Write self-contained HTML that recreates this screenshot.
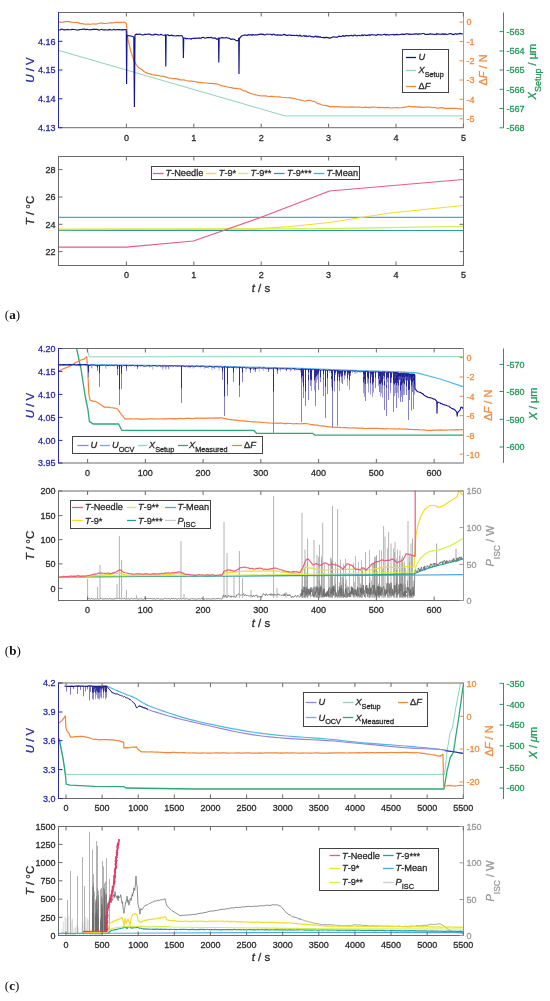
<!DOCTYPE html>
<html><head><meta charset="utf-8"><title>Figure</title>
<style>
html,body{margin:0;padding:0;background:#fff;}
svg{display:block;}
text{font-family:"Liberation Sans",Arial,sans-serif;}
</style></head>
<body>
<svg width="550" height="1001" viewBox="0 0 550 1001">
<rect width="550" height="1001" fill="#fff"/>
<polyline points="59,50.5 285,115.9 463,115.9" fill="none" stroke="#8fd4b8" stroke-width="1" stroke-linejoin="round"/>
<polyline points="59,21.94 61,22.32 63,22.14 65,21.67 67,21.72 69,21.56 71.25,22.06 73.5,22.5 75.75,22.37 78,22.67 80.25,23.59 82.5,23.65 84.75,24.23 87,24.05 89,24.21 91,24.26 93,23.76 95,24.11 97.25,23.96 99.5,23.22 101.75,23.09 104,23.33 106.2,23.51 108.4,23.02 110.6,22.8 112.8,22.85 115,22.47 117.15,22.46 119.3,22.46 121.45,22.35 123.6,22.01 125.6,22.81 126.4,23.8 128,39.97 131,51.85 134,60.67 136,64.24 138,67.04 140,68.6 142,69.78 144,71.54 146,72.65 148,73.33 150,73.88 152,74.56 154,74.85 156,75.31 158,75.25 160,75.83 162,76.2 164,76.42 166,77.1 168,77.79 170,78.24 172,78.32 174,78.7 176,78.63 178,79.1 180,79.81 182,79.82 184,79.93 186,80.47 188,80.86 190,81.12 192,81.19 194,81.52 196,81.85 198,82.31 200,82.41 202,82.63 204,82.99 206,82.97 208,83.28 210,83.44 212,83.34 214,83.57 216,83.93 218,84.27 220,85 222,85.84 224,86.19 226,86.53 228,87.25 230,87.31 232,87.81 234,88.42 236,88.45 238,88.67 240,88.84 242,89.83 244,90.92 246,91.05 248,92.4 250,93.22 252.5,93.97 255,94.57 257.5,95.22 260,95.61 262,95.8 264,95.87 266,95.77 268,96.5 270,96.45 272,96.31 274,96.64 276,96.75 278,96.78 280,96.89 282,97.23 284,97.49 286,97.68 288,97.77 290,97.67 292,98.13 294,98.41 296,99.02 298,99.53 300,99.81 302.5,100.51 305,101.22 307.5,100.33 310,100.24 312.5,101.12 315,101.71 318,103.66 320.33,104.19 322.67,105.25 325,105.42 327.5,105.93 330,106.89 332,106.72 334,106.57 336,106.66 338,106.95 340,106.73 342,106.84 344,107.18 346,107.03 348,106.98 350,107.11 352,106.83 354,107.12 356,107.18 358,107.05 360,107.03 362,107.6 364,107.36 366,107.17 368,107.47 370,107.65 372,107.11 374,107.14 376,107.25 378,107.68 380,107.31 382,107.72 384,107.72 386,107.66 388,107.45 390,108.01 392,107.91 394,107.74 396,107.56 398,107.88 400,107.73 402,107.59 404,107.15 406,107.11 408,106.45 410,106.36 412,106.91 414,106.94 416,106.62 418,107.1 420,106.8 422,107.33 424,107.28 426,107.13 428,107.11 430,107.02 432,107.72 434,107.22 436,107.85 438,108.04 440,107.85 442.09,107.68 444.18,108.28 446.27,108.46 448.36,108.38 450.45,108.35 452.55,108.37 454.64,108.46 456.73,108.47 458.82,108.9 460.91,108.84 463,109" fill="none" stroke="#f4843a" stroke-width="1.2" stroke-linejoin="round"/>
<polyline points="59,30.01 60.21,30 61.43,29.2 62.64,29.23 63.86,29.9 65.07,29.81 66.29,29.75 67.5,29.43 68.72,29.7 69.93,29.7 71.15,29.67 72.36,29.29 73.57,29.54 74.79,29.5 76,29.8 77.22,30.05 78.43,30 79.65,29.64 80.86,29.55 82.08,29.39 83.29,29.18 84.51,29.17 85.72,29.57 86.93,29.44 88.15,29.49 89.36,29.95 90.58,29.62 91.79,29.65 93.01,29.36 94.22,29.17 95.44,29.44 96.65,29.27 97.87,29.61 99.08,30.05 100.29,29.76 101.51,29.31 102.72,29.95 103.94,29.87 105.15,29.81 106.37,29.97 107.58,29.84 108.8,29.86 110.01,29.47 111.23,30.03 112.44,30.02 113.65,29.3 114.87,29.83 116.08,29.79 117.3,29.57 118.51,29.63 119.73,29.59 120.94,29.98 122.16,29.6 123.37,29.9 124.59,29.47 125.8,29.6 126.3,29.8 126.6,84 127,35.6 127.5,35.42 128.75,35.78 130,35.81 131.25,36.12 132.5,36.29 133.8,37 134.4,107 135,35 136,34.31 137,34.15 138,34.46 139,34.18 140,34.07 141,34.42 142,34.97 143,34.83 144,34.78 145,34.17 146,34.5 147,34.2 148,34.07 149,33.98 150,34.09 151,34.89 152,34.8 153,34.8 154,34.81 155,34.16 156,34.31 157,34.68 158,34.82 159,34.97 160,35.02 161.04,34.29 162.08,35 163.12,35.21 164.16,35.17 165.2,34.95 165.5,34.97 165.8,66.4 166.15,34.97 167,34.97 168,34.61 169,35.61 170,35.6 171,35.32 172,35.11 173,35.85 174,35.55 175,35.95 176,35.98 177,35.68 178,35.64 179,35.91 180,35.79 181,35.56 182,35.79 183,37.59 183.1,38 183.4,58 183.75,38 184,38 185,38.05 186,38.74 187,38.41 188,38.74 189,38.72 190,38.63 191,39.27 192,38.31 193,38.46 194,38.15 195,38.55 196,38.07 197,38.08 198,38.43 199,37.88 200,38.06 201,38.42 202,37.51 203,37.44 204,37.6 205,38.16 206,37.97 207,37.52 208,37.6 209,37.41 210,37.69 211,37.2 212,37.9 213,38.09 214,38.13 215,37.86 216.4,39.06 217.8,38.97 218.5,38.32 218.8,62.4 219.15,38.32 218.9,38.32 220,38.11 221,37.9 222,37.5 223,38.09 224,37.73 225,37.95 226,37.61 227,37.74 228,38.26 229,38.16 230,38.67 231,39.55 232,39.09 233,38.98 234,39.26 235,39.64 236.17,40.65 237.33,40.52 238.5,40.77 238.7,38.06 239,74 239.35,38.06 239.75,38.06 241,36.53 242,35.81 243,35.46 244,35.18 245,35.07 246,35.08 247,35.53 248,34.84 249,34.61 250,34.99 251,34.67 252,35.45 253,34.43 254,34.83 255,35.05 256,34.6 257,35.19 258,34.58 259,34.27 260,34.4 261,33.94 262,34.31 263,34.14 264,34.87 265,34.83 266,34.48 267,33.99 268,34.26 269,34.27 270,34.25 271,34.3 272,35.02 273,34.24 274,34.16 275,35.15 276,34.77 277,35.26 278,34.64 279,35.21 280,34.96 281,35.13 282,35.1 283,34.84 284,34.42 285,34.57 286,35.33 287,35.38 288,35.42 289,34.8 290,35.17 291,35.38 292,35.26 293,35.5 294,35.23 295,35.42 296,35.5 297,35.1 298,35.87 299,35.95 300,35.03 301,36.11 302,36.19 303,35.96 304,35.36 305,36.39 306,35.63 307,36.65 308,36.4 309,35.83 310,36.03 311,36.61 312,36.6 313,36.85 314,37.11 315,36.39 316,36.21 317,37.28 318,36.34 319,37.35 320,36.58 321,37.42 322,37.47 323,37.66 324,37.38 325,37.82 326,37.15 327,37.75 328,37.45 329,38.15 330,38.1 331,37.64 332,37.56 333,36.88 334,36.75 335,37.24 336,36.99 337,37.27 338,36.85 339,36.2 340,36.32 341,36.63 342,36.23 343,35.53 344,36.3 345,36.16 346,35.32 347,35.79 348,35.58 349,36 350,35.45 351,35.34 352,35.59 353,36.08 354,35.1 355,35.09 356,35.62 357,35.88 358,35.44 359,35.33 360,35.77 361,35.65 362,34.84 363,35.71 364,34.92 365,35.01 366,35.57 367,35.09 368,35.47 369,34.75 370,35.5 371,34.7 372,34.64 373,34.99 374,34.79 375,34.99 376,35.36 377,35.12 378,34.31 379,34.62 380,34.85 381,34.77 382,35 383,34.72 384,34.25 385,34.42 386,35.06 387,34.5 388,34.93 389,35.15 390,34.74 391,34.77 392,34.68 393,34.33 394,34.97 395,34.46 396,34.93 397,34.25 398,34.84 399,34.74 400,34.52 401,34.32 402,33.96 403,34.64 404,34.17 405,34.48 406,33.88 407,33.8 408,33.85 409,34.56 410,33.85 411,34.62 412,34.02 413,34.22 414,33.96 415,34.23 416,33.63 417,33.95 418,34.52 419,33.67 420,34.17 421,33.81 422,33.78 423,33.48 424,33.47 425,34.49 426,34.36 427,34.33 428,34.34 429,34.5 430,33.62 431,34.09 432,33.99 433,34.08 434,34.48 435,34.29 436,34.52 437,33.58 438,34.17 439,34.19 440,34.27 441,34.13 442,34.36 443,33.78 444,34.47 445,33.9 446,34.11 447,34.44 448,34.22 449,33.79 450,33.7 451,33.81 452,34.14 453,34.55 454,34.44 455,33.89 456,33.89 457,34.35 458,33.76 459,33.9 460,33.46 461,33.65 462,34.04 463,34" fill="none" stroke="#14148c" stroke-width="1.15" stroke-linejoin="miter"/>
<line x1="58.5" y1="12.5" x2="463.5" y2="12.5" stroke="#6a6a6a" stroke-width="1"/>
<line x1="58.5" y1="127.7" x2="463.5" y2="127.7" stroke="#6a6a6a" stroke-width="1"/>
<line x1="58.5" y1="12" x2="58.5" y2="128.2" stroke="#2b2ba0" stroke-width="1"/>
<line x1="463.5" y1="12" x2="463.5" y2="128.2" stroke="#f08a3c" stroke-width="1"/>
<line x1="126.4" y1="127.7" x2="126.4" y2="123.7" stroke="#6a6a6a" stroke-width="1"/>
<line x1="126.4" y1="12.5" x2="126.4" y2="16.5" stroke="#6a6a6a" stroke-width="1"/>
<text x="126.4" y="140.6" font-size="9" fill="#2b2b2b" stroke="#2b2b2b" stroke-width="0.3" text-anchor="middle">0</text>
<line x1="193.8" y1="127.7" x2="193.8" y2="123.7" stroke="#6a6a6a" stroke-width="1"/>
<line x1="193.8" y1="12.5" x2="193.8" y2="16.5" stroke="#6a6a6a" stroke-width="1"/>
<text x="193.8" y="140.6" font-size="9" fill="#2b2b2b" stroke="#2b2b2b" stroke-width="0.3" text-anchor="middle">1</text>
<line x1="261.2" y1="127.7" x2="261.2" y2="123.7" stroke="#6a6a6a" stroke-width="1"/>
<line x1="261.2" y1="12.5" x2="261.2" y2="16.5" stroke="#6a6a6a" stroke-width="1"/>
<text x="261.2" y="140.6" font-size="9" fill="#2b2b2b" stroke="#2b2b2b" stroke-width="0.3" text-anchor="middle">2</text>
<line x1="328.6" y1="127.7" x2="328.6" y2="123.7" stroke="#6a6a6a" stroke-width="1"/>
<line x1="328.6" y1="12.5" x2="328.6" y2="16.5" stroke="#6a6a6a" stroke-width="1"/>
<text x="328.6" y="140.6" font-size="9" fill="#2b2b2b" stroke="#2b2b2b" stroke-width="0.3" text-anchor="middle">3</text>
<line x1="396" y1="127.7" x2="396" y2="123.7" stroke="#6a6a6a" stroke-width="1"/>
<line x1="396" y1="12.5" x2="396" y2="16.5" stroke="#6a6a6a" stroke-width="1"/>
<text x="396" y="140.6" font-size="9" fill="#2b2b2b" stroke="#2b2b2b" stroke-width="0.3" text-anchor="middle">4</text>
<line x1="463.4" y1="127.7" x2="463.4" y2="123.7" stroke="#6a6a6a" stroke-width="1"/>
<line x1="463.4" y1="12.5" x2="463.4" y2="16.5" stroke="#6a6a6a" stroke-width="1"/>
<text x="463.4" y="140.6" font-size="9" fill="#2b2b2b" stroke="#2b2b2b" stroke-width="0.3" text-anchor="middle">5</text>
<line x1="58.5" y1="127.7" x2="62.5" y2="127.7" stroke="#2b2ba0" stroke-width="1"/>
<text x="55.5" y="131" font-size="9" fill="#2b2ba0" stroke="#2b2ba0" stroke-width="0.3" text-anchor="end">4.13</text>
<line x1="58.5" y1="98.8" x2="62.5" y2="98.8" stroke="#2b2ba0" stroke-width="1"/>
<text x="55.5" y="102.1" font-size="9" fill="#2b2ba0" stroke="#2b2ba0" stroke-width="0.3" text-anchor="end">4.14</text>
<line x1="58.5" y1="70" x2="62.5" y2="70" stroke="#2b2ba0" stroke-width="1"/>
<text x="55.5" y="73.3" font-size="9" fill="#2b2ba0" stroke="#2b2ba0" stroke-width="0.3" text-anchor="end">4.15</text>
<line x1="58.5" y1="41.3" x2="62.5" y2="41.3" stroke="#2b2ba0" stroke-width="1"/>
<text x="55.5" y="44.6" font-size="9" fill="#2b2ba0" stroke="#2b2ba0" stroke-width="0.3" text-anchor="end">4.16</text>
<line x1="459.5" y1="22.1" x2="463.5" y2="22.1" stroke="#f08a3c" stroke-width="1"/>
<text x="466.5" y="25.4" font-size="9" fill="#f08a3c" stroke="#f08a3c" stroke-width="0.3" text-anchor="start">0</text>
<line x1="459.5" y1="41.5" x2="463.5" y2="41.5" stroke="#f08a3c" stroke-width="1"/>
<text x="466.5" y="44.8" font-size="9" fill="#f08a3c" stroke="#f08a3c" stroke-width="0.3" text-anchor="start">-1</text>
<line x1="459.5" y1="60.8" x2="463.5" y2="60.8" stroke="#f08a3c" stroke-width="1"/>
<text x="466.5" y="64.1" font-size="9" fill="#f08a3c" stroke="#f08a3c" stroke-width="0.3" text-anchor="start">-2</text>
<line x1="459.5" y1="80" x2="463.5" y2="80" stroke="#f08a3c" stroke-width="1"/>
<text x="466.5" y="83.3" font-size="9" fill="#f08a3c" stroke="#f08a3c" stroke-width="0.3" text-anchor="start">-3</text>
<line x1="459.5" y1="99.3" x2="463.5" y2="99.3" stroke="#f08a3c" stroke-width="1"/>
<text x="466.5" y="102.6" font-size="9" fill="#f08a3c" stroke="#f08a3c" stroke-width="0.3" text-anchor="start">-4</text>
<line x1="459.5" y1="118.8" x2="463.5" y2="118.8" stroke="#f08a3c" stroke-width="1"/>
<text x="466.5" y="122.1" font-size="9" fill="#f08a3c" stroke="#f08a3c" stroke-width="0.3" text-anchor="start">-5</text>
<line x1="503.5" y1="12.5" x2="503.5" y2="127.8" stroke="#23995a" stroke-width="1"/>
<line x1="499.5" y1="31.6" x2="503.5" y2="31.6" stroke="#23995a" stroke-width="1"/>
<text x="506.5" y="34.9" font-size="9" fill="#23995a" stroke="#23995a" stroke-width="0.3" text-anchor="start">-563</text>
<line x1="499.5" y1="51" x2="503.5" y2="51" stroke="#23995a" stroke-width="1"/>
<text x="506.5" y="54.3" font-size="9" fill="#23995a" stroke="#23995a" stroke-width="0.3" text-anchor="start">-564</text>
<line x1="499.5" y1="70" x2="503.5" y2="70" stroke="#23995a" stroke-width="1"/>
<text x="506.5" y="73.3" font-size="9" fill="#23995a" stroke="#23995a" stroke-width="0.3" text-anchor="start">-565</text>
<line x1="499.5" y1="89.3" x2="503.5" y2="89.3" stroke="#23995a" stroke-width="1"/>
<text x="506.5" y="92.6" font-size="9" fill="#23995a" stroke="#23995a" stroke-width="0.3" text-anchor="start">-566</text>
<line x1="499.5" y1="108.5" x2="503.5" y2="108.5" stroke="#23995a" stroke-width="1"/>
<text x="506.5" y="111.8" font-size="9" fill="#23995a" stroke="#23995a" stroke-width="0.3" text-anchor="start">-567</text>
<line x1="499.5" y1="127.8" x2="503.5" y2="127.8" stroke="#23995a" stroke-width="1"/>
<text x="506.5" y="131.1" font-size="9" fill="#23995a" stroke="#23995a" stroke-width="0.3" text-anchor="start">-568</text>
<text x="33.5" y="70" font-size="11.5" fill="#2b2ba0" stroke="#2b2ba0" stroke-width="0.3" text-anchor="middle" transform="rotate(-90 33.5 70)"><tspan font-style="italic">U</tspan> / V</text>
<text x="487" y="70" font-size="11" fill="#f08a3c" stroke="#f08a3c" stroke-width="0.3" text-anchor="middle" transform="rotate(-90 487 70)">Δ<tspan font-style="italic">F</tspan> / N</text>
<text x="536" y="71.6" font-size="11" fill="#23995a" stroke="#23995a" stroke-width="0.3" text-anchor="middle" transform="rotate(-90 536 71.6)"><tspan font-style="italic">X</tspan><tspan font-size="9" dy="5.5">Setup</tspan><tspan dy="-5.5"> / μm</tspan></text>
<rect x="402.5" y="49.5" width="46" height="43" fill="#fff" stroke="#444" stroke-width="1"/>
<line x1="406" y1="57.5" x2="416" y2="57.5" stroke="#14148c" stroke-width="1.3"/>
<line x1="406" y1="70.5" x2="416" y2="70.5" stroke="#8fd4b8" stroke-width="1.3"/>
<line x1="406" y1="86.5" x2="416" y2="86.5" stroke="#f4843a" stroke-width="1.3"/>
<text x="418.5" y="60.3" font-size="9.2" fill="#2b2b2b" stroke="#2b2b2b" stroke-width="0.3" text-anchor="start"><tspan font-style="italic">U</tspan></text>
<text x="418.5" y="73.3" font-size="9.2" fill="#2b2b2b" stroke="#2b2b2b" stroke-width="0.3" text-anchor="start"><tspan font-style="italic">X</tspan><tspan font-size="7.3" dy="3.5">Setup</tspan></text>
<text x="418.5" y="89.3" font-size="9.2" fill="#2b2b2b" stroke="#2b2b2b" stroke-width="0.3" text-anchor="start">Δ<tspan font-style="italic">F</tspan></text>
<polyline points="59,217.4 463,217.4" fill="none" stroke="#4fa6dc" stroke-width="1.2" stroke-linejoin="round"/>
<polyline points="59,230.5 463,230.5" fill="none" stroke="#2a9c9e" stroke-width="1.2" stroke-linejoin="round"/>
<polyline points="59,229.6 330,228.6 463,226.3" fill="none" stroke="#d6ef45" stroke-width="1.2" stroke-linejoin="round"/>
<polyline points="59,229.2 255,229.2 290,226.5 329.5,222.5 390,213 463,205.5" fill="none" stroke="#f3dc2a" stroke-width="1.2" stroke-linejoin="round"/>
<polyline points="59,247.2 126.4,247.2 193.4,241 260.5,217.5 329.5,191 463,179.5" fill="none" stroke="#ea5a84" stroke-width="1.2" stroke-linejoin="round"/>
<line x1="58.5" y1="156.5" x2="463.5" y2="156.5" stroke="#6a6a6a" stroke-width="1"/>
<line x1="58.5" y1="265.5" x2="463.5" y2="265.5" stroke="#6a6a6a" stroke-width="1"/>
<line x1="58.5" y1="156" x2="58.5" y2="266" stroke="#6a6a6a" stroke-width="1"/>
<line x1="463.5" y1="156" x2="463.5" y2="266" stroke="#6a6a6a" stroke-width="1"/>
<line x1="126.4" y1="265.5" x2="126.4" y2="261.5" stroke="#6a6a6a" stroke-width="1"/>
<line x1="126.4" y1="156.5" x2="126.4" y2="160.5" stroke="#6a6a6a" stroke-width="1"/>
<text x="126.4" y="277.6" font-size="9" fill="#2b2b2b" stroke="#2b2b2b" stroke-width="0.3" text-anchor="middle">0</text>
<line x1="193.8" y1="265.5" x2="193.8" y2="261.5" stroke="#6a6a6a" stroke-width="1"/>
<line x1="193.8" y1="156.5" x2="193.8" y2="160.5" stroke="#6a6a6a" stroke-width="1"/>
<text x="193.8" y="277.6" font-size="9" fill="#2b2b2b" stroke="#2b2b2b" stroke-width="0.3" text-anchor="middle">1</text>
<line x1="261.2" y1="265.5" x2="261.2" y2="261.5" stroke="#6a6a6a" stroke-width="1"/>
<line x1="261.2" y1="156.5" x2="261.2" y2="160.5" stroke="#6a6a6a" stroke-width="1"/>
<text x="261.2" y="277.6" font-size="9" fill="#2b2b2b" stroke="#2b2b2b" stroke-width="0.3" text-anchor="middle">2</text>
<line x1="328.6" y1="265.5" x2="328.6" y2="261.5" stroke="#6a6a6a" stroke-width="1"/>
<line x1="328.6" y1="156.5" x2="328.6" y2="160.5" stroke="#6a6a6a" stroke-width="1"/>
<text x="328.6" y="277.6" font-size="9" fill="#2b2b2b" stroke="#2b2b2b" stroke-width="0.3" text-anchor="middle">3</text>
<line x1="396" y1="265.5" x2="396" y2="261.5" stroke="#6a6a6a" stroke-width="1"/>
<line x1="396" y1="156.5" x2="396" y2="160.5" stroke="#6a6a6a" stroke-width="1"/>
<text x="396" y="277.6" font-size="9" fill="#2b2b2b" stroke="#2b2b2b" stroke-width="0.3" text-anchor="middle">4</text>
<line x1="463.4" y1="265.5" x2="463.4" y2="261.5" stroke="#6a6a6a" stroke-width="1"/>
<line x1="463.4" y1="156.5" x2="463.4" y2="160.5" stroke="#6a6a6a" stroke-width="1"/>
<text x="463.4" y="277.6" font-size="9" fill="#2b2b2b" stroke="#2b2b2b" stroke-width="0.3" text-anchor="middle">5</text>
<line x1="58.5" y1="251.6" x2="62.5" y2="251.6" stroke="#6a6a6a" stroke-width="1"/>
<text x="55.5" y="254.9" font-size="9" fill="#2b2b2b" stroke="#2b2b2b" stroke-width="0.3" text-anchor="end">22</text>
<line x1="58.5" y1="224.3" x2="62.5" y2="224.3" stroke="#6a6a6a" stroke-width="1"/>
<text x="55.5" y="227.6" font-size="9" fill="#2b2b2b" stroke="#2b2b2b" stroke-width="0.3" text-anchor="end">24</text>
<line x1="58.5" y1="197" x2="62.5" y2="197" stroke="#6a6a6a" stroke-width="1"/>
<text x="55.5" y="200.3" font-size="9" fill="#2b2b2b" stroke="#2b2b2b" stroke-width="0.3" text-anchor="end">26</text>
<line x1="58.5" y1="169.6" x2="62.5" y2="169.6" stroke="#6a6a6a" stroke-width="1"/>
<text x="55.5" y="172.9" font-size="9" fill="#2b2b2b" stroke="#2b2b2b" stroke-width="0.3" text-anchor="end">28</text>
<line x1="459.5" y1="251.6" x2="463.5" y2="251.6" stroke="#6a6a6a" stroke-width="1"/>
<line x1="459.5" y1="224.3" x2="463.5" y2="224.3" stroke="#6a6a6a" stroke-width="1"/>
<line x1="459.5" y1="197" x2="463.5" y2="197" stroke="#6a6a6a" stroke-width="1"/>
<line x1="459.5" y1="169.6" x2="463.5" y2="169.6" stroke="#6a6a6a" stroke-width="1"/>
<text x="34" y="210.5" font-size="11.5" fill="#2b2b2b" stroke="#2b2b2b" stroke-width="0.3" text-anchor="middle" transform="rotate(-90 34 210.5)"><tspan font-style="italic">T</tspan> / °C</text>
<text x="261" y="291.8" font-size="11.5" fill="#2b2b2b" stroke="#2b2b2b" stroke-width="0.3" text-anchor="middle"><tspan font-style="italic">t</tspan> / s</text>
<rect x="151.5" y="166.5" width="208" height="13" fill="#fff" stroke="#444" stroke-width="1"/>
<line x1="153" y1="173.5" x2="163.5" y2="173.5" stroke="#ea5a84" stroke-width="1.3"/>
<text x="165.5" y="176" font-size="9.2" fill="#2b2b2b" stroke="#2b2b2b" stroke-width="0.3" text-anchor="start"><tspan font-style="italic">T</tspan>-Needle</text>
<line x1="206" y1="173.5" x2="216.4" y2="173.5" stroke="#f3dc2a" stroke-width="1.3"/>
<text x="218.8" y="176" font-size="9.2" fill="#2b2b2b" stroke="#2b2b2b" stroke-width="0.3" text-anchor="start"><tspan font-style="italic">T</tspan>-9*</text>
<line x1="238" y1="173.5" x2="248" y2="173.5" stroke="#d6ef45" stroke-width="1.3"/>
<text x="250.5" y="176" font-size="9.2" fill="#2b2b2b" stroke="#2b2b2b" stroke-width="0.3" text-anchor="start"><tspan font-style="italic">T</tspan>-9**</text>
<line x1="274" y1="173.5" x2="284.5" y2="173.5" stroke="#2a9c9e" stroke-width="1.3"/>
<text x="287" y="176" font-size="9.2" fill="#2b2b2b" stroke="#2b2b2b" stroke-width="0.3" text-anchor="start"><tspan font-style="italic">T</tspan>-9***</text>
<line x1="313.8" y1="173.5" x2="324.3" y2="173.5" stroke="#4fa6dc" stroke-width="1.3"/>
<text x="326.4" y="176" font-size="9.2" fill="#2b2b2b" stroke="#2b2b2b" stroke-width="0.3" text-anchor="start"><tspan font-style="italic">T</tspan>-Mean</text>
<text x="4.8" y="319" font-size="13" fill="#111" stroke="#111" stroke-width="0.3" text-anchor="start" style="font-family:'Liberation Serif',serif;font-weight:bold;stroke-width:0"><tspan style="font-weight:normal">(</tspan>a<tspan style="font-weight:normal">)</tspan></text>
<polyline points="86.6,348.5 88.2,353 89.2,356.8 463,356.6" fill="none" stroke="#8fd4b8" stroke-width="1" stroke-linejoin="round"/>
<polyline points="76.6,348.5 81,369 85,395 88,410 89.4,421.4 93,424 118.6,424 121.7,430.3 253.6,430.3 256.5,433.3 312.6,433.3 315,435.2 463,435.2" fill="none" stroke="#2ea777" stroke-width="1.3" stroke-linejoin="round"/>
<polyline points="59,370.98 62,369.52 65,368.17 68,366.99 71,365.5 73,364.28 75,362.87 78,361.5 81,360.05 84,359.12 86.8,356.84 87.8,371.92 88.8,393.84 90,400.12 93,401.08 95,401.32 97,402.19 100,404.19 102,405.56 104,407.05 106,407.06 108,407.21 110,407.61 112.33,407.76 114.67,408.14 117,408.5 119,411.11 121,413.99 123,416.43 125,419.04 127.08,418.92 129.17,418.97 131.25,418.92 133.33,419 135.42,418.92 137.5,418.86 139.58,419.16 141.67,419.16 143.75,419.11 145.83,419.07 147.92,418.92 150,418.89 152,418.89 154,418.77 156,419.02 158,418.84 160,418.99 162,418.77 164,418.97 166,418.9 168,418.53 170,418.58 172,418.83 174,418.63 176,418.8 178,418.54 180,418.38 182,418.57 184,418.6 186,418.37 188,418.26 190,418.33 192,418.56 194,418.45 196,418.17 198,418.2 200,418.12 202,418.07 204,418.34 206,418.07 208,418.2 210,418.13 212,418 214,418.19 216,417.93 218,418.11 220,417.87 222,417.97 224,418.29 226,418.71 228,419.39 230,419.72 232,419.72 234,420.15 236,420.08 238,420.36 240,420.74 242,420.86 244,420.84 246,421.4 248,421.29 250,421.5 252,421.85 254,421.81 256,421.94 258,421.99 260,422.14 262,422.47 264,422.48 266,422.76 268,422.81 270,422.98 272,423.24 274,423.11 276,423.21 278,423.39 280,423.17 282,423.22 284,423.58 286,423.61 288,423.44 290,423.48 292.14,423.7 294.29,423.78 296.43,423.48 298.57,423.78 300.71,423.75 302.86,423.64 305,423.57 307,423.72 309,423.98 311,424.63 313,424.62 315,425.08 317.14,425.19 319.29,425.7 321.43,425.9 323.57,426.06 325.71,426.3 327.86,426.8 330,426.83 332,426.99 334,427.22 336,427.44 338,427.45 340,427.41 342,427.77 344,427.58 346,427.61 348,427.81 350,427.98 352.04,427.86 354.07,427.94 356.11,428.06 358.15,428.18 360.19,428.04 362.22,428.17 364.26,428.42 366.3,428.49 368.33,428.4 370.37,428.45 372.41,428.44 374.44,428.3 376.48,428.3 378.52,428.33 380.56,428.72 382.59,428.67 384.63,428.81 386.67,428.48 388.7,428.76 390.74,428.73 392.78,428.87 394.81,428.74 396.85,429.05 398.89,428.72 400.93,428.94 402.96,429.06 405,429.16 407.08,429.2 409.17,429.3 411.25,429.44 413.33,429.6 415.42,429.48 417.5,429.72 419.58,429.92 421.67,430.02 423.75,429.94 425.83,430.2 427.92,430.34 430,430.33 432.06,430.31 434.12,430.17 436.19,430.2 438.25,430.17 440.31,429.91 442.38,430.09 444.44,430.19 446.5,430.1 448.56,430 450.62,429.82 452.69,429.91 454.75,429.81 456.81,429.71 458.88,429.82 460.94,429.48 463,429.6" fill="none" stroke="#f4843a" stroke-width="1.2" stroke-linejoin="round"/>
<polyline points="59,364.6 87.6,364.6 190,365.8 222,366.4 300,368.4 360,370.6 395,371.6 415,372.6 420,373.6 440,379 463,386.6" fill="none" stroke="#5ab4e4" stroke-width="1.2" stroke-linejoin="round"/>
<polyline points="59,364.83 60.51,364.77 62.01,364.83 63.52,364.68 65.02,364.93 66.53,364.93 68.03,364.86 69.54,364.66 71.04,364.81 72.55,364.73 74.05,364.7 75.56,364.98 77.06,365 78.57,364.62 80.07,364.94 81.58,364.84 83.08,364.75 84.59,364.71 86.09,364.87 87.6,364.8" fill="none" stroke="#14148c" stroke-width="1.2" stroke-linejoin="round"/>
<line x1="88.5" y1="365.3" x2="88.5" y2="377" stroke="#8580d0" stroke-width="1"/>
<line x1="88.5" y1="365.3" x2="88.5" y2="372.32" stroke="#2a2aa0" stroke-width="1"/>
<line x1="97.5" y1="365.4" x2="97.5" y2="371" stroke="#8580d0" stroke-width="1"/>
<line x1="97.5" y1="365.4" x2="97.5" y2="367.36" stroke="#2a2aa0" stroke-width="1"/>
<line x1="99.5" y1="365.42" x2="99.5" y2="387" stroke="#8580d0" stroke-width="1"/>
<line x1="99.5" y1="365.42" x2="99.5" y2="372.97" stroke="#2a2aa0" stroke-width="1"/>
<line x1="117.5" y1="365.59" x2="117.5" y2="375" stroke="#8580d0" stroke-width="1"/>
<line x1="117.5" y1="365.59" x2="117.5" y2="368.88" stroke="#2a2aa0" stroke-width="1"/>
<line x1="119.5" y1="365.61" x2="119.5" y2="405" stroke="#8580d0" stroke-width="1"/>
<line x1="119.5" y1="365.61" x2="119.5" y2="389.24" stroke="#2a2aa0" stroke-width="1"/>
<line x1="121.5" y1="365.63" x2="121.5" y2="389" stroke="#8580d0" stroke-width="1"/>
<line x1="121.5" y1="365.63" x2="121.5" y2="373.81" stroke="#2a2aa0" stroke-width="1"/>
<line x1="126.5" y1="365.68" x2="126.5" y2="371" stroke="#8580d0" stroke-width="1"/>
<line x1="126.5" y1="365.68" x2="126.5" y2="367.54" stroke="#2a2aa0" stroke-width="1"/>
<line x1="137.5" y1="365.78" x2="137.5" y2="369" stroke="#8580d0" stroke-width="1"/>
<line x1="137.5" y1="365.78" x2="137.5" y2="366.91" stroke="#2a2aa0" stroke-width="1"/>
<line x1="181.5" y1="366.21" x2="181.5" y2="403" stroke="#8580d0" stroke-width="1"/>
<line x1="181.5" y1="366.21" x2="181.5" y2="388.28" stroke="#2a2aa0" stroke-width="1"/>
<line x1="222.5" y1="367" x2="222.5" y2="380" stroke="#8580d0" stroke-width="1"/>
<line x1="222.5" y1="367" x2="222.5" y2="371.55" stroke="#2a2aa0" stroke-width="1"/>
<line x1="224.5" y1="367.06" x2="224.5" y2="416" stroke="#8580d0" stroke-width="1"/>
<line x1="224.5" y1="367.06" x2="224.5" y2="396.42" stroke="#2a2aa0" stroke-width="1"/>
<line x1="227.5" y1="367.14" x2="227.5" y2="396" stroke="#8580d0" stroke-width="1"/>
<line x1="227.5" y1="367.14" x2="227.5" y2="384.46" stroke="#2a2aa0" stroke-width="1"/>
<line x1="233.5" y1="367.33" x2="233.5" y2="382" stroke="#8580d0" stroke-width="1"/>
<line x1="233.5" y1="367.33" x2="233.5" y2="372.46" stroke="#2a2aa0" stroke-width="1"/>
<line x1="239.5" y1="367.5" x2="239.5" y2="397" stroke="#8580d0" stroke-width="1"/>
<line x1="239.5" y1="367.5" x2="239.5" y2="385.2" stroke="#2a2aa0" stroke-width="1"/>
<line x1="242.5" y1="367.58" x2="242.5" y2="382" stroke="#8580d0" stroke-width="1"/>
<line x1="242.5" y1="367.58" x2="242.5" y2="372.62" stroke="#2a2aa0" stroke-width="1"/>
<line x1="250.5" y1="367.79" x2="250.5" y2="373" stroke="#8580d0" stroke-width="1"/>
<line x1="250.5" y1="367.79" x2="250.5" y2="369.61" stroke="#2a2aa0" stroke-width="1"/>
<line x1="255.5" y1="367.93" x2="255.5" y2="372" stroke="#8580d0" stroke-width="1"/>
<line x1="255.5" y1="367.93" x2="255.5" y2="369.36" stroke="#2a2aa0" stroke-width="1"/>
<line x1="268.5" y1="368.3" x2="268.5" y2="372" stroke="#8580d0" stroke-width="1"/>
<line x1="268.5" y1="368.3" x2="268.5" y2="369.59" stroke="#2a2aa0" stroke-width="1"/>
<line x1="273.5" y1="368.44" x2="273.5" y2="434" stroke="#8580d0" stroke-width="1"/>
<line x1="273.5" y1="368.44" x2="273.5" y2="391.38" stroke="#2a2aa0" stroke-width="1"/>
<line x1="277.5" y1="368.55" x2="277.5" y2="374" stroke="#8580d0" stroke-width="1"/>
<line x1="277.5" y1="368.55" x2="277.5" y2="370.46" stroke="#2a2aa0" stroke-width="1"/>
<line x1="286.5" y1="368.81" x2="286.5" y2="371" stroke="#8580d0" stroke-width="1"/>
<line x1="286.5" y1="368.81" x2="286.5" y2="369.57" stroke="#2a2aa0" stroke-width="1"/>
<line x1="294.5" y1="369.03" x2="294.5" y2="370" stroke="#8580d0" stroke-width="1"/>
<line x1="294.5" y1="369.03" x2="294.5" y2="369.37" stroke="#2a2aa0" stroke-width="1"/>
<line x1="301.5" y1="369.24" x2="301.5" y2="422" stroke="#8580d0" stroke-width="1"/>
<line x1="301.5" y1="369.24" x2="301.5" y2="387.7" stroke="#2a2aa0" stroke-width="1"/>
<line x1="303.5" y1="369.31" x2="303.5" y2="398" stroke="#8580d0" stroke-width="1"/>
<line x1="303.5" y1="369.31" x2="303.5" y2="386.53" stroke="#2a2aa0" stroke-width="1"/>
<line x1="305.5" y1="369.39" x2="305.5" y2="406" stroke="#8580d0" stroke-width="1"/>
<line x1="305.5" y1="369.39" x2="305.5" y2="391.36" stroke="#2a2aa0" stroke-width="1"/>
<line x1="308.5" y1="369.51" x2="308.5" y2="400" stroke="#8580d0" stroke-width="1"/>
<line x1="308.5" y1="369.51" x2="308.5" y2="380.18" stroke="#2a2aa0" stroke-width="1"/>
<line x1="310.5" y1="369.58" x2="310.5" y2="386" stroke="#8580d0" stroke-width="1"/>
<line x1="310.5" y1="369.58" x2="310.5" y2="379.43" stroke="#2a2aa0" stroke-width="1"/>
<line x1="315.5" y1="369.77" x2="315.5" y2="406" stroke="#8580d0" stroke-width="1"/>
<line x1="315.5" y1="369.77" x2="315.5" y2="391.51" stroke="#2a2aa0" stroke-width="1"/>
<line x1="318.5" y1="369.89" x2="318.5" y2="390" stroke="#8580d0" stroke-width="1"/>
<line x1="318.5" y1="369.89" x2="318.5" y2="376.93" stroke="#2a2aa0" stroke-width="1"/>
<line x1="320.5" y1="369.97" x2="320.5" y2="382" stroke="#8580d0" stroke-width="1"/>
<line x1="320.5" y1="369.97" x2="320.5" y2="377.19" stroke="#2a2aa0" stroke-width="1"/>
<line x1="323.5" y1="370.08" x2="323.5" y2="396" stroke="#8580d0" stroke-width="1"/>
<line x1="323.5" y1="370.08" x2="323.5" y2="379.15" stroke="#2a2aa0" stroke-width="1"/>
<line x1="325.5" y1="370.16" x2="325.5" y2="418" stroke="#8580d0" stroke-width="1"/>
<line x1="325.5" y1="370.16" x2="325.5" y2="386.9" stroke="#2a2aa0" stroke-width="1"/>
<line x1="327.5" y1="370.24" x2="327.5" y2="394" stroke="#8580d0" stroke-width="1"/>
<line x1="327.5" y1="370.24" x2="327.5" y2="384.49" stroke="#2a2aa0" stroke-width="1"/>
<line x1="332.5" y1="370.45" x2="332.5" y2="428" stroke="#8580d0" stroke-width="1"/>
<line x1="332.5" y1="370.45" x2="332.5" y2="390.59" stroke="#2a2aa0" stroke-width="1"/>
<line x1="334.5" y1="370.5" x2="334.5" y2="382" stroke="#8580d0" stroke-width="1"/>
<line x1="334.5" y1="370.5" x2="334.5" y2="377.4" stroke="#2a2aa0" stroke-width="1"/>
<line x1="337.5" y1="370.64" x2="337.5" y2="426" stroke="#8580d0" stroke-width="1"/>
<line x1="337.5" y1="370.64" x2="337.5" y2="390.01" stroke="#2a2aa0" stroke-width="1"/>
<line x1="342.5" y1="370.81" x2="342.5" y2="384" stroke="#8580d0" stroke-width="1"/>
<line x1="342.5" y1="370.81" x2="342.5" y2="375.43" stroke="#2a2aa0" stroke-width="1"/>
<line x1="347.5" y1="371" x2="347.5" y2="378" stroke="#8580d0" stroke-width="1"/>
<line x1="347.5" y1="371" x2="347.5" y2="373.45" stroke="#2a2aa0" stroke-width="1"/>
<line x1="350.5" y1="371.12" x2="350.5" y2="376" stroke="#8580d0" stroke-width="1"/>
<line x1="350.5" y1="371.12" x2="350.5" y2="372.83" stroke="#2a2aa0" stroke-width="1"/>
<line x1="365.5" y1="371.66" x2="365.5" y2="401" stroke="#8580d0" stroke-width="1"/>
<line x1="365.5" y1="371.66" x2="365.5" y2="381.93" stroke="#2a2aa0" stroke-width="1"/>
<line x1="368.5" y1="371.75" x2="368.5" y2="384" stroke="#8580d0" stroke-width="1"/>
<line x1="368.5" y1="371.75" x2="368.5" y2="379.1" stroke="#2a2aa0" stroke-width="1"/>
<line x1="372.5" y1="371.88" x2="372.5" y2="382" stroke="#8580d0" stroke-width="1"/>
<line x1="372.5" y1="371.88" x2="372.5" y2="377.95" stroke="#2a2aa0" stroke-width="1"/>
<line x1="375.5" y1="371.97" x2="375.5" y2="388" stroke="#8580d0" stroke-width="1"/>
<line x1="375.5" y1="371.97" x2="375.5" y2="377.58" stroke="#2a2aa0" stroke-width="1"/>
<line x1="379.5" y1="372.1" x2="379.5" y2="392" stroke="#8580d0" stroke-width="1"/>
<line x1="379.5" y1="372.1" x2="379.5" y2="384.04" stroke="#2a2aa0" stroke-width="1"/>
<line x1="382.5" y1="372.19" x2="382.5" y2="382" stroke="#8580d0" stroke-width="1"/>
<line x1="382.5" y1="372.19" x2="382.5" y2="378.08" stroke="#2a2aa0" stroke-width="1"/>
<line x1="384.5" y1="372.25" x2="384.5" y2="410" stroke="#8580d0" stroke-width="1"/>
<line x1="384.5" y1="372.25" x2="384.5" y2="385.47" stroke="#2a2aa0" stroke-width="1"/>
<line x1="386.5" y1="372.32" x2="386.5" y2="416" stroke="#8580d0" stroke-width="1"/>
<line x1="386.5" y1="372.32" x2="386.5" y2="387.61" stroke="#2a2aa0" stroke-width="1"/>
<line x1="388.5" y1="372.38" x2="388.5" y2="400" stroke="#8580d0" stroke-width="1"/>
<line x1="388.5" y1="372.38" x2="388.5" y2="388.95" stroke="#2a2aa0" stroke-width="1"/>
<line x1="390.5" y1="372.44" x2="390.5" y2="390" stroke="#8580d0" stroke-width="1"/>
<line x1="390.5" y1="372.44" x2="390.5" y2="382.98" stroke="#2a2aa0" stroke-width="1"/>
<line x1="393.5" y1="372.54" x2="393.5" y2="412" stroke="#8580d0" stroke-width="1"/>
<line x1="393.5" y1="372.54" x2="393.5" y2="386.35" stroke="#2a2aa0" stroke-width="1"/>
<line x1="396.5" y1="372.7" x2="396.5" y2="407" stroke="#8580d0" stroke-width="1"/>
<line x1="396.5" y1="372.7" x2="396.5" y2="384.7" stroke="#2a2aa0" stroke-width="1"/>
<line x1="398.5" y1="372.88" x2="398.5" y2="386" stroke="#8580d0" stroke-width="1"/>
<line x1="398.5" y1="372.88" x2="398.5" y2="380.75" stroke="#2a2aa0" stroke-width="1"/>
<line x1="400.5" y1="373.08" x2="400.5" y2="402" stroke="#8580d0" stroke-width="1"/>
<line x1="400.5" y1="373.08" x2="400.5" y2="390.43" stroke="#2a2aa0" stroke-width="1"/>
<line x1="402.5" y1="373.26" x2="402.5" y2="402" stroke="#8580d0" stroke-width="1"/>
<line x1="402.5" y1="373.26" x2="402.5" y2="383.32" stroke="#2a2aa0" stroke-width="1"/>
<line x1="404.5" y1="373.46" x2="404.5" y2="382" stroke="#8580d0" stroke-width="1"/>
<line x1="404.5" y1="373.46" x2="404.5" y2="378.58" stroke="#2a2aa0" stroke-width="1"/>
<line x1="396.5" y1="372.7" x2="396.5" y2="408" stroke="#8580d0" stroke-width="1"/>
<line x1="396.5" y1="372.7" x2="396.5" y2="385.05" stroke="#2a2aa0" stroke-width="1"/>
<line x1="408.5" y1="373.84" x2="408.5" y2="420" stroke="#8580d0" stroke-width="1"/>
<line x1="408.5" y1="373.84" x2="408.5" y2="389.99" stroke="#2a2aa0" stroke-width="1"/>
<line x1="411.5" y1="374.12" x2="411.5" y2="410.5" stroke="#8580d0" stroke-width="1"/>
<line x1="411.5" y1="374.12" x2="411.5" y2="386.85" stroke="#2a2aa0" stroke-width="1"/>
<line x1="413.5" y1="374.31" x2="413.5" y2="409" stroke="#8580d0" stroke-width="1"/>
<line x1="413.5" y1="374.31" x2="413.5" y2="386.45" stroke="#2a2aa0" stroke-width="1"/>
<line x1="406.5" y1="373.64" x2="406.5" y2="395" stroke="#8580d0" stroke-width="1"/>
<line x1="406.5" y1="373.64" x2="406.5" y2="386.46" stroke="#2a2aa0" stroke-width="1"/>
<line x1="409.5" y1="373.93" x2="409.5" y2="400" stroke="#8580d0" stroke-width="1"/>
<line x1="409.5" y1="373.93" x2="409.5" y2="389.57" stroke="#2a2aa0" stroke-width="1"/>
<line x1="412.5" y1="374.22" x2="412.5" y2="392" stroke="#8580d0" stroke-width="1"/>
<line x1="412.5" y1="374.22" x2="412.5" y2="384.89" stroke="#2a2aa0" stroke-width="1"/>
<line x1="331.5" y1="370.41" x2="331.5" y2="387.35" stroke="#8a85d2" stroke-width="1" stroke-opacity="0.8"/>
<line x1="331.5" y1="370.41" x2="331.5" y2="378.88" stroke="#14148c" stroke-width="1" stroke-opacity="0.8"/>
<line x1="339.5" y1="370.73" x2="339.5" y2="390.96" stroke="#8a85d2" stroke-width="1" stroke-opacity="0.8"/>
<line x1="339.5" y1="370.73" x2="339.5" y2="380.85" stroke="#14148c" stroke-width="1" stroke-opacity="0.8"/>
<line x1="337.5" y1="370.63" x2="337.5" y2="390.6" stroke="#8a85d2" stroke-width="1" stroke-opacity="0.8"/>
<line x1="337.5" y1="370.63" x2="337.5" y2="380.61" stroke="#14148c" stroke-width="1" stroke-opacity="0.8"/>
<line x1="302.5" y1="369.29" x2="302.5" y2="382.38" stroke="#8a85d2" stroke-width="1" stroke-opacity="0.8"/>
<line x1="302.5" y1="369.29" x2="302.5" y2="375.84" stroke="#14148c" stroke-width="1" stroke-opacity="0.8"/>
<line x1="347.5" y1="371.01" x2="347.5" y2="385.68" stroke="#8a85d2" stroke-width="1" stroke-opacity="0.8"/>
<line x1="347.5" y1="371.01" x2="347.5" y2="378.35" stroke="#14148c" stroke-width="1" stroke-opacity="0.8"/>
<line x1="345.5" y1="370.93" x2="345.5" y2="376.04" stroke="#8a85d2" stroke-width="1" stroke-opacity="0.8"/>
<line x1="345.5" y1="370.93" x2="345.5" y2="373.48" stroke="#14148c" stroke-width="1" stroke-opacity="0.8"/>
<line x1="323.5" y1="370.12" x2="323.5" y2="378.44" stroke="#8a85d2" stroke-width="1" stroke-opacity="0.8"/>
<line x1="323.5" y1="370.12" x2="323.5" y2="374.28" stroke="#14148c" stroke-width="1" stroke-opacity="0.8"/>
<line x1="327.5" y1="370.26" x2="327.5" y2="384.33" stroke="#8a85d2" stroke-width="1" stroke-opacity="0.8"/>
<line x1="327.5" y1="370.26" x2="327.5" y2="377.3" stroke="#14148c" stroke-width="1" stroke-opacity="0.8"/>
<line x1="301.5" y1="369.26" x2="301.5" y2="377.9" stroke="#8a85d2" stroke-width="1" stroke-opacity="0.8"/>
<line x1="301.5" y1="369.26" x2="301.5" y2="373.58" stroke="#14148c" stroke-width="1" stroke-opacity="0.8"/>
<line x1="314.5" y1="369.76" x2="314.5" y2="390.49" stroke="#8a85d2" stroke-width="1" stroke-opacity="0.8"/>
<line x1="314.5" y1="369.76" x2="314.5" y2="380.13" stroke="#14148c" stroke-width="1" stroke-opacity="0.8"/>
<line x1="338.5" y1="370.68" x2="338.5" y2="376.87" stroke="#8a85d2" stroke-width="1" stroke-opacity="0.8"/>
<line x1="338.5" y1="370.68" x2="338.5" y2="373.77" stroke="#14148c" stroke-width="1" stroke-opacity="0.8"/>
<line x1="340.5" y1="370.74" x2="340.5" y2="376.5" stroke="#8a85d2" stroke-width="1" stroke-opacity="0.8"/>
<line x1="340.5" y1="370.74" x2="340.5" y2="373.62" stroke="#14148c" stroke-width="1" stroke-opacity="0.8"/>
<line x1="331.5" y1="370.4" x2="331.5" y2="376.28" stroke="#8a85d2" stroke-width="1" stroke-opacity="0.8"/>
<line x1="331.5" y1="370.4" x2="331.5" y2="373.34" stroke="#14148c" stroke-width="1" stroke-opacity="0.8"/>
<line x1="301.5" y1="369.24" x2="301.5" y2="389.69" stroke="#8a85d2" stroke-width="1" stroke-opacity="0.8"/>
<line x1="301.5" y1="369.24" x2="301.5" y2="379.46" stroke="#14148c" stroke-width="1" stroke-opacity="0.8"/>
<line x1="311.5" y1="369.63" x2="311.5" y2="377.88" stroke="#8a85d2" stroke-width="1" stroke-opacity="0.8"/>
<line x1="311.5" y1="369.63" x2="311.5" y2="373.76" stroke="#14148c" stroke-width="1" stroke-opacity="0.8"/>
<line x1="349.5" y1="371.08" x2="349.5" y2="389.7" stroke="#8a85d2" stroke-width="1" stroke-opacity="0.8"/>
<line x1="349.5" y1="371.08" x2="349.5" y2="380.39" stroke="#14148c" stroke-width="1" stroke-opacity="0.8"/>
<line x1="315.5" y1="369.78" x2="315.5" y2="391.31" stroke="#8a85d2" stroke-width="1" stroke-opacity="0.8"/>
<line x1="315.5" y1="369.78" x2="315.5" y2="380.54" stroke="#14148c" stroke-width="1" stroke-opacity="0.8"/>
<line x1="327.5" y1="370.25" x2="327.5" y2="386.2" stroke="#8a85d2" stroke-width="1" stroke-opacity="0.8"/>
<line x1="327.5" y1="370.25" x2="327.5" y2="378.23" stroke="#14148c" stroke-width="1" stroke-opacity="0.8"/>
<line x1="311.5" y1="369.62" x2="311.5" y2="390.94" stroke="#8a85d2" stroke-width="1" stroke-opacity="0.8"/>
<line x1="311.5" y1="369.62" x2="311.5" y2="380.28" stroke="#14148c" stroke-width="1" stroke-opacity="0.8"/>
<line x1="334.5" y1="370.54" x2="334.5" y2="391.4" stroke="#8a85d2" stroke-width="1" stroke-opacity="0.8"/>
<line x1="334.5" y1="370.54" x2="334.5" y2="380.97" stroke="#14148c" stroke-width="1" stroke-opacity="0.8"/>
<line x1="344.5" y1="370.92" x2="344.5" y2="379.38" stroke="#8a85d2" stroke-width="1" stroke-opacity="0.8"/>
<line x1="344.5" y1="370.92" x2="344.5" y2="375.15" stroke="#14148c" stroke-width="1" stroke-opacity="0.8"/>
<line x1="318.5" y1="369.92" x2="318.5" y2="376.99" stroke="#8a85d2" stroke-width="1" stroke-opacity="0.8"/>
<line x1="318.5" y1="369.92" x2="318.5" y2="373.45" stroke="#14148c" stroke-width="1" stroke-opacity="0.8"/>
<line x1="308.5" y1="369.51" x2="308.5" y2="375.17" stroke="#8a85d2" stroke-width="1" stroke-opacity="0.8"/>
<line x1="308.5" y1="369.51" x2="308.5" y2="372.34" stroke="#14148c" stroke-width="1" stroke-opacity="0.8"/>
<line x1="315.5" y1="369.8" x2="315.5" y2="384.86" stroke="#8a85d2" stroke-width="1" stroke-opacity="0.8"/>
<line x1="315.5" y1="369.8" x2="315.5" y2="377.33" stroke="#14148c" stroke-width="1" stroke-opacity="0.8"/>
<line x1="301.5" y1="369.24" x2="301.5" y2="386.2" stroke="#8a85d2" stroke-width="1" stroke-opacity="0.8"/>
<line x1="301.5" y1="369.24" x2="301.5" y2="377.72" stroke="#14148c" stroke-width="1" stroke-opacity="0.8"/>
<line x1="317.5" y1="369.87" x2="317.5" y2="379.58" stroke="#8a85d2" stroke-width="1" stroke-opacity="0.8"/>
<line x1="317.5" y1="369.87" x2="317.5" y2="374.73" stroke="#14148c" stroke-width="1" stroke-opacity="0.8"/>
<line x1="341.5" y1="370.78" x2="341.5" y2="382.65" stroke="#8a85d2" stroke-width="1" stroke-opacity="0.8"/>
<line x1="341.5" y1="370.78" x2="341.5" y2="376.71" stroke="#14148c" stroke-width="1" stroke-opacity="0.8"/>
<line x1="316.5" y1="369.83" x2="316.5" y2="382.66" stroke="#8a85d2" stroke-width="1" stroke-opacity="0.8"/>
<line x1="316.5" y1="369.83" x2="316.5" y2="376.25" stroke="#14148c" stroke-width="1" stroke-opacity="0.8"/>
<line x1="335.5" y1="370.56" x2="335.5" y2="375.03" stroke="#8a85d2" stroke-width="1" stroke-opacity="0.8"/>
<line x1="335.5" y1="370.56" x2="335.5" y2="372.79" stroke="#14148c" stroke-width="1" stroke-opacity="0.8"/>
<line x1="348.5" y1="371.07" x2="348.5" y2="374.41" stroke="#8a85d2" stroke-width="1" stroke-opacity="0.8"/>
<line x1="348.5" y1="371.07" x2="348.5" y2="372.74" stroke="#14148c" stroke-width="1" stroke-opacity="0.8"/>
<line x1="401.5" y1="373.26" x2="401.5" y2="394.59" stroke="#8a85d2" stroke-width="1" stroke-opacity="0.8"/>
<line x1="401.5" y1="373.26" x2="401.5" y2="383.93" stroke="#14148c" stroke-width="1" stroke-opacity="0.8"/>
<line x1="363.5" y1="371.62" x2="363.5" y2="393.33" stroke="#8a85d2" stroke-width="1" stroke-opacity="0.8"/>
<line x1="363.5" y1="371.62" x2="363.5" y2="382.48" stroke="#14148c" stroke-width="1" stroke-opacity="0.8"/>
<line x1="382.5" y1="372.19" x2="382.5" y2="388.73" stroke="#8a85d2" stroke-width="1" stroke-opacity="0.8"/>
<line x1="382.5" y1="372.19" x2="382.5" y2="380.46" stroke="#14148c" stroke-width="1" stroke-opacity="0.8"/>
<line x1="363.5" y1="371.61" x2="363.5" y2="377.03" stroke="#8a85d2" stroke-width="1" stroke-opacity="0.8"/>
<line x1="363.5" y1="371.61" x2="363.5" y2="374.32" stroke="#14148c" stroke-width="1" stroke-opacity="0.8"/>
<line x1="372.5" y1="371.89" x2="372.5" y2="397.01" stroke="#8a85d2" stroke-width="1" stroke-opacity="0.8"/>
<line x1="372.5" y1="371.89" x2="372.5" y2="384.45" stroke="#14148c" stroke-width="1" stroke-opacity="0.8"/>
<line x1="373.5" y1="371.92" x2="373.5" y2="392.63" stroke="#8a85d2" stroke-width="1" stroke-opacity="0.8"/>
<line x1="373.5" y1="371.92" x2="373.5" y2="382.27" stroke="#14148c" stroke-width="1" stroke-opacity="0.8"/>
<line x1="411.5" y1="374.15" x2="411.5" y2="396.72" stroke="#8a85d2" stroke-width="1" stroke-opacity="0.8"/>
<line x1="411.5" y1="374.15" x2="411.5" y2="385.44" stroke="#14148c" stroke-width="1" stroke-opacity="0.8"/>
<line x1="380.5" y1="372.16" x2="380.5" y2="383.81" stroke="#8a85d2" stroke-width="1" stroke-opacity="0.8"/>
<line x1="380.5" y1="372.16" x2="380.5" y2="377.98" stroke="#14148c" stroke-width="1" stroke-opacity="0.8"/>
<line x1="390.5" y1="372.45" x2="390.5" y2="393.06" stroke="#8a85d2" stroke-width="1" stroke-opacity="0.8"/>
<line x1="390.5" y1="372.45" x2="390.5" y2="382.76" stroke="#14148c" stroke-width="1" stroke-opacity="0.8"/>
<line x1="368.5" y1="371.77" x2="368.5" y2="392.46" stroke="#8a85d2" stroke-width="1" stroke-opacity="0.8"/>
<line x1="368.5" y1="371.77" x2="368.5" y2="382.12" stroke="#14148c" stroke-width="1" stroke-opacity="0.8"/>
<line x1="404.5" y1="373.5" x2="404.5" y2="394.91" stroke="#8a85d2" stroke-width="1" stroke-opacity="0.8"/>
<line x1="404.5" y1="373.5" x2="404.5" y2="384.21" stroke="#14148c" stroke-width="1" stroke-opacity="0.8"/>
<line x1="364.5" y1="371.65" x2="364.5" y2="396.81" stroke="#8a85d2" stroke-width="1" stroke-opacity="0.8"/>
<line x1="364.5" y1="371.65" x2="364.5" y2="384.23" stroke="#14148c" stroke-width="1" stroke-opacity="0.8"/>
<line x1="367.5" y1="371.74" x2="367.5" y2="383.5" stroke="#8a85d2" stroke-width="1" stroke-opacity="0.8"/>
<line x1="367.5" y1="371.74" x2="367.5" y2="377.62" stroke="#14148c" stroke-width="1" stroke-opacity="0.8"/>
<line x1="394.5" y1="372.59" x2="394.5" y2="396.2" stroke="#8a85d2" stroke-width="1" stroke-opacity="0.8"/>
<line x1="394.5" y1="372.59" x2="394.5" y2="384.4" stroke="#14148c" stroke-width="1" stroke-opacity="0.8"/>
<line x1="380.5" y1="372.15" x2="380.5" y2="396.33" stroke="#8a85d2" stroke-width="1" stroke-opacity="0.8"/>
<line x1="380.5" y1="372.15" x2="380.5" y2="384.24" stroke="#14148c" stroke-width="1" stroke-opacity="0.8"/>
<line x1="391.5" y1="372.49" x2="391.5" y2="382.87" stroke="#8a85d2" stroke-width="1" stroke-opacity="0.8"/>
<line x1="391.5" y1="372.49" x2="391.5" y2="377.68" stroke="#14148c" stroke-width="1" stroke-opacity="0.8"/>
<line x1="379.5" y1="372.11" x2="379.5" y2="379.9" stroke="#8a85d2" stroke-width="1" stroke-opacity="0.8"/>
<line x1="379.5" y1="372.11" x2="379.5" y2="376.01" stroke="#14148c" stroke-width="1" stroke-opacity="0.8"/>
<line x1="367.5" y1="371.72" x2="367.5" y2="379.28" stroke="#8a85d2" stroke-width="1" stroke-opacity="0.8"/>
<line x1="367.5" y1="371.72" x2="367.5" y2="375.5" stroke="#14148c" stroke-width="1" stroke-opacity="0.8"/>
<line x1="398.5" y1="372.96" x2="398.5" y2="397.93" stroke="#8a85d2" stroke-width="1" stroke-opacity="0.8"/>
<line x1="398.5" y1="372.96" x2="398.5" y2="385.45" stroke="#14148c" stroke-width="1" stroke-opacity="0.8"/>
<line x1="371.5" y1="371.86" x2="371.5" y2="377.07" stroke="#8a85d2" stroke-width="1" stroke-opacity="0.8"/>
<line x1="371.5" y1="371.86" x2="371.5" y2="374.46" stroke="#14148c" stroke-width="1" stroke-opacity="0.8"/>
<line x1="414.5" y1="374.43" x2="414.5" y2="387.74" stroke="#8a85d2" stroke-width="1" stroke-opacity="0.8"/>
<line x1="414.5" y1="374.43" x2="414.5" y2="381.09" stroke="#14148c" stroke-width="1" stroke-opacity="0.8"/>
<line x1="384.5" y1="372.26" x2="384.5" y2="381.22" stroke="#8a85d2" stroke-width="1" stroke-opacity="0.8"/>
<line x1="384.5" y1="372.26" x2="384.5" y2="376.74" stroke="#14148c" stroke-width="1" stroke-opacity="0.8"/>
<line x1="393.5" y1="372.56" x2="393.5" y2="394.18" stroke="#8a85d2" stroke-width="1" stroke-opacity="0.8"/>
<line x1="393.5" y1="372.56" x2="393.5" y2="383.37" stroke="#14148c" stroke-width="1" stroke-opacity="0.8"/>
<line x1="386.5" y1="372.34" x2="386.5" y2="385.28" stroke="#8a85d2" stroke-width="1" stroke-opacity="0.8"/>
<line x1="386.5" y1="372.34" x2="386.5" y2="378.81" stroke="#14148c" stroke-width="1" stroke-opacity="0.8"/>
<line x1="365.5" y1="371.69" x2="365.5" y2="396.15" stroke="#8a85d2" stroke-width="1" stroke-opacity="0.8"/>
<line x1="365.5" y1="371.69" x2="365.5" y2="383.92" stroke="#14148c" stroke-width="1" stroke-opacity="0.8"/>
<line x1="364.5" y1="371.65" x2="364.5" y2="386.86" stroke="#8a85d2" stroke-width="1" stroke-opacity="0.8"/>
<line x1="364.5" y1="371.65" x2="364.5" y2="379.25" stroke="#14148c" stroke-width="1" stroke-opacity="0.8"/>
<line x1="406.5" y1="373.7" x2="406.5" y2="378.87" stroke="#8a85d2" stroke-width="1" stroke-opacity="0.8"/>
<line x1="406.5" y1="373.7" x2="406.5" y2="376.29" stroke="#14148c" stroke-width="1" stroke-opacity="0.8"/>
<line x1="401.5" y1="373.17" x2="401.5" y2="396.9" stroke="#8a85d2" stroke-width="1" stroke-opacity="0.8"/>
<line x1="401.5" y1="373.17" x2="401.5" y2="385.03" stroke="#14148c" stroke-width="1" stroke-opacity="0.8"/>
<line x1="395.5" y1="372.67" x2="395.5" y2="393.34" stroke="#8a85d2" stroke-width="1" stroke-opacity="0.8"/>
<line x1="395.5" y1="372.67" x2="395.5" y2="383.01" stroke="#14148c" stroke-width="1" stroke-opacity="0.8"/>
<line x1="368.5" y1="371.77" x2="368.5" y2="385.56" stroke="#8a85d2" stroke-width="1" stroke-opacity="0.8"/>
<line x1="368.5" y1="371.77" x2="368.5" y2="378.66" stroke="#14148c" stroke-width="1" stroke-opacity="0.8"/>
<line x1="370.5" y1="371.84" x2="370.5" y2="394.58" stroke="#8a85d2" stroke-width="1" stroke-opacity="0.8"/>
<line x1="370.5" y1="371.84" x2="370.5" y2="383.21" stroke="#14148c" stroke-width="1" stroke-opacity="0.8"/>
<line x1="378.5" y1="372.08" x2="378.5" y2="385.97" stroke="#8a85d2" stroke-width="1" stroke-opacity="0.8"/>
<line x1="378.5" y1="372.08" x2="378.5" y2="379.02" stroke="#14148c" stroke-width="1" stroke-opacity="0.8"/>
<line x1="414.5" y1="374.5" x2="414.5" y2="394.75" stroke="#8a85d2" stroke-width="1" stroke-opacity="0.8"/>
<line x1="414.5" y1="374.5" x2="414.5" y2="384.62" stroke="#14148c" stroke-width="1" stroke-opacity="0.8"/>
<line x1="413.5" y1="374.38" x2="413.5" y2="385.98" stroke="#8a85d2" stroke-width="1" stroke-opacity="0.8"/>
<line x1="413.5" y1="374.38" x2="413.5" y2="380.18" stroke="#14148c" stroke-width="1" stroke-opacity="0.8"/>
<line x1="388.5" y1="372.39" x2="388.5" y2="392.05" stroke="#8a85d2" stroke-width="1" stroke-opacity="0.8"/>
<line x1="388.5" y1="372.39" x2="388.5" y2="382.22" stroke="#14148c" stroke-width="1" stroke-opacity="0.8"/>
<line x1="387.5" y1="372.38" x2="387.5" y2="382.4" stroke="#8a85d2" stroke-width="1" stroke-opacity="0.8"/>
<line x1="387.5" y1="372.38" x2="387.5" y2="377.39" stroke="#14148c" stroke-width="1" stroke-opacity="0.8"/>
<line x1="383.5" y1="372.25" x2="383.5" y2="379.22" stroke="#8a85d2" stroke-width="1" stroke-opacity="0.8"/>
<line x1="383.5" y1="372.25" x2="383.5" y2="375.74" stroke="#14148c" stroke-width="1" stroke-opacity="0.8"/>
<line x1="382.5" y1="372.21" x2="382.5" y2="397.74" stroke="#8a85d2" stroke-width="1" stroke-opacity="0.8"/>
<line x1="382.5" y1="372.21" x2="382.5" y2="384.98" stroke="#14148c" stroke-width="1" stroke-opacity="0.8"/>
<line x1="412.5" y1="374.3" x2="412.5" y2="389.79" stroke="#8a85d2" stroke-width="1" stroke-opacity="0.8"/>
<line x1="412.5" y1="374.3" x2="412.5" y2="382.05" stroke="#14148c" stroke-width="1" stroke-opacity="0.8"/>
<line x1="388.5" y1="372.41" x2="388.5" y2="383.45" stroke="#8a85d2" stroke-width="1" stroke-opacity="0.8"/>
<line x1="388.5" y1="372.41" x2="388.5" y2="377.93" stroke="#14148c" stroke-width="1" stroke-opacity="0.8"/>
<line x1="367.5" y1="371.74" x2="367.5" y2="381.99" stroke="#8a85d2" stroke-width="1" stroke-opacity="0.8"/>
<line x1="367.5" y1="371.74" x2="367.5" y2="376.87" stroke="#14148c" stroke-width="1" stroke-opacity="0.8"/>
<line x1="403.5" y1="373.42" x2="403.5" y2="395.08" stroke="#8a85d2" stroke-width="1" stroke-opacity="0.8"/>
<line x1="403.5" y1="373.42" x2="403.5" y2="384.25" stroke="#14148c" stroke-width="1" stroke-opacity="0.8"/>
<line x1="381.5" y1="372.18" x2="381.5" y2="393.29" stroke="#8a85d2" stroke-width="1" stroke-opacity="0.8"/>
<line x1="381.5" y1="372.18" x2="381.5" y2="382.74" stroke="#14148c" stroke-width="1" stroke-opacity="0.8"/>
<line x1="403.5" y1="373.39" x2="403.5" y2="391.28" stroke="#8a85d2" stroke-width="1" stroke-opacity="0.8"/>
<line x1="403.5" y1="373.39" x2="403.5" y2="382.33" stroke="#14148c" stroke-width="1" stroke-opacity="0.8"/>
<line x1="397.5" y1="372.84" x2="397.5" y2="392.71" stroke="#8a85d2" stroke-width="1" stroke-opacity="0.8"/>
<line x1="397.5" y1="372.84" x2="397.5" y2="382.78" stroke="#14148c" stroke-width="1" stroke-opacity="0.8"/>
<line x1="402.5" y1="373.29" x2="402.5" y2="379.64" stroke="#8a85d2" stroke-width="1" stroke-opacity="0.8"/>
<line x1="402.5" y1="373.29" x2="402.5" y2="376.46" stroke="#14148c" stroke-width="1" stroke-opacity="0.8"/>
<line x1="400.5" y1="373.13" x2="400.5" y2="377.89" stroke="#8a85d2" stroke-width="1" stroke-opacity="0.8"/>
<line x1="400.5" y1="373.13" x2="400.5" y2="375.51" stroke="#14148c" stroke-width="1" stroke-opacity="0.8"/>
<line x1="410.5" y1="374.06" x2="410.5" y2="379.53" stroke="#8a85d2" stroke-width="1" stroke-opacity="0.8"/>
<line x1="410.5" y1="374.06" x2="410.5" y2="376.79" stroke="#14148c" stroke-width="1" stroke-opacity="0.8"/>
<line x1="400.5" y1="373.16" x2="400.5" y2="381.56" stroke="#8a85d2" stroke-width="1" stroke-opacity="0.8"/>
<line x1="400.5" y1="373.16" x2="400.5" y2="377.36" stroke="#14148c" stroke-width="1" stroke-opacity="0.8"/>
<line x1="407.5" y1="373.83" x2="407.5" y2="378.65" stroke="#8a85d2" stroke-width="1" stroke-opacity="0.8"/>
<line x1="407.5" y1="373.83" x2="407.5" y2="376.24" stroke="#14148c" stroke-width="1" stroke-opacity="0.8"/>
<line x1="395.5" y1="372.62" x2="395.5" y2="378.38" stroke="#8a85d2" stroke-width="1" stroke-opacity="0.8"/>
<line x1="395.5" y1="372.62" x2="395.5" y2="375.5" stroke="#14148c" stroke-width="1" stroke-opacity="0.8"/>
<line x1="400.5" y1="373.08" x2="400.5" y2="379.37" stroke="#8a85d2" stroke-width="1" stroke-opacity="0.8"/>
<line x1="400.5" y1="373.08" x2="400.5" y2="376.22" stroke="#14148c" stroke-width="1" stroke-opacity="0.8"/>
<line x1="404.5" y1="373.48" x2="404.5" y2="380.53" stroke="#8a85d2" stroke-width="1" stroke-opacity="0.8"/>
<line x1="404.5" y1="373.48" x2="404.5" y2="377.01" stroke="#14148c" stroke-width="1" stroke-opacity="0.8"/>
<line x1="407.5" y1="373.83" x2="407.5" y2="380.38" stroke="#8a85d2" stroke-width="1" stroke-opacity="0.8"/>
<line x1="407.5" y1="373.83" x2="407.5" y2="377.11" stroke="#14148c" stroke-width="1" stroke-opacity="0.8"/>
<line x1="401.5" y1="373.26" x2="401.5" y2="379.15" stroke="#8a85d2" stroke-width="1" stroke-opacity="0.8"/>
<line x1="401.5" y1="373.26" x2="401.5" y2="376.21" stroke="#14148c" stroke-width="1" stroke-opacity="0.8"/>
<line x1="409.5" y1="374" x2="409.5" y2="380.63" stroke="#8a85d2" stroke-width="1" stroke-opacity="0.8"/>
<line x1="409.5" y1="374" x2="409.5" y2="377.31" stroke="#14148c" stroke-width="1" stroke-opacity="0.8"/>
<line x1="402.5" y1="373.27" x2="402.5" y2="380.74" stroke="#8a85d2" stroke-width="1" stroke-opacity="0.8"/>
<line x1="402.5" y1="373.27" x2="402.5" y2="377" stroke="#14148c" stroke-width="1" stroke-opacity="0.8"/>
<line x1="412.5" y1="374.25" x2="412.5" y2="379.51" stroke="#8a85d2" stroke-width="1" stroke-opacity="0.8"/>
<line x1="412.5" y1="374.25" x2="412.5" y2="376.88" stroke="#14148c" stroke-width="1" stroke-opacity="0.8"/>
<line x1="414.5" y1="374.45" x2="414.5" y2="381.65" stroke="#8a85d2" stroke-width="1" stroke-opacity="0.8"/>
<line x1="414.5" y1="374.45" x2="414.5" y2="378.05" stroke="#14148c" stroke-width="1" stroke-opacity="0.8"/>
<line x1="405.5" y1="373.58" x2="405.5" y2="378.23" stroke="#8a85d2" stroke-width="1" stroke-opacity="0.8"/>
<line x1="405.5" y1="373.58" x2="405.5" y2="375.91" stroke="#14148c" stroke-width="1" stroke-opacity="0.8"/>
<line x1="398.5" y1="372.92" x2="398.5" y2="380.69" stroke="#8a85d2" stroke-width="1" stroke-opacity="0.8"/>
<line x1="398.5" y1="372.92" x2="398.5" y2="376.8" stroke="#14148c" stroke-width="1" stroke-opacity="0.8"/>
<line x1="413.5" y1="374.38" x2="413.5" y2="377.82" stroke="#8a85d2" stroke-width="1" stroke-opacity="0.8"/>
<line x1="413.5" y1="374.38" x2="413.5" y2="376.1" stroke="#14148c" stroke-width="1" stroke-opacity="0.8"/>
<line x1="408.5" y1="373.91" x2="408.5" y2="379.76" stroke="#8a85d2" stroke-width="1" stroke-opacity="0.8"/>
<line x1="408.5" y1="373.91" x2="408.5" y2="376.84" stroke="#14148c" stroke-width="1" stroke-opacity="0.8"/>
<line x1="409.5" y1="373.99" x2="409.5" y2="375.37" stroke="#8a85d2" stroke-width="1" stroke-opacity="0.8"/>
<line x1="409.5" y1="373.99" x2="409.5" y2="374.68" stroke="#14148c" stroke-width="1" stroke-opacity="0.8"/>
<line x1="410.5" y1="374.08" x2="410.5" y2="378.65" stroke="#8a85d2" stroke-width="1" stroke-opacity="0.8"/>
<line x1="410.5" y1="374.08" x2="410.5" y2="376.36" stroke="#14148c" stroke-width="1" stroke-opacity="0.8"/>
<line x1="408.5" y1="373.86" x2="408.5" y2="377.37" stroke="#8a85d2" stroke-width="1" stroke-opacity="0.8"/>
<line x1="408.5" y1="373.86" x2="408.5" y2="375.62" stroke="#14148c" stroke-width="1" stroke-opacity="0.8"/>
<line x1="407.5" y1="373.79" x2="407.5" y2="380.2" stroke="#8a85d2" stroke-width="1" stroke-opacity="0.8"/>
<line x1="407.5" y1="373.79" x2="407.5" y2="376.99" stroke="#14148c" stroke-width="1" stroke-opacity="0.8"/>
<line x1="407.5" y1="373.81" x2="407.5" y2="379.76" stroke="#8a85d2" stroke-width="1" stroke-opacity="0.8"/>
<line x1="407.5" y1="373.81" x2="407.5" y2="376.79" stroke="#14148c" stroke-width="1" stroke-opacity="0.8"/>
<line x1="395.5" y1="372.65" x2="395.5" y2="375.28" stroke="#8a85d2" stroke-width="1" stroke-opacity="0.8"/>
<line x1="395.5" y1="372.65" x2="395.5" y2="373.97" stroke="#14148c" stroke-width="1" stroke-opacity="0.8"/>
<line x1="403.5" y1="373.44" x2="403.5" y2="379.2" stroke="#8a85d2" stroke-width="1" stroke-opacity="0.8"/>
<line x1="403.5" y1="373.44" x2="403.5" y2="376.32" stroke="#14148c" stroke-width="1" stroke-opacity="0.8"/>
<line x1="399.5" y1="373.02" x2="399.5" y2="379.49" stroke="#8a85d2" stroke-width="1" stroke-opacity="0.8"/>
<line x1="399.5" y1="373.02" x2="399.5" y2="376.25" stroke="#14148c" stroke-width="1" stroke-opacity="0.8"/>
<line x1="407.5" y1="373.8" x2="407.5" y2="374.33" stroke="#8a85d2" stroke-width="1" stroke-opacity="0.8"/>
<line x1="407.5" y1="373.8" x2="407.5" y2="374.07" stroke="#14148c" stroke-width="1" stroke-opacity="0.8"/>
<line x1="404.5" y1="373.5" x2="404.5" y2="375.81" stroke="#8a85d2" stroke-width="1" stroke-opacity="0.8"/>
<line x1="404.5" y1="373.5" x2="404.5" y2="374.65" stroke="#14148c" stroke-width="1" stroke-opacity="0.8"/>
<line x1="396.5" y1="372.7" x2="396.5" y2="375.07" stroke="#8a85d2" stroke-width="1" stroke-opacity="0.8"/>
<line x1="396.5" y1="372.7" x2="396.5" y2="373.89" stroke="#14148c" stroke-width="1" stroke-opacity="0.8"/>
<line x1="401.5" y1="373.2" x2="401.5" y2="375.45" stroke="#8a85d2" stroke-width="1" stroke-opacity="0.8"/>
<line x1="401.5" y1="373.2" x2="401.5" y2="374.33" stroke="#14148c" stroke-width="1" stroke-opacity="0.8"/>
<line x1="140.59" y1="365.82" x2="140.59" y2="366.92" stroke="#14148c" stroke-width="0.6" stroke-opacity="0.5"/>
<line x1="214.57" y1="366.84" x2="214.57" y2="368.98" stroke="#14148c" stroke-width="0.6" stroke-opacity="0.5"/>
<line x1="254.41" y1="367.91" x2="254.41" y2="370.68" stroke="#14148c" stroke-width="0.6" stroke-opacity="0.5"/>
<line x1="152.69" y1="365.94" x2="152.69" y2="369.65" stroke="#14148c" stroke-width="0.6" stroke-opacity="0.5"/>
<line x1="88.18" y1="365.31" x2="88.18" y2="367.52" stroke="#14148c" stroke-width="0.6" stroke-opacity="0.5"/>
<line x1="163.76" y1="366.04" x2="163.76" y2="368.27" stroke="#14148c" stroke-width="0.6" stroke-opacity="0.5"/>
<line x1="119.3" y1="365.61" x2="119.3" y2="369.1" stroke="#14148c" stroke-width="0.6" stroke-opacity="0.5"/>
<line x1="189.7" y1="366.3" x2="189.7" y2="367.41" stroke="#14148c" stroke-width="0.6" stroke-opacity="0.5"/>
<line x1="254.89" y1="367.93" x2="254.89" y2="369.21" stroke="#14148c" stroke-width="0.6" stroke-opacity="0.5"/>
<line x1="236.3" y1="367.4" x2="236.3" y2="369.42" stroke="#14148c" stroke-width="0.6" stroke-opacity="0.5"/>
<line x1="246" y1="367.68" x2="246" y2="371.55" stroke="#14148c" stroke-width="0.6" stroke-opacity="0.5"/>
<line x1="310.64" y1="369.61" x2="310.64" y2="371.87" stroke="#14148c" stroke-width="0.6" stroke-opacity="0.5"/>
<line x1="309.13" y1="369.55" x2="309.13" y2="372.48" stroke="#14148c" stroke-width="0.6" stroke-opacity="0.5"/>
<line x1="188.49" y1="366.29" x2="188.49" y2="367.71" stroke="#14148c" stroke-width="0.6" stroke-opacity="0.5"/>
<line x1="250.1" y1="367.79" x2="250.1" y2="370.48" stroke="#14148c" stroke-width="0.6" stroke-opacity="0.5"/>
<line x1="348.36" y1="371.05" x2="348.36" y2="374.96" stroke="#14148c" stroke-width="0.6" stroke-opacity="0.5"/>
<line x1="253.54" y1="367.89" x2="253.54" y2="369.94" stroke="#14148c" stroke-width="0.6" stroke-opacity="0.5"/>
<line x1="331.02" y1="370.39" x2="331.02" y2="371.39" stroke="#14148c" stroke-width="0.6" stroke-opacity="0.5"/>
<line x1="117.35" y1="365.59" x2="117.35" y2="368.29" stroke="#14148c" stroke-width="0.6" stroke-opacity="0.5"/>
<line x1="255.33" y1="367.94" x2="255.33" y2="369.36" stroke="#14148c" stroke-width="0.6" stroke-opacity="0.5"/>
<line x1="259.21" y1="368.05" x2="259.21" y2="371.72" stroke="#14148c" stroke-width="0.6" stroke-opacity="0.5"/>
<line x1="190.23" y1="366.31" x2="190.23" y2="368.6" stroke="#14148c" stroke-width="0.6" stroke-opacity="0.5"/>
<line x1="149.56" y1="365.91" x2="149.56" y2="367.78" stroke="#14148c" stroke-width="0.6" stroke-opacity="0.5"/>
<line x1="352.51" y1="371.21" x2="352.51" y2="373.35" stroke="#14148c" stroke-width="0.6" stroke-opacity="0.5"/>
<line x1="349.43" y1="371.09" x2="349.43" y2="374.84" stroke="#14148c" stroke-width="0.6" stroke-opacity="0.5"/>
<line x1="250.06" y1="367.79" x2="250.06" y2="369.57" stroke="#14148c" stroke-width="0.6" stroke-opacity="0.5"/>
<line x1="354.83" y1="371.3" x2="354.83" y2="373.79" stroke="#14148c" stroke-width="0.6" stroke-opacity="0.5"/>
<line x1="201.01" y1="366.54" x2="201.01" y2="368.5" stroke="#14148c" stroke-width="0.6" stroke-opacity="0.5"/>
<line x1="355.72" y1="371.34" x2="355.72" y2="373.81" stroke="#14148c" stroke-width="0.6" stroke-opacity="0.5"/>
<line x1="165.9" y1="366.06" x2="165.9" y2="368.5" stroke="#14148c" stroke-width="0.6" stroke-opacity="0.5"/>
<line x1="121.15" y1="365.63" x2="121.15" y2="368.49" stroke="#14148c" stroke-width="0.6" stroke-opacity="0.5"/>
<line x1="208.62" y1="366.71" x2="208.62" y2="368.59" stroke="#14148c" stroke-width="0.6" stroke-opacity="0.5"/>
<line x1="300.62" y1="369.22" x2="300.62" y2="372.7" stroke="#14148c" stroke-width="0.6" stroke-opacity="0.5"/>
<line x1="91.59" y1="365.34" x2="91.59" y2="367.94" stroke="#14148c" stroke-width="0.6" stroke-opacity="0.5"/>
<line x1="162.47" y1="366.03" x2="162.47" y2="369.84" stroke="#14148c" stroke-width="0.6" stroke-opacity="0.5"/>
<line x1="300.68" y1="369.23" x2="300.68" y2="370.96" stroke="#14148c" stroke-width="0.6" stroke-opacity="0.5"/>
<line x1="160.81" y1="366.01" x2="160.81" y2="367.48" stroke="#14148c" stroke-width="0.6" stroke-opacity="0.5"/>
<line x1="356.96" y1="371.38" x2="356.96" y2="373.26" stroke="#14148c" stroke-width="0.6" stroke-opacity="0.5"/>
<line x1="253.39" y1="367.89" x2="253.39" y2="370.31" stroke="#14148c" stroke-width="0.6" stroke-opacity="0.5"/>
<line x1="263.41" y1="368.17" x2="263.41" y2="370.98" stroke="#14148c" stroke-width="0.6" stroke-opacity="0.5"/>
<line x1="290.22" y1="368.92" x2="290.22" y2="370.28" stroke="#14148c" stroke-width="0.6" stroke-opacity="0.5"/>
<line x1="294.83" y1="369.05" x2="294.83" y2="370.96" stroke="#14148c" stroke-width="0.6" stroke-opacity="0.5"/>
<line x1="233.11" y1="367.31" x2="233.11" y2="369.32" stroke="#14148c" stroke-width="0.6" stroke-opacity="0.5"/>
<line x1="168.74" y1="366.09" x2="168.74" y2="368.68" stroke="#14148c" stroke-width="0.6" stroke-opacity="0.5"/>
<line x1="214.3" y1="366.83" x2="214.3" y2="368.91" stroke="#14148c" stroke-width="0.6" stroke-opacity="0.5"/>
<line x1="290.64" y1="368.94" x2="290.64" y2="371.71" stroke="#14148c" stroke-width="0.6" stroke-opacity="0.5"/>
<line x1="97.91" y1="365.4" x2="97.91" y2="367.16" stroke="#14148c" stroke-width="0.6" stroke-opacity="0.5"/>
<line x1="211.93" y1="366.78" x2="211.93" y2="370.53" stroke="#14148c" stroke-width="0.6" stroke-opacity="0.5"/>
<line x1="329.52" y1="370.33" x2="329.52" y2="372.97" stroke="#14148c" stroke-width="0.6" stroke-opacity="0.5"/>
<line x1="91.96" y1="365.34" x2="91.96" y2="368.68" stroke="#14148c" stroke-width="0.6" stroke-opacity="0.5"/>
<line x1="204.34" y1="366.61" x2="204.34" y2="369.34" stroke="#14148c" stroke-width="0.6" stroke-opacity="0.5"/>
<line x1="280.63" y1="368.65" x2="280.63" y2="371.55" stroke="#14148c" stroke-width="0.6" stroke-opacity="0.5"/>
<line x1="219.07" y1="366.94" x2="219.07" y2="370.67" stroke="#14148c" stroke-width="0.6" stroke-opacity="0.5"/>
<line x1="192.85" y1="366.36" x2="192.85" y2="368.54" stroke="#14148c" stroke-width="0.6" stroke-opacity="0.5"/>
<line x1="319.72" y1="369.96" x2="319.72" y2="371.55" stroke="#14148c" stroke-width="0.6" stroke-opacity="0.5"/>
<line x1="168.63" y1="366.09" x2="168.63" y2="369.58" stroke="#14148c" stroke-width="0.6" stroke-opacity="0.5"/>
<line x1="105.97" y1="365.48" x2="105.97" y2="368.99" stroke="#14148c" stroke-width="0.6" stroke-opacity="0.5"/>
<line x1="276.94" y1="368.55" x2="276.94" y2="370.85" stroke="#14148c" stroke-width="0.6" stroke-opacity="0.5"/>
<line x1="165.89" y1="366.06" x2="165.89" y2="369.41" stroke="#14148c" stroke-width="0.6" stroke-opacity="0.5"/>
<line x1="335.7" y1="370.57" x2="335.7" y2="372" stroke="#14148c" stroke-width="0.6" stroke-opacity="0.5"/>
<polyline points="87.6,365.27 88.8,365.47 90.01,365.49 91.21,364.98 92.42,364.86 93.62,365.23 94.83,365.14 96.03,365.69 97.24,365.58 98.44,365.51 99.65,365.48 100.85,365.59 102.06,365.09 103.26,365.39 104.47,365.13 105.67,365.88 106.88,365.05 108.08,365.82 109.28,365.09 110.49,365.71 111.69,365.37 112.9,365.45 114.1,365.9 115.31,365.09 116.51,365.14 117.72,366.01 118.92,365.61 120.13,365.21 121.33,366.12 122.54,366.09 123.74,365.27 124.95,365.59 126.15,365.31 127.36,365.5 128.56,365.82 129.76,365.38 130.97,365.92 132.17,365.29 133.38,365.42 134.58,366.07 135.79,365.67 136.99,365.7 138.2,365.89 139.4,365.78 140.61,365.7 141.81,365.36 143.02,366.07 144.22,366.32 145.43,366.34 146.63,366.04 147.84,365.74 149.04,365.76 150.24,366.1 151.45,366.1 152.65,365.55 153.86,365.68 155.06,365.82 156.27,365.98 157.47,366.29 158.68,365.99 159.88,365.53 161.09,366.34 162.29,365.96 163.5,366.06 164.7,365.78 165.91,365.99 167.11,365.96 168.32,366.36 169.52,365.7 170.72,366.16 171.93,365.8 173.13,366.33 174.34,365.68 175.54,365.94 176.75,366.01 177.95,366.32 179.16,365.75 180.36,366.17 181.57,365.93 182.77,366.01 183.98,366.22 185.18,366.71 186.39,366.25 187.59,366.73 188.8,365.96 190,366.72 191.23,366.19 192.46,366.04 193.69,366.63 194.92,366.82 196.15,365.94 197.38,366.23 198.62,366.76 199.85,366.36 201.08,366.28 202.31,366.08 203.54,366.14 204.77,366.74 206,367.13 207.23,367.18 208.46,366.71 209.69,366.25 210.92,366.58 212.15,367.07 213.38,367.14 214.62,366.98 215.85,366.59 217.08,366.92 218.31,366.9 219.54,367.07 220.77,366.74 222,367.45 223.2,367.43 224.4,366.73 225.6,366.89 226.8,367.51 228,366.95 229.2,367.65 230.4,367.25 231.6,367.47 232.8,367.51 234,367.05 235.2,367.16 236.4,367.16 237.6,367.62 238.8,367.67 240,367.14 241.2,367.93 242.4,367.5 243.6,367.35 244.8,367.58 246,368.16 247.2,367.77 248.4,367.87 249.6,368.2 250.8,368.27 252,368.11 253.2,367.8 254.4,368 255.6,368.35 256.8,368.27 258,368.1 259.2,367.9 260.4,367.95 261.6,368.35 262.8,368.21 264,367.7 265.2,368.43 266.4,368.66 267.6,368.58 268.8,368.72 270,368.76 271.2,368.42 272.4,368.71 273.6,368.33 274.8,368.09 276,368.38 277.2,368.37 278.4,369.02 279.6,368.81 280.8,368.7 282,368.81 283.2,368.35 284.4,368.79 285.6,368.99 286.8,368.72 288,368.61 289.2,368.8 290.4,368.75 291.6,369.15 292.8,368.64 294,368.62 295.2,368.88 296.4,369.29 297.6,369.39 298.8,369.33 300,369.63 301.2,369.11 302.4,368.82 303.6,369.33 304.8,369.33 306,369.11 307.2,369.64 308.4,369.36 309.6,369.31 310.8,369.44 312,370.1 313.2,369.21 314.4,369.61 315.6,369.58 316.8,369.55 318,369.82 319.2,369.66 320.4,370.4 321.6,370.03 322.8,370.27 324,369.78 325.2,370.13 326.4,370.32 327.6,370.6 328.8,370.05 330,370.31 331.2,370.75 332.4,370.77 333.6,370.22 334.8,370.57 336,370.84 337.2,370.52 338.4,370.85 339.6,370.88 340.8,371.24 342,370.86 343.2,371.04 344.4,370.75 345.6,371.18 346.8,370.82 348,371.04 349.2,370.95 350.4,370.94 351.6,370.81 352.8,370.95 354,371.31 355.2,371.07 356.4,370.91 357.6,371.71 358.8,371.24 360,371.94 361.21,371.64 362.41,371.46 363.62,371.99 364.83,372.05 366.03,371.51 367.24,371.35 368.45,371.91 369.66,372.15 370.86,371.95 372.07,372.16 373.28,371.83 374.48,372.07 375.69,371.76 376.9,371.94 378.1,371.95 379.31,371.99 380.52,372.04 381.72,372.49 382.93,371.89 384.14,371.96 385.34,372.05 386.55,372.81 387.76,372.4 388.97,371.96 390.17,372.78 391.38,372.86 392.59,372.85 393.79,372.42 395,372.83 396.25,372.52 397.5,372.47 398.75,373.32 400,373.41 401.25,372.9 402.5,373.69 403.75,372.96 405,373.36 406.25,373.18 407.5,373.46 408.75,373.57 410,374.24 411.25,373.94 412.5,373.95 413.75,374.07 415,374.5" fill="none" stroke="#14148c" stroke-width="1" stroke-linejoin="round" stroke-opacity="0.85"/>
<line x1="395" y1="374" x2="414.8" y2="374.5" stroke="#14148c" stroke-width="0.6" stroke-opacity="0.5"/>
<line x1="395" y1="374.45" x2="414.8" y2="374.95" stroke="#14148c" stroke-width="0.6" stroke-opacity="0.5"/>
<line x1="395" y1="374.9" x2="414.8" y2="375.4" stroke="#14148c" stroke-width="0.6" stroke-opacity="0.5"/>
<line x1="395" y1="375.35" x2="414.8" y2="375.85" stroke="#14148c" stroke-width="0.6" stroke-opacity="0.5"/>
<line x1="395" y1="375.8" x2="414.8" y2="376.3" stroke="#14148c" stroke-width="0.6" stroke-opacity="0.5"/>
<line x1="395" y1="376.25" x2="414.8" y2="376.75" stroke="#14148c" stroke-width="0.6" stroke-opacity="0.5"/>
<line x1="395" y1="376.7" x2="414.8" y2="377.2" stroke="#14148c" stroke-width="0.6" stroke-opacity="0.5"/>
<line x1="395" y1="377.15" x2="414.8" y2="377.65" stroke="#14148c" stroke-width="0.6" stroke-opacity="0.5"/>
<line x1="395" y1="377.6" x2="414.8" y2="378.1" stroke="#14148c" stroke-width="0.6" stroke-opacity="0.5"/>
<line x1="395" y1="378.05" x2="414.8" y2="378.55" stroke="#14148c" stroke-width="0.6" stroke-opacity="0.5"/>
<line x1="395" y1="378.5" x2="414.8" y2="379" stroke="#14148c" stroke-width="0.6" stroke-opacity="0.5"/>
<line x1="395" y1="378.95" x2="414.8" y2="379.45" stroke="#14148c" stroke-width="0.6" stroke-opacity="0.5"/>
<line x1="395" y1="379.4" x2="414.8" y2="379.9" stroke="#14148c" stroke-width="0.6" stroke-opacity="0.5"/>
<line x1="395" y1="379.85" x2="414.8" y2="380.35" stroke="#14148c" stroke-width="0.6" stroke-opacity="0.5"/>
<polyline points="414.8,374.76 415,388.79 416,389.92 417,391.22 418,391.69 419,392.08 420,392.35 421,392.78 422,393.63 423,393.9 424,395.16 425,395.71 426,396.19 427,396.73 428,397.54 429,397.71 430,397.51 431,397.98 432,398.05 433,398.97 434,399.11 435,399.31 436.8,401.33 437,413.24 437.3,401.95 438.65,402.54 440,402.76 441,403.75 442,403.79 443,404.46 444,404.66 445,404.93 446,405.26 447,405.73 448,406.01 449,406.22 450,407.32 451,407.86 452,408.61 453,408.87 454,409.29 455,410.05 456.8,412.13 457.2,416.18 457.6,412.74 458.8,411.33 460,410.2 461,407.02 462.5,407.45 463,409" fill="none" stroke="#14148c" stroke-width="1.1" stroke-linejoin="round"/>
<line x1="58.5" y1="348.5" x2="463.5" y2="348.5" stroke="#6a6a6a" stroke-width="1"/>
<line x1="58.5" y1="463" x2="463.5" y2="463" stroke="#6a6a6a" stroke-width="1"/>
<line x1="58.5" y1="348" x2="58.5" y2="463.5" stroke="#2b2ba0" stroke-width="1"/>
<line x1="463.5" y1="348" x2="463.5" y2="463.5" stroke="#f08a3c" stroke-width="1"/>
<line x1="87.6" y1="463" x2="87.6" y2="459" stroke="#6a6a6a" stroke-width="1"/>
<line x1="87.6" y1="348.5" x2="87.6" y2="352.5" stroke="#6a6a6a" stroke-width="1"/>
<text x="87.6" y="475.6" font-size="9" fill="#2b2b2b" stroke="#2b2b2b" stroke-width="0.3" text-anchor="middle">0</text>
<line x1="145.35" y1="463" x2="145.35" y2="459" stroke="#6a6a6a" stroke-width="1"/>
<line x1="145.35" y1="348.5" x2="145.35" y2="352.5" stroke="#6a6a6a" stroke-width="1"/>
<text x="145.35" y="475.6" font-size="9" fill="#2b2b2b" stroke="#2b2b2b" stroke-width="0.3" text-anchor="middle">100</text>
<line x1="203.1" y1="463" x2="203.1" y2="459" stroke="#6a6a6a" stroke-width="1"/>
<line x1="203.1" y1="348.5" x2="203.1" y2="352.5" stroke="#6a6a6a" stroke-width="1"/>
<text x="203.1" y="475.6" font-size="9" fill="#2b2b2b" stroke="#2b2b2b" stroke-width="0.3" text-anchor="middle">200</text>
<line x1="260.85" y1="463" x2="260.85" y2="459" stroke="#6a6a6a" stroke-width="1"/>
<line x1="260.85" y1="348.5" x2="260.85" y2="352.5" stroke="#6a6a6a" stroke-width="1"/>
<text x="260.85" y="475.6" font-size="9" fill="#2b2b2b" stroke="#2b2b2b" stroke-width="0.3" text-anchor="middle">300</text>
<line x1="318.6" y1="463" x2="318.6" y2="459" stroke="#6a6a6a" stroke-width="1"/>
<line x1="318.6" y1="348.5" x2="318.6" y2="352.5" stroke="#6a6a6a" stroke-width="1"/>
<text x="318.6" y="475.6" font-size="9" fill="#2b2b2b" stroke="#2b2b2b" stroke-width="0.3" text-anchor="middle">400</text>
<line x1="376.35" y1="463" x2="376.35" y2="459" stroke="#6a6a6a" stroke-width="1"/>
<line x1="376.35" y1="348.5" x2="376.35" y2="352.5" stroke="#6a6a6a" stroke-width="1"/>
<text x="376.35" y="475.6" font-size="9" fill="#2b2b2b" stroke="#2b2b2b" stroke-width="0.3" text-anchor="middle">500</text>
<line x1="434.1" y1="463" x2="434.1" y2="459" stroke="#6a6a6a" stroke-width="1"/>
<line x1="434.1" y1="348.5" x2="434.1" y2="352.5" stroke="#6a6a6a" stroke-width="1"/>
<text x="434.1" y="475.6" font-size="9" fill="#2b2b2b" stroke="#2b2b2b" stroke-width="0.3" text-anchor="middle">600</text>
<line x1="58.5" y1="348.5" x2="62.5" y2="348.5" stroke="#2b2ba0" stroke-width="1"/>
<text x="55.5" y="351.8" font-size="9" fill="#2b2ba0" stroke="#2b2ba0" stroke-width="0.3" text-anchor="end">4.20</text>
<line x1="58.5" y1="371.4" x2="62.5" y2="371.4" stroke="#2b2ba0" stroke-width="1"/>
<text x="55.5" y="374.7" font-size="9" fill="#2b2ba0" stroke="#2b2ba0" stroke-width="0.3" text-anchor="end">4.15</text>
<line x1="58.5" y1="394.4" x2="62.5" y2="394.4" stroke="#2b2ba0" stroke-width="1"/>
<text x="55.5" y="397.7" font-size="9" fill="#2b2ba0" stroke="#2b2ba0" stroke-width="0.3" text-anchor="end">4.10</text>
<line x1="58.5" y1="417.4" x2="62.5" y2="417.4" stroke="#2b2ba0" stroke-width="1"/>
<text x="55.5" y="420.7" font-size="9" fill="#2b2ba0" stroke="#2b2ba0" stroke-width="0.3" text-anchor="end">4.05</text>
<line x1="58.5" y1="440.4" x2="62.5" y2="440.4" stroke="#2b2ba0" stroke-width="1"/>
<text x="55.5" y="443.7" font-size="9" fill="#2b2ba0" stroke="#2b2ba0" stroke-width="0.3" text-anchor="end">4.00</text>
<line x1="58.5" y1="463" x2="62.5" y2="463" stroke="#2b2ba0" stroke-width="1"/>
<text x="55.5" y="466.3" font-size="9" fill="#2b2ba0" stroke="#2b2ba0" stroke-width="0.3" text-anchor="end">3.95</text>
<line x1="459.5" y1="357.6" x2="463.5" y2="357.6" stroke="#f08a3c" stroke-width="1"/>
<text x="466.5" y="360.9" font-size="9" fill="#f08a3c" stroke="#f08a3c" stroke-width="0.3" text-anchor="start">0</text>
<line x1="459.5" y1="377" x2="463.5" y2="377" stroke="#f08a3c" stroke-width="1"/>
<text x="466.5" y="380.3" font-size="9" fill="#f08a3c" stroke="#f08a3c" stroke-width="0.3" text-anchor="start">-2</text>
<line x1="459.5" y1="396.3" x2="463.5" y2="396.3" stroke="#f08a3c" stroke-width="1"/>
<text x="466.5" y="399.6" font-size="9" fill="#f08a3c" stroke="#f08a3c" stroke-width="0.3" text-anchor="start">-4</text>
<line x1="459.5" y1="415.7" x2="463.5" y2="415.7" stroke="#f08a3c" stroke-width="1"/>
<text x="466.5" y="419" font-size="9" fill="#f08a3c" stroke="#f08a3c" stroke-width="0.3" text-anchor="start">-6</text>
<line x1="459.5" y1="435.2" x2="463.5" y2="435.2" stroke="#f08a3c" stroke-width="1"/>
<text x="466.5" y="438.5" font-size="9" fill="#f08a3c" stroke="#f08a3c" stroke-width="0.3" text-anchor="start">-8</text>
<line x1="459.5" y1="454.2" x2="463.5" y2="454.2" stroke="#f08a3c" stroke-width="1"/>
<text x="466.5" y="457.5" font-size="9" fill="#f08a3c" stroke="#f08a3c" stroke-width="0.3" text-anchor="start">-10</text>
<line x1="503.5" y1="348.5" x2="503.5" y2="462.8" stroke="#23995a" stroke-width="1"/>
<line x1="499.5" y1="364.4" x2="503.5" y2="364.4" stroke="#23995a" stroke-width="1"/>
<text x="506.5" y="367.7" font-size="9" fill="#23995a" stroke="#23995a" stroke-width="0.3" text-anchor="start">-570</text>
<line x1="499.5" y1="391.5" x2="503.5" y2="391.5" stroke="#23995a" stroke-width="1"/>
<text x="506.5" y="394.8" font-size="9" fill="#23995a" stroke="#23995a" stroke-width="0.3" text-anchor="start">-580</text>
<line x1="499.5" y1="419.3" x2="503.5" y2="419.3" stroke="#23995a" stroke-width="1"/>
<text x="506.5" y="422.6" font-size="9" fill="#23995a" stroke="#23995a" stroke-width="0.3" text-anchor="start">-590</text>
<line x1="499.5" y1="447" x2="503.5" y2="447" stroke="#23995a" stroke-width="1"/>
<text x="506.5" y="450.3" font-size="9" fill="#23995a" stroke="#23995a" stroke-width="0.3" text-anchor="start">-600</text>
<text x="33.5" y="405.5" font-size="11.5" fill="#2b2ba0" stroke="#2b2ba0" stroke-width="0.3" text-anchor="middle" transform="rotate(-90 33.5 405.5)"><tspan font-style="italic">U</tspan> / V</text>
<text x="492" y="405.2" font-size="11" fill="#f08a3c" stroke="#f08a3c" stroke-width="0.3" text-anchor="middle" transform="rotate(-90 492 405.2)">Δ<tspan font-style="italic">F</tspan> / N</text>
<text x="537.3" y="403.5" font-size="11" fill="#23995a" stroke="#23995a" stroke-width="0.3" text-anchor="middle" transform="rotate(-90 537.3 403.5)"><tspan font-style="italic">X</tspan> / μm</text>
<rect x="72.5" y="436.5" width="190" height="17" fill="#fff" stroke="#444" stroke-width="1"/>
<line x1="77.4" y1="445.5" x2="88.6" y2="445.5" stroke="#8f86d6" stroke-width="1.3"/>
<text x="90.6" y="448.3" font-size="9.2" fill="#2b2b2b" stroke="#2b2b2b" stroke-width="0.3" text-anchor="start"><tspan font-style="italic">U</tspan></text>
<line x1="100" y1="445.5" x2="110" y2="445.5" stroke="#5ab4e4" stroke-width="1.3"/>
<text x="112" y="448.3" font-size="9.2" fill="#2b2b2b" stroke="#2b2b2b" stroke-width="0.3" text-anchor="start"><tspan font-style="italic">U</tspan><tspan font-size="7.3" dy="3.5">OCV</tspan></text>
<line x1="138" y1="445.5" x2="147" y2="445.5" stroke="#8fd4b8" stroke-width="1.3"/>
<text x="149" y="448.3" font-size="9.2" fill="#2b2b2b" stroke="#2b2b2b" stroke-width="0.3" text-anchor="start"><tspan font-style="italic">X</tspan><tspan font-size="7.3" dy="3.5">Setup</tspan></text>
<line x1="178" y1="445.5" x2="188" y2="445.5" stroke="#2ea777" stroke-width="1.3"/>
<text x="189" y="448.3" font-size="9.2" fill="#2b2b2b" stroke="#2b2b2b" stroke-width="0.3" text-anchor="start"><tspan font-style="italic">X</tspan><tspan font-size="7.3" dy="3.5">Measured</tspan></text>
<line x1="232" y1="445.5" x2="242" y2="445.5" stroke="#f4843a" stroke-width="1.3"/>
<text x="244" y="448.3" font-size="9.2" fill="#2b2b2b" stroke="#2b2b2b" stroke-width="0.3" text-anchor="start">Δ<tspan font-style="italic">F</tspan></text>
<polyline points="87.5,599.14 88.2,598.61 88.9,598.67 89.6,598.82 90.3,599.08 91,598.51 91.7,598.49 92.4,598.79 93.1,598.79 93.8,599.06 94.5,599.3 95.2,598.93 95.9,598.71 96.6,599.23 97.3,598.51 98,599.07 98.7,599.07 99.4,599.26 100.1,598.3 100.8,598.56 101.5,598.42 102.2,598.68 102.9,599.27 103.6,598.97 104.3,598.8 105,599.18 105.7,598.35 106.4,598.93 107.1,599.15 107.8,598.48 108.5,599.18 109.2,598.37 109.9,598.85 110.6,598.75 111.3,598.96 112,598.82 112.7,599.11 113.4,599.26 114.1,598.43 114.8,599.07 115.5,598.52 116.2,599.09 116.9,598.33 117.6,598.41 118.3,598.55 119,598.54 119.7,598.72 120.4,598.57 121.1,599.18 121.8,598.82 122.5,598.47 123.2,599.1 123.9,598.38 124.6,598.41 125.3,598.89 126,598.93 126.7,598.85 127.4,598.91 128.1,598.31 128.8,598.91 129.5,599.27 130.2,599.21 130.9,598.58 131.6,598.31 132.3,598.8 133,598.81 133.7,598.75 134.4,598.55 135.1,599.08 135.8,598.69 136.5,598.74 137.2,598.68 137.9,599.12 138.6,599.13 139.3,598.95 140,598.37 140.7,598.95 141.4,598.7 142.1,598.99 142.8,599.2 143.5,599.23 144.2,598.49 144.9,598.52 145.6,598.93 146.3,598.62 147,598.62 147.7,598.4 148.4,598.34 149.1,598.89 149.8,598.31 150.5,598.34 151.2,598.71 151.9,598.42 152.6,598.81 153.3,598.92 154,599.05 154.7,598.42 155.4,599.14 156.1,599.23 156.8,598.49 157.5,598.53 158.2,598.82 158.9,598.46 159.6,599.25 160.3,599.04 161,599.01 161.7,598.88 162.4,599.13 163.1,599.23 163.8,598.96 164.5,598.4 165.2,598.32 165.9,598.55 166.6,598.82 167.3,599.05 168,598.34 168.7,598.77 169.4,598.57 170.1,599.27 170.8,599.09 171.5,598.46 172.2,598.5 172.9,598.42 173.6,598.7 174.3,598.87 175,598.72 175.7,598.45 176.4,598.99 177.1,598.77 177.8,599.02 178.5,598.53 179.2,599.29 179.9,598.61 180.6,598.35 181.3,599.28 182,598.71 182.7,598.66 183.4,598.45 184.1,598.72 184.8,599.04 185.5,598.89 186.2,598.34 186.9,598.39 187.6,599.17 188.3,599.21 189,599.21 189.7,599.27 190.4,598.85 191.1,599.16 191.8,598.43 192.5,598.64 193.2,599.17 193.9,598.76 194.6,598.98 195.3,598.81 196,599.08 196.7,599.13 197.4,599.12 198.1,598.92 198.8,598.59 199.5,598.75 200.2,599.25 200.9,598.59 201.6,598.43 202.3,598.53 203,598.51 203.7,599.29 204.4,598.84 205.1,599.24 205.8,598.54 206.5,599.12 207.2,598.59 207.9,599.05 208.6,598.6 209.3,598.99 210,599.26 210.7,598.91 211.4,598.99 212.1,598.4 212.8,599 213.5,598.8 214.2,598.75 214.9,598.35 215.6,599.2 216.3,598.7 217,598.79 217.7,598.57 218.4,598.33 219.1,598.99 219.8,598.6 220.5,598.77 221.2,598.74 221.9,599.24 222.6,598.49 223.3,595.06 224,596.61 224.7,596.7 225.4,595.02 226.1,597.23 226.8,597.31 227.5,597.32 228.2,595.46 228.9,595.6 229.6,596.38 230.3,595.95 231,597.45 231.7,595.89 232.4,596.39 233.1,596.21 233.8,596.53 234.5,596.5 235.2,596.94 235.9,597.38 236.6,594.92 237.3,595.38 238,594.24 238.7,593.96 239.4,594.19 240.1,594.86 240.8,595.41 241.5,595.04 242.2,594.78 242.9,594.42 243.6,593.59 244.3,595.79 245,594.8 245.7,594.77 246.4,595.71 247.1,595.27 247.8,595.55 248.5,595.93 249.2,595.6 249.9,595.83 250.6,595.35 251.3,595.75 252,595.79 252.7,596.89 253.4,595.21 254.1,596.54 254.8,595.96 255.5,595.44 256.2,595.09 256.9,595.03 257.6,597.48 258.3,596.72 259,596.72 259.7,596.52 260.4,597.14 261.1,596.12 261.8,597.3 262.5,595.24 263.2,593.64 263.9,594.14 264.6,594.84 265.3,595.73 266,593.61 266.7,594.24 267.4,595.49 268.1,595.16 268.8,594.4 269.5,594.3 270.2,595.35 270.9,593.62 271.6,595.19 272.3,595.36 273,593.89 273.7,595.62 274.4,594.3 275.1,595.5 275.8,594.51 276.5,595.31 277.2,595.05 277.9,593.65 278.6,594.83 279.3,594.91 280,594.46 280.7,595.3 281.4,595.56 282.1,595.04 282.8,595.32 283.5,595.53 284.2,593.6 284.9,595.91 285.6,593.97 286.3,593.66 287,594.24 287.7,595.95 288.4,594.75 289.1,595.9 289.8,594.48 290.5,595.75 291.2,596.9 291.9,597.48 292.6,596.14 293.3,597.26 294,596.73 294.7,596.36 295.4,595.26 296.1,596.57 296.8,597.16 297.5,595.52 298.2,595.44 298.9,596.18 299.6,597.38 300.3,596.58 300.8,595.05 301.3,593.34 301.8,596.39 302.3,589.27 302.8,588.46 303.3,586.73 303.8,587.63 304.3,597 304.8,592.93 305.3,596.92 305.8,587.29 306.3,590.31 306.8,590.08 307.3,596.57 307.8,596.96 308.3,589.03 308.8,592.59 309.3,592.38 309.8,594.34 310.3,589.32 310.8,595.63 311.3,596.13 311.8,595.5 312.3,595.93 312.8,592.28 313.3,587.49 313.8,596.94 314.3,596.95 314.8,593.86 315.3,591.48 315.8,596.57 316.3,596.13 316.8,596.96 317.3,596.98 317.8,594.06 318.3,591.44 318.8,591.88 319.3,596.7 319.8,596.87 320.3,586.6 320.8,593.52 321.3,595 321.8,591.27 322.3,590.64 322.8,593.7 323.3,596.93 323.8,588.79 324.3,596.45 324.8,596.98 325.3,595.51 325.8,593.6 326.3,592.26 326.8,596.64 327.3,590.96 327.8,594.07 328.3,596.69 328.8,588.31 329.3,589.19 329.8,587.14 330.3,591.46 330.8,596.43 331.3,589.74 331.8,587.22 332.3,593.59 332.8,587.1 333.3,585.71 333.8,595.17 334.3,586.36 334.8,586.47 335.3,589.44 335.8,597 336.3,595.51 336.8,592.48 337.3,592.58 337.8,590.15 338.3,591.98 338.8,596.69 339.3,586.6 339.8,593.55 340.3,587.67 340.8,596.49 341.3,585.05 341.8,593.31 342.3,589.78 342.8,590.43 343.3,587.65 343.8,595.42 344.3,596.92 344.8,595.03 345.3,596.62 345.8,593.5 346.3,589.03 346.8,595.43 347.3,596.79 347.8,596.99 348.3,594.85 348.8,592.96 349.3,596.99 349.8,591.69 350.3,596.47 350.8,596.86 351.3,586.67 351.8,593.72 352.3,587.39 352.8,593.83 353.3,596.82 353.8,596.31 354.3,594.84 354.8,592.07 355.3,589.87 355.8,590.23 356.3,591.92 356.8,596.23 357.3,594.78 357.8,595.29 358.3,594.12 358.8,596.15 359.3,593.53 359.8,594.47 360.3,596.98 360.8,588.87 361.3,592.87 361.8,589.27 362.3,590.49 362.8,590.59 363.3,585.16 363.8,595.3 364.3,595.14 364.8,597 365.3,591.7 365.8,592.94 366.3,593.01 366.8,585.06 367.3,596.53 367.8,596.38 368.3,590.53 368.8,589.08 369.3,594.2 369.8,596.96 370.3,593.79 370.8,587.49 371.3,592.26 371.8,592.74 372.3,593.58 372.8,590.52 373.3,590.94 373.8,589.58 374.3,586.84 374.8,588.69 375.3,593.75 375.8,595 376.3,588.2 376.8,588.03 377.3,585.77 377.8,595.44 378.3,587.13 378.8,586.41 379.3,596.24 379.8,594.45 380.3,590.45 380.8,595.83 381.3,587.41 381.8,594.86 382.3,589.74 382.8,594.57 383.3,595.28 383.8,595.37 384.3,592.29 384.8,589.27 385.3,595.28 385.8,589.68 386.3,594.17 386.8,590.22 387.3,593.82 387.8,595.48 388.3,595.86 388.8,596.33 389.3,589.53 389.8,593.31 390.3,595.98 390.8,586.58 391.3,590.14 391.8,596.46 392.3,589.1 392.8,591 393.3,592.95 393.8,592.25 394.3,585.17 394.8,593.76 395.3,590.41 395.8,590.42 396.3,593.85 396.8,594.05 397.3,588.63 397.8,590.42 398.3,592.79 398.8,592.08 399.3,595.23 399.8,588.08 400.3,596.47 400.8,590.31 401.3,592.82 401.8,595.25 402.3,591.11 402.8,591.16 403.3,596.19 403.8,592.38 404.3,595.7 404.8,587.93 405.3,594.26 405.8,594.24 406.3,595.3 406.8,596.37 407.3,595.53 407.8,595.79 408.3,590.58 408.8,587.14 409.3,595.25 409.8,596.05 410.3,591.81 410.8,596.03 411.3,593.4 411.8,588.54 412.3,595.4 412.8,589.48 413.3,591.76 413.8,596.2 414.3,595.07 414.8,572.45 415.3,569.72 415.8,570.04 416.3,571.69 416.8,572.68 417.3,570.97 417.8,571.47 418.3,567.98 418.8,569.23 419.3,569.09 419.8,571.85 420.3,568.88 420.8,570.84 421.3,566.92 421.8,569.06 422.3,570.85 422.8,570.08 423.3,568.94 423.8,566.78 424.3,570.33 424.8,565.92 425.3,570.17 425.8,569.05 426.3,568.59 426.8,567.47 427.3,565.46 427.8,566.17 428.3,567.61 428.8,567.4 429.3,565.89 429.8,567.78 430.3,563.89 430.8,564.92 431.3,563.8 431.8,564.84 432.3,567.04 432.8,566.71 433.3,563.56 433.8,564.22 434.3,563.1 434.8,565.71 435.3,564.48 435.8,563.29 436.3,563.87 436.8,566.19 437.3,563.85 437.8,565.05 438.3,564.6 438.8,563.69 439.3,563.97 439.8,562.87 440.3,561.92 440.8,563.27 441.3,562.2 441.8,562.2 442.3,561.36 442.8,564.87 443.3,562.3 443.8,561.05 444.3,560.08 444.8,560.87 445.3,564.02 445.8,561.23 446.3,562.76 446.8,560.45 447.3,562.43 447.8,561.3 448.3,562.61 448.8,561.44 449.3,560.55 449.8,559.95 450.3,561.39 450.8,562.44 451.3,561.61 451.8,560.42 452.3,559.52 452.8,562.2 453.3,561.84 453.8,558.21 454.3,560.74 454.8,561.07 455.3,560.45 455.8,561.76 456.3,561.2 456.8,557.9 457.3,561.52 457.8,558.04 458.3,558.16 458.8,561.01 459.3,556.83 459.8,557.84 460.3,558.86 460.8,556.96 461.3,556.79 461.8,559.29 462.3,558.25 462.8,558.77" fill="none" stroke="#5e5e5e" stroke-width="0.75" stroke-linejoin="round"/>
<line x1="87.6" y1="598" x2="87.6" y2="579" stroke="#a0a0a0" stroke-width="0.8"/>
<line x1="97.6" y1="598" x2="97.6" y2="587" stroke="#a0a0a0" stroke-width="0.8"/>
<line x1="100" y1="598" x2="100" y2="565" stroke="#a0a0a0" stroke-width="0.8"/>
<line x1="117" y1="598" x2="117" y2="584" stroke="#a0a0a0" stroke-width="0.8"/>
<line x1="119.4" y1="598" x2="119.4" y2="536" stroke="#a0a0a0" stroke-width="0.8"/>
<line x1="121.6" y1="598" x2="121.6" y2="560" stroke="#a0a0a0" stroke-width="0.8"/>
<line x1="126.4" y1="598" x2="126.4" y2="590" stroke="#a0a0a0" stroke-width="0.8"/>
<line x1="136.6" y1="598" x2="136.6" y2="595" stroke="#a0a0a0" stroke-width="0.8"/>
<line x1="145" y1="598" x2="145" y2="596" stroke="#a0a0a0" stroke-width="0.8"/>
<line x1="181" y1="598" x2="181" y2="541" stroke="#a0a0a0" stroke-width="0.8"/>
<line x1="184" y1="598" x2="184" y2="594" stroke="#a0a0a0" stroke-width="0.8"/>
<line x1="224" y1="598" x2="224" y2="522" stroke="#a0a0a0" stroke-width="0.8"/>
<line x1="227" y1="598" x2="227" y2="553" stroke="#a0a0a0" stroke-width="0.8"/>
<line x1="234" y1="598" x2="234" y2="577" stroke="#a0a0a0" stroke-width="0.8"/>
<line x1="239.4" y1="598" x2="239.4" y2="551" stroke="#a0a0a0" stroke-width="0.8"/>
<line x1="242.6" y1="598" x2="242.6" y2="578" stroke="#a0a0a0" stroke-width="0.8"/>
<line x1="251" y1="598" x2="251" y2="590" stroke="#a0a0a0" stroke-width="0.8"/>
<line x1="273.6" y1="598" x2="273.6" y2="496" stroke="#a0a0a0" stroke-width="0.8"/>
<line x1="277" y1="598" x2="277" y2="588" stroke="#a0a0a0" stroke-width="0.8"/>
<line x1="286" y1="598" x2="286" y2="592" stroke="#a0a0a0" stroke-width="0.8"/>
<line x1="302" y1="598" x2="302" y2="513" stroke="#a0a0a0" stroke-width="0.8"/>
<line x1="305" y1="598" x2="305" y2="549.6" stroke="#a0a0a0" stroke-width="0.8"/>
<line x1="307.6" y1="598" x2="307.6" y2="538.7" stroke="#a0a0a0" stroke-width="0.8"/>
<line x1="314" y1="598" x2="314" y2="540" stroke="#a0a0a0" stroke-width="0.8"/>
<line x1="317" y1="598" x2="317" y2="555" stroke="#a0a0a0" stroke-width="0.8"/>
<line x1="319.5" y1="598" x2="319.5" y2="545" stroke="#a0a0a0" stroke-width="0.8"/>
<line x1="322.7" y1="598" x2="322.7" y2="522.7" stroke="#a0a0a0" stroke-width="0.8"/>
<line x1="332.5" y1="598" x2="332.5" y2="506" stroke="#a0a0a0" stroke-width="0.8"/>
<line x1="337.6" y1="598" x2="337.6" y2="509" stroke="#a0a0a0" stroke-width="0.8"/>
<line x1="330" y1="598" x2="330" y2="577" stroke="#a0a0a0" stroke-width="0.8"/>
<line x1="342" y1="598" x2="342" y2="577" stroke="#a0a0a0" stroke-width="0.8"/>
<line x1="345.6" y1="598" x2="345.6" y2="583.8" stroke="#a0a0a0" stroke-width="0.8"/>
<line x1="365.5" y1="598" x2="365.5" y2="551.8" stroke="#a0a0a0" stroke-width="0.8"/>
<line x1="370" y1="598" x2="370" y2="577" stroke="#a0a0a0" stroke-width="0.8"/>
<line x1="383.6" y1="598" x2="383.6" y2="526" stroke="#a0a0a0" stroke-width="0.8"/>
<line x1="385" y1="598" x2="385" y2="536.6" stroke="#a0a0a0" stroke-width="0.8"/>
<line x1="388.6" y1="598" x2="388.6" y2="532" stroke="#a0a0a0" stroke-width="0.8"/>
<line x1="391" y1="598" x2="391" y2="543.5" stroke="#a0a0a0" stroke-width="0.8"/>
<line x1="395" y1="598" x2="395" y2="541.8" stroke="#a0a0a0" stroke-width="0.8"/>
<line x1="400" y1="598" x2="400" y2="550.4" stroke="#a0a0a0" stroke-width="0.8"/>
<line x1="403" y1="598" x2="403" y2="562.5" stroke="#a0a0a0" stroke-width="0.8"/>
<line x1="408" y1="598" x2="408" y2="521" stroke="#a0a0a0" stroke-width="0.8"/>
<line x1="411" y1="598" x2="411" y2="543.5" stroke="#a0a0a0" stroke-width="0.8"/>
<line x1="412.5" y1="598" x2="412.5" y2="538.4" stroke="#a0a0a0" stroke-width="0.8"/>
<line x1="436.6" y1="564.92" x2="436.6" y2="543.5" stroke="#909090" stroke-width="0.8"/>
<line x1="456" y1="559.88" x2="456" y2="548.7" stroke="#909090" stroke-width="0.8"/>
<line x1="409.5" y1="597.5" x2="409.5" y2="554.18" stroke="#8a8a8a" stroke-width="1" stroke-opacity="0.55"/>
<line x1="302.5" y1="597.5" x2="302.5" y2="591.95" stroke="#8a8a8a" stroke-width="1" stroke-opacity="0.55"/>
<line x1="321.5" y1="597.5" x2="321.5" y2="559.46" stroke="#8a8a8a" stroke-width="1" stroke-opacity="0.55"/>
<line x1="374.5" y1="597.5" x2="374.5" y2="563.21" stroke="#8a8a8a" stroke-width="1" stroke-opacity="0.55"/>
<line x1="401.5" y1="597.5" x2="401.5" y2="558.2" stroke="#8a8a8a" stroke-width="1" stroke-opacity="0.55"/>
<line x1="409.5" y1="597.5" x2="409.5" y2="562.06" stroke="#8a8a8a" stroke-width="1" stroke-opacity="0.55"/>
<line x1="368.5" y1="597.5" x2="368.5" y2="589.01" stroke="#8a8a8a" stroke-width="1" stroke-opacity="0.55"/>
<line x1="378.5" y1="597.5" x2="378.5" y2="588.65" stroke="#8a8a8a" stroke-width="1" stroke-opacity="0.55"/>
<line x1="381.5" y1="597.5" x2="381.5" y2="550.13" stroke="#8a8a8a" stroke-width="1" stroke-opacity="0.55"/>
<line x1="400.5" y1="597.5" x2="400.5" y2="573.94" stroke="#8a8a8a" stroke-width="1" stroke-opacity="0.55"/>
<line x1="335.5" y1="597.5" x2="335.5" y2="562.03" stroke="#8a8a8a" stroke-width="1" stroke-opacity="0.55"/>
<line x1="397.5" y1="597.5" x2="397.5" y2="573.64" stroke="#8a8a8a" stroke-width="1" stroke-opacity="0.55"/>
<line x1="407.5" y1="597.5" x2="407.5" y2="582.05" stroke="#8a8a8a" stroke-width="1" stroke-opacity="0.55"/>
<line x1="410.5" y1="597.5" x2="410.5" y2="572.92" stroke="#8a8a8a" stroke-width="1" stroke-opacity="0.55"/>
<line x1="379.5" y1="597.5" x2="379.5" y2="574.94" stroke="#8a8a8a" stroke-width="1" stroke-opacity="0.55"/>
<line x1="329.5" y1="597.5" x2="329.5" y2="590.4" stroke="#8a8a8a" stroke-width="1" stroke-opacity="0.55"/>
<line x1="335.5" y1="597.5" x2="335.5" y2="583.9" stroke="#8a8a8a" stroke-width="1" stroke-opacity="0.55"/>
<line x1="409.5" y1="597.5" x2="409.5" y2="576.64" stroke="#8a8a8a" stroke-width="1" stroke-opacity="0.55"/>
<line x1="316.5" y1="597.5" x2="316.5" y2="585.53" stroke="#8a8a8a" stroke-width="1" stroke-opacity="0.55"/>
<line x1="376.5" y1="597.5" x2="376.5" y2="556.14" stroke="#8a8a8a" stroke-width="1" stroke-opacity="0.55"/>
<line x1="305.5" y1="597.5" x2="305.5" y2="574.68" stroke="#8a8a8a" stroke-width="1" stroke-opacity="0.55"/>
<line x1="303.5" y1="597.5" x2="303.5" y2="589.23" stroke="#8a8a8a" stroke-width="1" stroke-opacity="0.55"/>
<line x1="357.5" y1="597.5" x2="357.5" y2="574.14" stroke="#8a8a8a" stroke-width="1" stroke-opacity="0.55"/>
<line x1="346.5" y1="597.5" x2="346.5" y2="579.46" stroke="#8a8a8a" stroke-width="1" stroke-opacity="0.55"/>
<line x1="404.5" y1="597.5" x2="404.5" y2="561.52" stroke="#8a8a8a" stroke-width="1" stroke-opacity="0.55"/>
<line x1="342.5" y1="597.5" x2="342.5" y2="576.56" stroke="#8a8a8a" stroke-width="1" stroke-opacity="0.55"/>
<line x1="334.5" y1="597.5" x2="334.5" y2="577.04" stroke="#8a8a8a" stroke-width="1" stroke-opacity="0.55"/>
<line x1="362.5" y1="597.5" x2="362.5" y2="571.04" stroke="#8a8a8a" stroke-width="1" stroke-opacity="0.55"/>
<line x1="377.5" y1="597.5" x2="377.5" y2="571.24" stroke="#8a8a8a" stroke-width="1" stroke-opacity="0.55"/>
<line x1="310.5" y1="597.5" x2="310.5" y2="591.87" stroke="#8a8a8a" stroke-width="1" stroke-opacity="0.55"/>
<line x1="340.5" y1="597.5" x2="340.5" y2="570.98" stroke="#8a8a8a" stroke-width="1" stroke-opacity="0.55"/>
<line x1="346.5" y1="597.5" x2="346.5" y2="589.39" stroke="#8a8a8a" stroke-width="1" stroke-opacity="0.55"/>
<line x1="409.5" y1="597.5" x2="409.5" y2="570.53" stroke="#8a8a8a" stroke-width="1" stroke-opacity="0.55"/>
<line x1="345.5" y1="597.5" x2="345.5" y2="558.57" stroke="#8a8a8a" stroke-width="1" stroke-opacity="0.55"/>
<line x1="402.5" y1="597.5" x2="402.5" y2="555.54" stroke="#8a8a8a" stroke-width="1" stroke-opacity="0.55"/>
<line x1="362.5" y1="597.5" x2="362.5" y2="567.92" stroke="#8a8a8a" stroke-width="1" stroke-opacity="0.55"/>
<line x1="337.5" y1="597.5" x2="337.5" y2="568.22" stroke="#8a8a8a" stroke-width="1" stroke-opacity="0.55"/>
<line x1="321.5" y1="597.5" x2="321.5" y2="556.37" stroke="#8a8a8a" stroke-width="1" stroke-opacity="0.55"/>
<line x1="361.5" y1="597.5" x2="361.5" y2="584.45" stroke="#8a8a8a" stroke-width="1" stroke-opacity="0.55"/>
<line x1="374.5" y1="597.5" x2="374.5" y2="556.87" stroke="#8a8a8a" stroke-width="1" stroke-opacity="0.55"/>
<line x1="379.5" y1="597.5" x2="379.5" y2="550.29" stroke="#8a8a8a" stroke-width="1" stroke-opacity="0.55"/>
<line x1="347.5" y1="597.5" x2="347.5" y2="585.64" stroke="#8a8a8a" stroke-width="1" stroke-opacity="0.55"/>
<line x1="405.5" y1="597.5" x2="405.5" y2="568.27" stroke="#8a8a8a" stroke-width="1" stroke-opacity="0.55"/>
<line x1="396.5" y1="597.5" x2="396.5" y2="569.94" stroke="#8a8a8a" stroke-width="1" stroke-opacity="0.55"/>
<line x1="359.5" y1="597.5" x2="359.5" y2="576.63" stroke="#8a8a8a" stroke-width="1" stroke-opacity="0.55"/>
<line x1="413.5" y1="597.5" x2="413.5" y2="580.72" stroke="#8a8a8a" stroke-width="1" stroke-opacity="0.55"/>
<line x1="354.5" y1="597.5" x2="354.5" y2="581.91" stroke="#8a8a8a" stroke-width="1" stroke-opacity="0.55"/>
<line x1="373.5" y1="597.5" x2="373.5" y2="563.57" stroke="#8a8a8a" stroke-width="1" stroke-opacity="0.55"/>
<line x1="389.5" y1="597.5" x2="389.5" y2="584.07" stroke="#8a8a8a" stroke-width="1" stroke-opacity="0.55"/>
<line x1="369.5" y1="597.5" x2="369.5" y2="589.48" stroke="#8a8a8a" stroke-width="1" stroke-opacity="0.55"/>
<line x1="302.5" y1="597.5" x2="302.5" y2="573.5" stroke="#8a8a8a" stroke-width="1" stroke-opacity="0.55"/>
<line x1="372.5" y1="597.5" x2="372.5" y2="562.99" stroke="#8a8a8a" stroke-width="1" stroke-opacity="0.55"/>
<line x1="319.5" y1="597.5" x2="319.5" y2="580.61" stroke="#8a8a8a" stroke-width="1" stroke-opacity="0.55"/>
<line x1="349.5" y1="597.5" x2="349.5" y2="564.95" stroke="#8a8a8a" stroke-width="1" stroke-opacity="0.55"/>
<line x1="304.5" y1="597.5" x2="304.5" y2="590.78" stroke="#8a8a8a" stroke-width="1" stroke-opacity="0.55"/>
<line x1="340.5" y1="597.5" x2="340.5" y2="559.37" stroke="#8a8a8a" stroke-width="1" stroke-opacity="0.55"/>
<line x1="324.5" y1="597.5" x2="324.5" y2="564.43" stroke="#8a8a8a" stroke-width="1" stroke-opacity="0.55"/>
<line x1="399.5" y1="597.5" x2="399.5" y2="555.95" stroke="#8a8a8a" stroke-width="1" stroke-opacity="0.55"/>
<line x1="331.5" y1="597.5" x2="331.5" y2="558.6" stroke="#8a8a8a" stroke-width="1" stroke-opacity="0.55"/>
<line x1="353.5" y1="597.5" x2="353.5" y2="562.69" stroke="#8a8a8a" stroke-width="1" stroke-opacity="0.55"/>
<line x1="339.5" y1="597.5" x2="339.5" y2="582.19" stroke="#8a8a8a" stroke-width="1" stroke-opacity="0.55"/>
<line x1="405.5" y1="597.5" x2="405.5" y2="584.7" stroke="#8a8a8a" stroke-width="1" stroke-opacity="0.55"/>
<line x1="304.5" y1="597.5" x2="304.5" y2="568.98" stroke="#8a8a8a" stroke-width="1" stroke-opacity="0.55"/>
<line x1="397.5" y1="597.5" x2="397.5" y2="549.45" stroke="#8a8a8a" stroke-width="1" stroke-opacity="0.55"/>
<line x1="323.5" y1="597.5" x2="323.5" y2="573.13" stroke="#8a8a8a" stroke-width="1" stroke-opacity="0.55"/>
<line x1="343.5" y1="597.5" x2="343.5" y2="582.76" stroke="#8a8a8a" stroke-width="1" stroke-opacity="0.55"/>
<line x1="382.5" y1="597.5" x2="382.5" y2="568.44" stroke="#8a8a8a" stroke-width="1" stroke-opacity="0.55"/>
<line x1="328.5" y1="597.5" x2="328.5" y2="563.54" stroke="#8a8a8a" stroke-width="1" stroke-opacity="0.55"/>
<line x1="330.5" y1="597.5" x2="330.5" y2="557.41" stroke="#8a8a8a" stroke-width="1" stroke-opacity="0.55"/>
<line x1="376.5" y1="597.5" x2="376.5" y2="554.94" stroke="#8a8a8a" stroke-width="1" stroke-opacity="0.55"/>
<line x1="401.5" y1="597.5" x2="401.5" y2="576.42" stroke="#8a8a8a" stroke-width="1" stroke-opacity="0.55"/>
<line x1="306.5" y1="597.5" x2="306.5" y2="573.45" stroke="#8a8a8a" stroke-width="1" stroke-opacity="0.55"/>
<line x1="369.5" y1="597.5" x2="369.5" y2="549.86" stroke="#8a8a8a" stroke-width="1" stroke-opacity="0.55"/>
<line x1="355.5" y1="597.5" x2="355.5" y2="556.1" stroke="#8a8a8a" stroke-width="1" stroke-opacity="0.55"/>
<line x1="387.5" y1="597.5" x2="387.5" y2="548.18" stroke="#8a8a8a" stroke-width="1" stroke-opacity="0.55"/>
<line x1="372.5" y1="597.5" x2="372.5" y2="591.36" stroke="#8a8a8a" stroke-width="1" stroke-opacity="0.55"/>
<line x1="396.5" y1="597.5" x2="396.5" y2="558.27" stroke="#8a8a8a" stroke-width="1" stroke-opacity="0.55"/>
<line x1="361.5" y1="597.5" x2="361.5" y2="560.17" stroke="#8a8a8a" stroke-width="1" stroke-opacity="0.55"/>
<line x1="339.5" y1="597.5" x2="339.5" y2="586.96" stroke="#8a8a8a" stroke-width="1" stroke-opacity="0.55"/>
<line x1="393.5" y1="597.5" x2="393.5" y2="548.4" stroke="#8a8a8a" stroke-width="1" stroke-opacity="0.55"/>
<line x1="343.5" y1="597.5" x2="343.5" y2="578.69" stroke="#8a8a8a" stroke-width="1" stroke-opacity="0.55"/>
<line x1="320.5" y1="597.5" x2="320.5" y2="584.7" stroke="#8a8a8a" stroke-width="1" stroke-opacity="0.55"/>
<line x1="402.5" y1="597.5" x2="402.5" y2="572.26" stroke="#8a8a8a" stroke-width="1" stroke-opacity="0.55"/>
<line x1="341.5" y1="597.5" x2="341.5" y2="586.39" stroke="#8a8a8a" stroke-width="1" stroke-opacity="0.55"/>
<line x1="358.5" y1="597.5" x2="358.5" y2="561.97" stroke="#8a8a8a" stroke-width="1" stroke-opacity="0.55"/>
<line x1="331.5" y1="597.5" x2="331.5" y2="560.89" stroke="#8a8a8a" stroke-width="1" stroke-opacity="0.55"/>
<line x1="396.5" y1="597.5" x2="396.5" y2="570.43" stroke="#8a8a8a" stroke-width="1" stroke-opacity="0.55"/>
<line x1="379.5" y1="597.5" x2="379.5" y2="583.96" stroke="#8a8a8a" stroke-width="1" stroke-opacity="0.55"/>
<line x1="411.5" y1="597.5" x2="411.5" y2="556.38" stroke="#8a8a8a" stroke-width="1" stroke-opacity="0.55"/>
<line x1="346.5" y1="597.5" x2="346.5" y2="587.35" stroke="#8a8a8a" stroke-width="1" stroke-opacity="0.55"/>
<line x1="387.5" y1="597.5" x2="387.5" y2="565.02" stroke="#8a8a8a" stroke-width="1" stroke-opacity="0.55"/>
<line x1="375.5" y1="597.5" x2="375.5" y2="556.58" stroke="#8a8a8a" stroke-width="1" stroke-opacity="0.55"/>
<line x1="318.5" y1="597.5" x2="318.5" y2="556.87" stroke="#8a8a8a" stroke-width="1" stroke-opacity="0.55"/>
<line x1="343.5" y1="597.5" x2="343.5" y2="563.73" stroke="#8a8a8a" stroke-width="1" stroke-opacity="0.55"/>
<line x1="359.5" y1="597.5" x2="359.5" y2="590.87" stroke="#8a8a8a" stroke-width="1" stroke-opacity="0.55"/>
<line x1="317.5" y1="597.5" x2="317.5" y2="575.63" stroke="#8a8a8a" stroke-width="1" stroke-opacity="0.55"/>
<line x1="399.5" y1="597.5" x2="399.5" y2="574.33" stroke="#8a8a8a" stroke-width="1" stroke-opacity="0.55"/>
<line x1="360.5" y1="597.5" x2="360.5" y2="583.41" stroke="#8a8a8a" stroke-width="1" stroke-opacity="0.55"/>
<line x1="302.5" y1="597.5" x2="302.5" y2="590.1" stroke="#8a8a8a" stroke-width="1" stroke-opacity="0.55"/>
<line x1="378.5" y1="597.5" x2="378.5" y2="583.49" stroke="#8a8a8a" stroke-width="1" stroke-opacity="0.55"/>
<line x1="394.5" y1="597.5" x2="394.5" y2="552.34" stroke="#8a8a8a" stroke-width="1" stroke-opacity="0.55"/>
<line x1="307.5" y1="597.5" x2="307.5" y2="561.6" stroke="#8a8a8a" stroke-width="1" stroke-opacity="0.55"/>
<line x1="357.5" y1="597.5" x2="357.5" y2="589.72" stroke="#8a8a8a" stroke-width="1" stroke-opacity="0.55"/>
<line x1="404.5" y1="597.5" x2="404.5" y2="566.13" stroke="#8a8a8a" stroke-width="1" stroke-opacity="0.55"/>
<line x1="371.5" y1="597.5" x2="371.5" y2="580.55" stroke="#8a8a8a" stroke-width="1" stroke-opacity="0.55"/>
<line x1="338.5" y1="597.5" x2="338.5" y2="590.91" stroke="#8a8a8a" stroke-width="1" stroke-opacity="0.55"/>
<line x1="407.5" y1="597.5" x2="407.5" y2="579.99" stroke="#8a8a8a" stroke-width="1" stroke-opacity="0.55"/>
<line x1="403.5" y1="597.5" x2="403.5" y2="583.24" stroke="#8a8a8a" stroke-width="1" stroke-opacity="0.55"/>
<line x1="374.5" y1="597.5" x2="374.5" y2="562.14" stroke="#8a8a8a" stroke-width="1" stroke-opacity="0.55"/>
<line x1="332.5" y1="597.5" x2="332.5" y2="563.82" stroke="#8a8a8a" stroke-width="1" stroke-opacity="0.55"/>
<polyline points="300,593.42 300.5,595.27 301,595.43 301.5,594.86 302,589.5 302.5,594.84 303,593.63 303.5,590.39 304,592.03 304.5,587.29 305,592.55 305.5,593.25 306,591.2 306.5,595.13 307,587.75 307.5,593.72 308,593.58 308.5,590.42 309,595.63 309.5,590.67 310,588.4 310.5,594.05 311,587.19 311.5,592.13 312,589.33 312.5,592.76 313,593.44 313.5,594.68 314,596.48 314.5,595.24 315,586.64 315.5,592.07 316,592.83 316.5,587.78 317,591.29 317.5,586.8 318,593.87 318.5,595.14 319,587.52 319.5,595.57 320,589.12 320.5,591.4 321,586.72 321.5,587.22 322,590.67 322.5,596.36 323,596.42 323.5,592.71 324,588.78 324.5,596.12 325,593.21 325.5,596.09 326,594.32 326.5,596.49 327,594.14 327.5,592.19 328,595.26 328.5,589.17 329,596.27 329.5,595.17 330,594.79 330.5,593.42 331,589.46 331.5,593.91 332,590.27 332.5,587.5 333,595.79 333.5,588.23 334,591.36 334.5,589.65 335,591.26 335.5,593.38 336,596.02 336.5,595.7 337,595.47 337.5,595.44 338,595.68 338.5,595.2 339,591.78 339.5,589.37 340,589.04 340.5,588.45 341,595.88 341.5,588.75 342,595.38 342.5,596.17 343,594.52 343.5,591.51 344,596.31 344.5,595.13 345,593.47 345.5,588.74 346,593.47 346.5,593.32 347,593.74 347.5,596.05 348,588.04 348.5,587.49 349,589.96 349.5,593.48 350,593.02 350.5,594.31 351,590.74 351.5,590.75 352,594.31 352.5,588.1 353,589.97 353.5,595.11 354,588.91 354.5,590.51 355,594.85 355.5,594.44 356,589.6 356.5,596.12 357,593.08 357.5,586.97 358,594.8 358.5,592.41 359,587.69 359.5,588.1 360,589.16 360.5,592.08 361,587.4 361.5,594.79 362,588.01 362.5,593.37 363,590.69 363.5,591.23 364,594.57 364.5,590.46 365,591.3 365.5,586.66 366,590.6 366.5,593.06 367,593.66 367.5,587.94 368,593.99 368.5,588.23 369,587.79 369.5,583.14 370,594.85 370.5,588.26 371,595.08 371.5,588.66 372,588.39 372.5,586.98 373,584.88 373.5,594.41 374,584.98 374.5,592.98 375,592.25 375.5,595.68 376,590.34 376.5,596.5 377,593.44 377.5,588.14 378,586.91 378.5,595.13 379,586.28 379.5,591.63 380,594.71 380.5,586.89 381,587.05 381.5,591.28 382,590.35 382.5,588.98 383,588.79 383.5,586.62 384,586.55 384.5,594.77 385,596.41 385.5,595.75 386,593.48 386.5,589.6 387,583.2 387.5,592.01 388,592.67 388.5,589.95 389,583.43 389.5,589.48 390,593.63 390.5,586.76 391,582.65 391.5,586.13 392,592.27 392.5,595.08 393,591.39 393.5,595.53 394,595.51 394.5,591.59 395,585.16 395.5,587.66 396,591.99 396.5,583.33 397,595.01 397.5,594.19 398,593.9 398.5,589.72 399,584.47 399.5,592.48 400,585.57 400.5,583.64 401,591.12 401.5,584.42 402,584.48 402.5,591.16 403,595.11 403.5,596.02 404,594.32 404.5,591.4 405,596.44 405.5,593.19 406,590.9 406.5,593.11 407,587.14 407.5,589.76 408,590.32 408.5,588.77 409,589.56 409.5,592.05 410,595.14 410.5,589.48 411,596.23 411.5,596.31 412,593.02 412.5,594.43 413,586.78 413.5,595.22 414,591.7" fill="none" stroke="#666666" stroke-width="0.7" stroke-linejoin="round"/>
<polyline points="59,576.8 370,575.5 463,574.6" fill="none" stroke="#4fa6dc" stroke-width="1.2" stroke-linejoin="round"/>
<polyline points="59,576.8 370,574.8 414,573.8 420,571.2 430,567.7 440,565 450,562.5 463,559" fill="none" stroke="#2a9c9e" stroke-width="1.2" stroke-linejoin="round"/>
<polyline points="59,576.8 88,576 223,575.3 300,574.5 370,573 414,572 416,566 420,559 425,554 430,551.3 440,549.6 450,546 463,538.4" fill="none" stroke="#d6ef45" stroke-width="1.2" stroke-linejoin="round"/>
<polyline points="59,577.07 61.07,576.53 63.14,576.4 65.21,576.93 67.29,576.38 69.36,576.29 71.43,576.55 73.5,576.31 75.57,576.58 77.64,576.12 79.71,576.5 81.79,576.06 83.86,576.17 85.93,576.32 88,576.11 90,576.14 92,575.89 94,575.38 96,575.76 98,575.47 100,575.19 102,574.88 104,575.05 106,574.66 108,574.64 110,574.31 112,574.2 114,573.73 116,573.58 118,573.3 120,572.86 122.5,574.27 125,574.89 127.06,575.17 129.12,575.27 131.18,575.09 133.24,574.79 135.29,575.2 137.35,575.1 139.41,574.81 141.47,574.73 143.53,575.02 145.59,574.72 147.65,575.26 149.71,575 151.76,575.01 153.82,574.95 155.88,575.1 157.94,575.25 160,574.88 162,574.77 164,574.75 166,574.43 168,574.46 170,574.28 172,574.06 174,574.05 176,573.82 178,573.4 180,573.8 182,574.08 184,574.79 186,575.44 188,575.76 190,575.77 192,575.51 194,575.44 196,575.26 198,575.74 200,575.3 202,575.53 204,575.41 206,575.4 208,575.41 210,575.31 212,575.22 214,575.52 216,575.68 218,575.59 220,575.32 222,575.62 224,572.73 226.1,572.75 228.2,572.8 230.3,572.65 232.4,572.18 234.5,572.21 236.6,571.8 238.7,571.61 240.8,571.45 242.9,571.49 245,571.15 247,570.98 249,571.14 251,571.09 253,570.91 255,571.17 257,571.19 259,571.07 261,571.27 263,570.71 265,571 267,571.08 269,570.9 271,570.8 273,571.12 275,570.96 277,571.12 279,571.25 281,572.06 283,571.95 285,572.07 287,572.39 289,572.67 291,573.3 293,573.15 295,573.47 297.5,573.06 300,572.98 302,570.82 304,568.91 306,567.14 308,567.68 310,568.06 312,568.01 314,568.64 316,569.35 318,569.29 320,569.82 322,569.95 324,569.84 326,570.01 328,569.94 330,569.75 332,569.57 334,569.51 336,569.49 338,569.32 340,569.63 342,569.28 344,569.67 346,569.48 348,569.08 350,569.3 352,569.43 354,569.17 356,569.5 358,569.3 360,569.81 362,569.42 364,569.87 366,570.15 368,570.14 370,569.84 372,569.56 374,568.86 376,568.53 378,568.38 380,567.89 382,567.25 384,567.31 386,567.3 388,566.87 390,567.08 392,567.3 394,567.25 396,567.3 398,567.75 400,567.71 402,567.17 404,566.89 406,566.48 408,566.54 410,566.01 412,566.57 414,566.9 415,550.4 416,535 418,524.5 421,516 425,509 430,505.5 435,505.5 438,507.3 442,506.4 450,501.2 457,497 458,493.5 459,490.5" fill="none" stroke="#f3dc2a" stroke-width="1.2" stroke-linejoin="round"/>
<polyline points="460.5,490.5 461,493.5 463,495" fill="none" stroke="#f3dc2a" stroke-width="1.2" stroke-linejoin="round"/>
<polyline points="59,577.14 60.53,577.12 62.05,577.03 63.58,576.34 65.11,576.71 66.63,576.53 68.16,576.57 69.68,576.21 71.21,576.22 72.74,576.38 74.26,576.16 75.79,576.3 77.32,575.91 78.84,575.92 80.37,576.38 81.89,576.11 83.42,576.14 84.95,576.27 86.47,575.93 88,575.65 90,575.23 91.67,574.74 93.33,574.46 95,574.1 96.67,574.04 98.33,573.22 100,573.21 101.67,572.99 103.33,573.26 105,573.43 106.67,573.25 108.33,573.17 110,573.58 111.67,573.37 113.33,572.87 115,572.36 116.67,571.71 118.33,570.55 120,569.74 121.67,570.86 123.33,572.25 125,572.76 126.67,573.02 128.33,573.35 130,573.63 131.54,573.82 133.08,574.06 134.62,574.26 136.15,573.86 137.69,573.9 139.23,573.83 140.77,573.84 142.31,574.22 143.85,574.04 145.38,573.81 146.92,573.69 148.46,574.23 150,574.17 151.67,574.2 153.33,573.66 155,573.84 156.67,574.07 158.33,573.74 160,573.96 161.67,573.23 163.33,573.78 165,572.94 166.67,573.13 168.33,572.72 170,573.25 171.67,572.92 173.33,572.91 175,572.54 176.67,572.43 178.33,571.86 180,571.99 181.67,572.6 183.33,573.08 185,574.38 186.67,574.23 188.33,574.42 190,574.66 191.52,574.97 193.05,574.76 194.57,575.35 196.1,575.36 197.62,574.77 199.14,574.68 200.67,575.02 202.19,574.74 203.71,575.03 205.24,575.25 206.76,574.8 208.29,574.94 209.81,575.32 211.33,574.96 212.86,574.87 214.38,575.31 215.9,575.25 217.43,575.32 218.95,575.15 220.48,574.93 222,575.15 224,571.26 226,570.61 228,569.79 229.75,570.09 231.5,570.43 233.25,570.97 235,571.05 236.67,570.04 238.33,569.26 240,567.69 241.67,567.77 243.33,567.2 245,567.05 246.67,567.73 248.33,567.73 250,568.76 251.67,568.26 253.33,568.85 255,569.03 256.67,568.45 258.33,568.38 260,567.98 261.67,568.49 263.33,569.24 265,569.2 266.67,569.3 268.33,569.43 270,568.71 271.67,568.96 273.33,568.1 275,568.14 276.67,568.27 278.33,569.03 280,569.54 281.67,569.73 283.33,570.69 285,570.98 286.67,571.48 288.33,571.7 290,572.04 291.67,571.89 293.33,571.57 295,571.92 296.67,571.47 298.33,572.3 300,572.49 301.5,569.6 303,567.22 304.5,563.54 306,559.88 308,558.83 310,561.16 311.5,563.03 313,564.84 314.5,564.62 316,563.37 318,564.46 320,565.54 321.67,564.89 323.33,563.65 325,562.74 326.67,563.47 328.33,564.46 330,565.27 331,563.77 332.67,564.14 334.33,564.95 336,565 338,565.69 340,566.97 341.5,567.85 343,569.35 345,566.35 347,563.79 348.67,564.01 350.33,565.18 352,565.4 354,567.84 356,569.41 358,569.13 360,569.95 361.5,568.57 363,567.69 364.5,568.62 366,570.27 368,568.17 370,566.44 372,563.92 373.5,563.39 375,562.33 376.75,561.54 378.5,561.58 380.25,560.75 382,559.74 383.5,560.58 385,560.73 386.5,560.35 388,560.42 389.67,560.29 391.33,559.31 393,559.19 395,560.73 397,562.67 398.5,561.93 400,561.47 401.5,560.88 403,560.08 404.5,557.07 406,553.86 408,554.11 410,554.47 411.5,555.49 413,555.36 414.5,556.5 415.2,556 415.2,490.5" fill="none" stroke="#ea5a84" stroke-width="1.2" stroke-linejoin="round"/>
<line x1="58.5" y1="491" x2="463.5" y2="491" stroke="#6a6a6a" stroke-width="1"/>
<line x1="58.5" y1="600.5" x2="463.5" y2="600.5" stroke="#6a6a6a" stroke-width="1"/>
<line x1="58.5" y1="490.5" x2="58.5" y2="601" stroke="#6a6a6a" stroke-width="1"/>
<line x1="463.5" y1="490.5" x2="463.5" y2="601" stroke="#999999" stroke-width="1"/>
<line x1="87.6" y1="600.5" x2="87.6" y2="596.5" stroke="#6a6a6a" stroke-width="1"/>
<line x1="87.6" y1="491" x2="87.6" y2="495" stroke="#6a6a6a" stroke-width="1"/>
<text x="87.6" y="613.2" font-size="9" fill="#2b2b2b" stroke="#2b2b2b" stroke-width="0.3" text-anchor="middle">0</text>
<line x1="145.35" y1="600.5" x2="145.35" y2="596.5" stroke="#6a6a6a" stroke-width="1"/>
<line x1="145.35" y1="491" x2="145.35" y2="495" stroke="#6a6a6a" stroke-width="1"/>
<text x="145.35" y="613.2" font-size="9" fill="#2b2b2b" stroke="#2b2b2b" stroke-width="0.3" text-anchor="middle">100</text>
<line x1="203.1" y1="600.5" x2="203.1" y2="596.5" stroke="#6a6a6a" stroke-width="1"/>
<line x1="203.1" y1="491" x2="203.1" y2="495" stroke="#6a6a6a" stroke-width="1"/>
<text x="203.1" y="613.2" font-size="9" fill="#2b2b2b" stroke="#2b2b2b" stroke-width="0.3" text-anchor="middle">200</text>
<line x1="260.85" y1="600.5" x2="260.85" y2="596.5" stroke="#6a6a6a" stroke-width="1"/>
<line x1="260.85" y1="491" x2="260.85" y2="495" stroke="#6a6a6a" stroke-width="1"/>
<text x="260.85" y="613.2" font-size="9" fill="#2b2b2b" stroke="#2b2b2b" stroke-width="0.3" text-anchor="middle">300</text>
<line x1="318.6" y1="600.5" x2="318.6" y2="596.5" stroke="#6a6a6a" stroke-width="1"/>
<line x1="318.6" y1="491" x2="318.6" y2="495" stroke="#6a6a6a" stroke-width="1"/>
<text x="318.6" y="613.2" font-size="9" fill="#2b2b2b" stroke="#2b2b2b" stroke-width="0.3" text-anchor="middle">400</text>
<line x1="376.35" y1="600.5" x2="376.35" y2="596.5" stroke="#6a6a6a" stroke-width="1"/>
<line x1="376.35" y1="491" x2="376.35" y2="495" stroke="#6a6a6a" stroke-width="1"/>
<text x="376.35" y="613.2" font-size="9" fill="#2b2b2b" stroke="#2b2b2b" stroke-width="0.3" text-anchor="middle">500</text>
<line x1="434.1" y1="600.5" x2="434.1" y2="596.5" stroke="#6a6a6a" stroke-width="1"/>
<line x1="434.1" y1="491" x2="434.1" y2="495" stroke="#6a6a6a" stroke-width="1"/>
<text x="434.1" y="613.2" font-size="9" fill="#2b2b2b" stroke="#2b2b2b" stroke-width="0.3" text-anchor="middle">600</text>
<line x1="58.5" y1="491" x2="62.5" y2="491" stroke="#6a6a6a" stroke-width="1"/>
<text x="55.5" y="494.3" font-size="9" fill="#2b2b2b" stroke="#2b2b2b" stroke-width="0.3" text-anchor="end">200</text>
<line x1="58.5" y1="515.6" x2="62.5" y2="515.6" stroke="#6a6a6a" stroke-width="1"/>
<text x="55.5" y="518.9" font-size="9" fill="#2b2b2b" stroke="#2b2b2b" stroke-width="0.3" text-anchor="end">150</text>
<line x1="58.5" y1="539.7" x2="62.5" y2="539.7" stroke="#6a6a6a" stroke-width="1"/>
<text x="55.5" y="543" font-size="9" fill="#2b2b2b" stroke="#2b2b2b" stroke-width="0.3" text-anchor="end">100</text>
<line x1="58.5" y1="563.9" x2="62.5" y2="563.9" stroke="#6a6a6a" stroke-width="1"/>
<text x="55.5" y="567.2" font-size="9" fill="#2b2b2b" stroke="#2b2b2b" stroke-width="0.3" text-anchor="end">50</text>
<line x1="58.5" y1="588.3" x2="62.5" y2="588.3" stroke="#6a6a6a" stroke-width="1"/>
<text x="55.5" y="591.6" font-size="9" fill="#2b2b2b" stroke="#2b2b2b" stroke-width="0.3" text-anchor="end">0</text>
<line x1="459.5" y1="600.5" x2="463.5" y2="600.5" stroke="#999999" stroke-width="1"/>
<text x="466.5" y="603.8" font-size="9" fill="#999999" stroke="#999999" stroke-width="0.3" text-anchor="start">0</text>
<line x1="459.5" y1="564.4" x2="463.5" y2="564.4" stroke="#999999" stroke-width="1"/>
<text x="466.5" y="567.7" font-size="9" fill="#999999" stroke="#999999" stroke-width="0.3" text-anchor="start">50</text>
<line x1="459.5" y1="527.6" x2="463.5" y2="527.6" stroke="#999999" stroke-width="1"/>
<text x="466.5" y="530.9" font-size="9" fill="#999999" stroke="#999999" stroke-width="0.3" text-anchor="start">100</text>
<line x1="459.5" y1="491" x2="463.5" y2="491" stroke="#999999" stroke-width="1"/>
<text x="466.5" y="494.3" font-size="9" fill="#999999" stroke="#999999" stroke-width="0.3" text-anchor="start">150</text>
<text x="34" y="545.5" font-size="11.5" fill="#2b2b2b" stroke="#2b2b2b" stroke-width="0.3" text-anchor="middle" transform="rotate(-90 34 545.5)"><tspan font-style="italic">T</tspan> / °C</text>
<text x="494.4" y="546" font-size="11" fill="#999999" stroke="#999999" stroke-width="0.3" text-anchor="middle" transform="rotate(-90 494.4 546)"><tspan font-style="italic">P</tspan><tspan font-size="8.5" dy="6">ISC</tspan><tspan dy="-6"> / W</tspan></text>
<text x="261" y="627" font-size="11.5" fill="#2b2b2b" stroke="#2b2b2b" stroke-width="0.3" text-anchor="middle"><tspan font-style="italic">t</tspan> / s</text>
<rect x="70.5" y="500.5" width="140" height="28" fill="#fff" stroke="#444" stroke-width="1"/>
<line x1="72" y1="507.5" x2="83" y2="507.5" stroke="#ea5a84" stroke-width="1.3"/>
<text x="85" y="510.4" font-size="9.2" fill="#2b2b2b" stroke="#2b2b2b" stroke-width="0.3" text-anchor="start"><tspan font-style="italic">T</tspan>-Needle</text>
<line x1="72" y1="520.5" x2="83" y2="520.5" stroke="#f3dc2a" stroke-width="1.3"/>
<text x="85" y="523.6" font-size="9.2" fill="#2b2b2b" stroke="#2b2b2b" stroke-width="0.3" text-anchor="start"><tspan font-style="italic">T</tspan>-9*</text>
<line x1="127" y1="507.5" x2="136" y2="507.5" stroke="#d6ef45" stroke-width="1.3"/>
<text x="138" y="510.4" font-size="9.2" fill="#2b2b2b" stroke="#2b2b2b" stroke-width="0.3" text-anchor="start"><tspan font-style="italic">T</tspan>-9**</text>
<line x1="127" y1="520.5" x2="136" y2="520.5" stroke="#2a9c9e" stroke-width="1.3"/>
<text x="138" y="523.6" font-size="9.2" fill="#2b2b2b" stroke="#2b2b2b" stroke-width="0.3" text-anchor="start"><tspan font-style="italic">T</tspan>-9***</text>
<line x1="165" y1="507.5" x2="176" y2="507.5" stroke="#4fa6dc" stroke-width="1.3"/>
<text x="177.4" y="510.4" font-size="9.2" fill="#2b2b2b" stroke="#2b2b2b" stroke-width="0.3" text-anchor="start"><tspan font-style="italic">T</tspan>-Mean</text>
<line x1="165" y1="520.5" x2="176" y2="520.5" stroke="#cccccc" stroke-width="1.3"/>
<text x="177.4" y="523.6" font-size="9.2" fill="#2b2b2b" stroke="#2b2b2b" stroke-width="0.3" text-anchor="start"><tspan font-style="italic">P</tspan><tspan font-size="7.3" dy="3.5">ISC</tspan></text>
<text x="4.8" y="655" font-size="13" fill="#111" stroke="#111" stroke-width="0.3" text-anchor="start" style="font-family:'Liberation Serif',serif;font-weight:bold;stroke-width:0"><tspan style="font-weight:normal">(</tspan>b<tspan style="font-weight:normal">)</tspan></text>
<polyline points="59,738.4 61,748 63,758.4 64.5,768 65.3,774.4 443.6,774.4 444.6,774.4 447,752 450,732.8 452.4,728 455.4,710 460.2,684.8 460.8,683.5" fill="none" stroke="#8fd4b8" stroke-width="1" stroke-linejoin="round"/>
<polyline points="59,738.4 61,748 63,758.4 64.5,768 65.5,776 66.2,784 67,784.4 70,785.2 80,785.6 95,786.4 123.7,786.6 126,788 195,789 444,789 447,771 450.5,756.7 452,755 453.5,752 456,735 459,716 462,694.4 463,686.6" fill="none" stroke="#2ea777" stroke-width="1.3" stroke-linejoin="round"/>
<polyline points="59,723 62,720.64 65.3,715.96 66,728.07 67,731.06 69,733.44 70.5,737.09 72.75,737.1 75,736.66 77.5,736.7 80,736.46 82.5,736.45 85,736.81 87.5,737.38 90,737.97 92.5,739 95,739.44 97.14,739.42 99.29,739.8 101.43,739.6 103.57,739.54 105.71,739.6 107.86,739.63 110,739.88 112,739.82 114,740.07 116,740.45 118,740.68 120,741.08 123.7,742.34 123.9,747.94 125.93,747.71 127.97,747.8 130,747.7 132.13,747.05 134.27,747.06 136.4,746.85 137.5,749.06 139.5,750.29 141.5,751.92 143.56,751.94 145.62,751.77 147.67,751.99 149.73,751.87 151.79,751.85 153.85,752.01 155.9,752.06 157.96,752.13 160.02,752.27 162.08,752.4 164.13,752.49 166.19,752.54 168.25,752.6 170.31,752.56 172.37,752.41 174.42,752.41 176.48,752.63 178.54,752.65 180.6,752.75 182.65,752.56 184.71,752.65 186.77,752.98 188.83,752.9 190.88,752.99 192.94,752.79 195,752.96 197.01,753.16 199.03,753.06 201.04,753.2 203.06,752.88 205.07,752.98 207.09,753.12 209.1,752.98 211.12,753.12 213.13,753.02 215.15,752.85 217.16,752.84 219.18,753.19 221.19,752.85 223.21,752.88 225.22,752.93 227.24,753.09 229.25,753.14 231.27,752.99 233.28,753 235.3,753.12 237.31,752.91 239.33,752.95 241.34,753.05 243.36,753.05 245.37,752.82 247.39,752.84 249.4,752.86 251.42,753.09 253.43,753.08 255.45,753.19 257.46,753.11 259.48,752.9 261.49,753.11 263.51,753.19 265.52,752.94 267.54,752.8 269.55,752.95 271.57,752.91 273.58,752.87 275.6,752.82 277.61,752.85 279.63,753.15 281.64,752.82 283.66,753.05 285.67,752.88 287.69,752.88 289.7,753.13 291.72,752.92 293.73,752.87 295.75,752.98 297.76,753.08 299.78,753.01 301.79,753.14 303.81,752.96 305.82,753.01 307.84,753.09 309.85,752.98 311.87,753.09 313.88,752.99 315.9,752.85 317.91,752.85 319.93,753.11 321.94,753.1 323.96,753.18 325.97,753.08 327.99,753.03 330,752.87 332.03,753.13 334.05,752.82 336.08,752.93 338.11,752.8 340.14,752.88 342.16,752.84 344.19,752.88 346.22,752.98 348.24,752.9 350.27,752.76 352.3,752.96 354.32,752.93 356.35,752.96 358.38,752.62 360.41,752.84 362.43,752.94 364.46,752.67 366.49,752.64 368.51,752.87 370.54,752.68 372.57,752.68 374.59,752.83 376.62,752.64 378.65,752.56 380.68,752.55 382.7,752.59 384.73,752.71 386.76,752.57 388.78,752.72 390.81,752.42 392.84,752.48 394.86,752.62 396.89,752.55 398.92,752.54 400.95,752.7 402.97,752.42 405,752.37 407.14,752.38 409.29,752.64 411.43,752.63 413.57,752.78 415.71,752.66 417.86,752.73 420,752.95 422,753.36 424,753.44 426,753.95 428,754.07 430,754.26 432,754.77 434,754.91 436,755.42 438,755.88 440,756.12 443,754.23 443.6,786.54 446,786.03 448,785.63 450,785.45 452.5,785.77 455,786.18 457.5,785.72 460,785.31 463,785.5" fill="none" stroke="#f4843a" stroke-width="1.2" stroke-linejoin="round"/>
<polyline points="107,686.2 115,689.8 116.09,690.26 117.59,690.9 119.38,691.65 121.3,692.46 123.22,693.26 125,694 126.63,694.64 128.22,695.22 129.81,695.8 131.44,696.42 133.16,697.14 135,698 136.89,699.03 138.8,700.2 140.78,701.46 142.93,702.78 145.31,704.1 148,705.4 151.05,706.68 154.39,707.98 157.97,709.29 161.72,710.61 165.59,711.91 169.5,713.2 173.28,714.44 176.95,715.65 180.72,716.84 184.84,718.06 189.52,719.34 195,720.7 201.56,722.22 209.08,723.88 217.16,725.6 225.42,727.29 233.47,728.85 240.9,730.2 247.58,731.32 253.8,732.28 259.79,733.11 265.83,733.87 272.14,734.58 279,735.3 286.65,736 294.96,736.64 303.54,737.25 312.06,737.83 320.13,738.41 327.4,739 333.6,739.59 338.98,740.18 343.91,740.76 348.8,741.34 354.03,741.92 360,742.5 367.01,743.1 374.82,743.71 382.98,744.32 391.02,744.92 398.51,745.49 405,746 410.44,746.46 415.19,746.87 419.38,747.26 423.15,747.61 426.64,747.96 430,748.3 433.14,748.63 435.93,748.93 438.44,749.22 440.74,749.51 442.91,749.8 445,750.1 446.98,750.42 448.78,750.74 450.44,751.08 452,751.4 453.51,751.71 455,752 456.54,752.28 458.11,752.56 459.62,752.82 461,753.06 462.15,753.25 463,753.4" fill="none" stroke="#5ab4e4" stroke-width="1.2" stroke-linejoin="round"/>
<polyline points="139,705.5 139.98,705.95 141.34,706.58 142.95,707.32 144.68,708.1 146.41,708.85 148,709.5 149.43,710.04 150.8,710.51 152.17,710.96 153.59,711.41 155.11,711.88 156.8,712.4 158.69,712.99 160.75,713.62 162.92,714.28 165.14,714.94 167.35,715.59 169.5,716.2 171.59,716.78 173.66,717.35 175.73,717.9 177.8,718.44 179.89,718.97 182,719.5 183.76,719.93 185.08,720.26 186.41,720.57 188.21,720.98 190.92,721.59 195,722.5 200.84,723.84 208.15,725.56 216.38,727.47 224.96,729.41 233.32,731.21 240.9,732.7 247.58,733.87 253.8,734.86 259.79,735.71 265.83,736.46 272.14,737.14 279,737.8 286.65,738.4 294.96,738.9 303.54,739.34 312.06,739.74 320.13,740.15 327.4,740.6 333.6,741.06 338.98,741.51 343.91,741.96 348.8,742.43 354.03,742.94 360,743.5 366.9,744.15 374.45,744.89 382.35,745.67 390.28,746.43 397.94,747.12 405,747.7 411.76,748.15 418.52,748.5 425,748.79 430.93,749.03 436.02,749.26 440,749.5 442.63,749.75 444.07,749.99 444.69,750.21 444.81,750.41 444.8,750.58 445,750.7" fill="none" stroke="#8f86d6" stroke-width="1.1" stroke-linejoin="round"/>
<polyline points="445,750.7 455,752 463,753.4" fill="none" stroke="#3030a0" stroke-width="1.1" stroke-linejoin="round"/>
<line x1="66.5" y1="686.2" x2="66.5" y2="691.5" stroke="#7f7acd" stroke-width="1"/>
<line x1="70.5" y1="686.2" x2="70.5" y2="694.7" stroke="#7f7acd" stroke-width="1"/>
<line x1="73.5" y1="686.2" x2="73.5" y2="689" stroke="#7f7acd" stroke-width="1"/>
<line x1="77.5" y1="686.2" x2="77.5" y2="694" stroke="#7f7acd" stroke-width="1"/>
<line x1="80.5" y1="686.2" x2="80.5" y2="690" stroke="#7f7acd" stroke-width="1"/>
<line x1="83.5" y1="686.2" x2="83.5" y2="696.4" stroke="#7f7acd" stroke-width="1"/>
<line x1="85.5" y1="686.2" x2="85.5" y2="691.5" stroke="#7f7acd" stroke-width="1"/>
<line x1="87.5" y1="686.2" x2="87.5" y2="689.5" stroke="#7f7acd" stroke-width="1"/>
<line x1="89.5" y1="686.2" x2="89.5" y2="700.5" stroke="#7f7acd" stroke-width="1"/>
<line x1="90.5" y1="686.2" x2="90.5" y2="692" stroke="#7f7acd" stroke-width="1"/>
<line x1="92.5" y1="686.2" x2="92.5" y2="695.5" stroke="#7f7acd" stroke-width="1"/>
<line x1="100.5" y1="686.2" x2="100.5" y2="695.59" stroke="#8a85d2" stroke-width="1" stroke-opacity="0.7"/>
<line x1="100.5" y1="686.2" x2="100.5" y2="690.89" stroke="#14148c" stroke-width="1" stroke-opacity="0.7"/>
<line x1="104.5" y1="686.2" x2="104.5" y2="691.33" stroke="#8a85d2" stroke-width="1" stroke-opacity="0.7"/>
<line x1="104.5" y1="686.2" x2="104.5" y2="688.76" stroke="#14148c" stroke-width="1" stroke-opacity="0.7"/>
<line x1="101.5" y1="686.2" x2="101.5" y2="698.69" stroke="#8a85d2" stroke-width="1" stroke-opacity="0.7"/>
<line x1="101.5" y1="686.2" x2="101.5" y2="692.44" stroke="#14148c" stroke-width="1" stroke-opacity="0.7"/>
<line x1="105.5" y1="686.2" x2="105.5" y2="690.24" stroke="#8a85d2" stroke-width="1" stroke-opacity="0.7"/>
<line x1="105.5" y1="686.2" x2="105.5" y2="688.22" stroke="#14148c" stroke-width="1" stroke-opacity="0.7"/>
<line x1="101.5" y1="686.2" x2="101.5" y2="695.41" stroke="#8a85d2" stroke-width="1" stroke-opacity="0.7"/>
<line x1="101.5" y1="686.2" x2="101.5" y2="690.8" stroke="#14148c" stroke-width="1" stroke-opacity="0.7"/>
<line x1="99.5" y1="686.2" x2="99.5" y2="699.59" stroke="#8a85d2" stroke-width="1" stroke-opacity="0.7"/>
<line x1="99.5" y1="686.2" x2="99.5" y2="692.9" stroke="#14148c" stroke-width="1" stroke-opacity="0.7"/>
<line x1="100.5" y1="686.2" x2="100.5" y2="693.34" stroke="#8a85d2" stroke-width="1" stroke-opacity="0.7"/>
<line x1="100.5" y1="686.2" x2="100.5" y2="689.77" stroke="#14148c" stroke-width="1" stroke-opacity="0.7"/>
<line x1="106.5" y1="686.2" x2="106.5" y2="695.63" stroke="#8a85d2" stroke-width="1" stroke-opacity="0.7"/>
<line x1="106.5" y1="686.2" x2="106.5" y2="690.91" stroke="#14148c" stroke-width="1" stroke-opacity="0.7"/>
<line x1="96.5" y1="686.2" x2="96.5" y2="691.71" stroke="#8a85d2" stroke-width="1" stroke-opacity="0.7"/>
<line x1="96.5" y1="686.2" x2="96.5" y2="688.96" stroke="#14148c" stroke-width="1" stroke-opacity="0.7"/>
<line x1="99.5" y1="686.2" x2="99.5" y2="688.63" stroke="#8a85d2" stroke-width="1" stroke-opacity="0.7"/>
<line x1="99.5" y1="686.2" x2="99.5" y2="687.42" stroke="#14148c" stroke-width="1" stroke-opacity="0.7"/>
<line x1="101.5" y1="686.2" x2="101.5" y2="696.83" stroke="#8a85d2" stroke-width="1" stroke-opacity="0.7"/>
<line x1="101.5" y1="686.2" x2="101.5" y2="691.52" stroke="#14148c" stroke-width="1" stroke-opacity="0.7"/>
<line x1="98.5" y1="686.2" x2="98.5" y2="698.16" stroke="#8a85d2" stroke-width="1" stroke-opacity="0.7"/>
<line x1="98.5" y1="686.2" x2="98.5" y2="692.18" stroke="#14148c" stroke-width="1" stroke-opacity="0.7"/>
<line x1="105.5" y1="686.2" x2="105.5" y2="694.67" stroke="#8a85d2" stroke-width="1" stroke-opacity="0.7"/>
<line x1="105.5" y1="686.2" x2="105.5" y2="690.43" stroke="#14148c" stroke-width="1" stroke-opacity="0.7"/>
<line x1="102.5" y1="686.2" x2="102.5" y2="689.41" stroke="#8a85d2" stroke-width="1" stroke-opacity="0.7"/>
<line x1="102.5" y1="686.2" x2="102.5" y2="687.8" stroke="#14148c" stroke-width="1" stroke-opacity="0.7"/>
<line x1="93.5" y1="686.2" x2="93.5" y2="699.76" stroke="#8a85d2" stroke-width="1" stroke-opacity="0.7"/>
<line x1="93.5" y1="686.2" x2="93.5" y2="692.98" stroke="#14148c" stroke-width="1" stroke-opacity="0.7"/>
<line x1="96.5" y1="686.2" x2="96.5" y2="690.56" stroke="#8a85d2" stroke-width="1" stroke-opacity="0.7"/>
<line x1="96.5" y1="686.2" x2="96.5" y2="688.38" stroke="#14148c" stroke-width="1" stroke-opacity="0.7"/>
<line x1="105.5" y1="686.2" x2="105.5" y2="697" stroke="#8a85d2" stroke-width="1" stroke-opacity="0.7"/>
<line x1="105.5" y1="686.2" x2="105.5" y2="691.6" stroke="#14148c" stroke-width="1" stroke-opacity="0.7"/>
<line x1="94.5" y1="686.2" x2="94.5" y2="691.86" stroke="#8a85d2" stroke-width="1" stroke-opacity="0.7"/>
<line x1="94.5" y1="686.2" x2="94.5" y2="689.03" stroke="#14148c" stroke-width="1" stroke-opacity="0.7"/>
<line x1="96.5" y1="686.2" x2="96.5" y2="691.27" stroke="#8a85d2" stroke-width="1" stroke-opacity="0.7"/>
<line x1="96.5" y1="686.2" x2="96.5" y2="688.74" stroke="#14148c" stroke-width="1" stroke-opacity="0.7"/>
<line x1="92.5" y1="686.2" x2="92.5" y2="694.3" stroke="#8a85d2" stroke-width="1" stroke-opacity="0.7"/>
<line x1="92.5" y1="686.2" x2="92.5" y2="690.25" stroke="#14148c" stroke-width="1" stroke-opacity="0.7"/>
<line x1="96.5" y1="686.2" x2="96.5" y2="692.73" stroke="#8a85d2" stroke-width="1" stroke-opacity="0.7"/>
<line x1="96.5" y1="686.2" x2="96.5" y2="689.47" stroke="#14148c" stroke-width="1" stroke-opacity="0.7"/>
<line x1="95.5" y1="686.2" x2="95.5" y2="689.32" stroke="#8a85d2" stroke-width="1" stroke-opacity="0.7"/>
<line x1="95.5" y1="686.2" x2="95.5" y2="687.76" stroke="#14148c" stroke-width="1" stroke-opacity="0.7"/>
<line x1="92.5" y1="686.2" x2="92.5" y2="698.47" stroke="#8a85d2" stroke-width="1" stroke-opacity="0.7"/>
<line x1="92.5" y1="686.2" x2="92.5" y2="692.34" stroke="#14148c" stroke-width="1" stroke-opacity="0.7"/>
<line x1="103.5" y1="686.2" x2="103.5" y2="694.72" stroke="#8a85d2" stroke-width="1" stroke-opacity="0.7"/>
<line x1="103.5" y1="686.2" x2="103.5" y2="690.46" stroke="#14148c" stroke-width="1" stroke-opacity="0.7"/>
<line x1="94.5" y1="686.2" x2="94.5" y2="689.79" stroke="#8a85d2" stroke-width="1" stroke-opacity="0.7"/>
<line x1="94.5" y1="686.2" x2="94.5" y2="687.99" stroke="#14148c" stroke-width="1" stroke-opacity="0.7"/>
<line x1="94.5" y1="686.2" x2="94.5" y2="691.8" stroke="#8a85d2" stroke-width="1" stroke-opacity="0.7"/>
<line x1="94.5" y1="686.2" x2="94.5" y2="689" stroke="#14148c" stroke-width="1" stroke-opacity="0.7"/>
<line x1="93.5" y1="686.2" x2="93.5" y2="691.3" stroke="#8a85d2" stroke-width="1" stroke-opacity="0.7"/>
<line x1="93.5" y1="686.2" x2="93.5" y2="688.75" stroke="#14148c" stroke-width="1" stroke-opacity="0.7"/>
<line x1="95.5" y1="686.2" x2="95.5" y2="690.31" stroke="#8a85d2" stroke-width="1" stroke-opacity="0.7"/>
<line x1="95.5" y1="686.2" x2="95.5" y2="688.26" stroke="#14148c" stroke-width="1" stroke-opacity="0.7"/>
<line x1="101.5" y1="686.2" x2="101.5" y2="693.49" stroke="#8a85d2" stroke-width="1" stroke-opacity="0.7"/>
<line x1="101.5" y1="686.2" x2="101.5" y2="689.85" stroke="#14148c" stroke-width="1" stroke-opacity="0.7"/>
<line x1="99.5" y1="686.2" x2="99.5" y2="692.3" stroke="#8a85d2" stroke-width="1" stroke-opacity="0.7"/>
<line x1="99.5" y1="686.2" x2="99.5" y2="689.25" stroke="#14148c" stroke-width="1" stroke-opacity="0.7"/>
<line x1="100.5" y1="686.2" x2="100.5" y2="697.42" stroke="#8a85d2" stroke-width="1" stroke-opacity="0.7"/>
<line x1="100.5" y1="686.2" x2="100.5" y2="691.81" stroke="#14148c" stroke-width="1" stroke-opacity="0.7"/>
<line x1="96.5" y1="686.2" x2="96.5" y2="688.84" stroke="#8a85d2" stroke-width="1" stroke-opacity="0.7"/>
<line x1="96.5" y1="686.2" x2="96.5" y2="687.52" stroke="#14148c" stroke-width="1" stroke-opacity="0.7"/>
<line x1="99.5" y1="686.2" x2="99.5" y2="692.55" stroke="#8a85d2" stroke-width="1" stroke-opacity="0.7"/>
<line x1="99.5" y1="686.2" x2="99.5" y2="689.38" stroke="#14148c" stroke-width="1" stroke-opacity="0.7"/>
<line x1="103.5" y1="686.2" x2="103.5" y2="689.33" stroke="#8a85d2" stroke-width="1" stroke-opacity="0.7"/>
<line x1="103.5" y1="686.2" x2="103.5" y2="687.77" stroke="#14148c" stroke-width="1" stroke-opacity="0.7"/>
<line x1="105.5" y1="686.2" x2="105.5" y2="688.18" stroke="#8a85d2" stroke-width="1" stroke-opacity="0.7"/>
<line x1="105.5" y1="686.2" x2="105.5" y2="687.19" stroke="#14148c" stroke-width="1" stroke-opacity="0.7"/>
<line x1="100.5" y1="686.2" x2="100.5" y2="693.32" stroke="#8a85d2" stroke-width="1" stroke-opacity="0.7"/>
<line x1="100.5" y1="686.2" x2="100.5" y2="689.76" stroke="#14148c" stroke-width="1" stroke-opacity="0.7"/>
<line x1="97.5" y1="686.2" x2="97.5" y2="698.67" stroke="#8a85d2" stroke-width="1" stroke-opacity="0.7"/>
<line x1="97.5" y1="686.2" x2="97.5" y2="692.43" stroke="#14148c" stroke-width="1" stroke-opacity="0.7"/>
<line x1="102.5" y1="686.2" x2="102.5" y2="689.96" stroke="#8a85d2" stroke-width="1" stroke-opacity="0.7"/>
<line x1="102.5" y1="686.2" x2="102.5" y2="688.08" stroke="#14148c" stroke-width="1" stroke-opacity="0.7"/>
<line x1="99.5" y1="686.2" x2="99.5" y2="695.35" stroke="#8a85d2" stroke-width="1" stroke-opacity="0.7"/>
<line x1="99.5" y1="686.2" x2="99.5" y2="690.77" stroke="#14148c" stroke-width="1" stroke-opacity="0.7"/>
<line x1="92.5" y1="686.2" x2="92.5" y2="689.05" stroke="#8a85d2" stroke-width="1" stroke-opacity="0.7"/>
<line x1="92.5" y1="686.2" x2="92.5" y2="687.62" stroke="#14148c" stroke-width="1" stroke-opacity="0.7"/>
<line x1="101.5" y1="686.2" x2="101.5" y2="696.75" stroke="#8a85d2" stroke-width="1" stroke-opacity="0.7"/>
<line x1="101.5" y1="686.2" x2="101.5" y2="691.48" stroke="#14148c" stroke-width="1" stroke-opacity="0.7"/>
<line x1="99.5" y1="686.2" x2="99.5" y2="693.06" stroke="#8a85d2" stroke-width="1" stroke-opacity="0.7"/>
<line x1="99.5" y1="686.2" x2="99.5" y2="689.63" stroke="#14148c" stroke-width="1" stroke-opacity="0.7"/>
<line x1="99.5" y1="686.2" x2="99.5" y2="691.13" stroke="#8a85d2" stroke-width="1" stroke-opacity="0.7"/>
<line x1="99.5" y1="686.2" x2="99.5" y2="688.66" stroke="#14148c" stroke-width="1" stroke-opacity="0.7"/>
<line x1="105.5" y1="686.2" x2="105.5" y2="699.54" stroke="#8a85d2" stroke-width="1" stroke-opacity="0.7"/>
<line x1="105.5" y1="686.2" x2="105.5" y2="692.87" stroke="#14148c" stroke-width="1" stroke-opacity="0.7"/>
<line x1="99.5" y1="686.2" x2="99.5" y2="688.25" stroke="#8a85d2" stroke-width="1" stroke-opacity="0.7"/>
<line x1="99.5" y1="686.2" x2="99.5" y2="687.22" stroke="#14148c" stroke-width="1" stroke-opacity="0.7"/>
<line x1="98.5" y1="686.2" x2="98.5" y2="697.64" stroke="#8a85d2" stroke-width="1" stroke-opacity="0.7"/>
<line x1="98.5" y1="686.2" x2="98.5" y2="691.92" stroke="#14148c" stroke-width="1" stroke-opacity="0.7"/>
<line x1="97.5" y1="686.2" x2="97.5" y2="689.27" stroke="#8a85d2" stroke-width="1" stroke-opacity="0.7"/>
<line x1="97.5" y1="686.2" x2="97.5" y2="687.73" stroke="#14148c" stroke-width="1" stroke-opacity="0.7"/>
<line x1="95.5" y1="686.2" x2="95.5" y2="696.54" stroke="#8a85d2" stroke-width="1" stroke-opacity="0.7"/>
<line x1="95.5" y1="686.2" x2="95.5" y2="691.37" stroke="#14148c" stroke-width="1" stroke-opacity="0.7"/>
<line x1="101.5" y1="686.2" x2="101.5" y2="691.43" stroke="#8a85d2" stroke-width="1" stroke-opacity="0.7"/>
<line x1="101.5" y1="686.2" x2="101.5" y2="688.82" stroke="#14148c" stroke-width="1" stroke-opacity="0.7"/>
<line x1="101.5" y1="686.2" x2="101.5" y2="697.13" stroke="#8a85d2" stroke-width="1" stroke-opacity="0.7"/>
<line x1="101.5" y1="686.2" x2="101.5" y2="691.66" stroke="#14148c" stroke-width="1" stroke-opacity="0.7"/>
<line x1="106.5" y1="686.2" x2="106.5" y2="697.98" stroke="#8a85d2" stroke-width="1" stroke-opacity="0.7"/>
<line x1="106.5" y1="686.2" x2="106.5" y2="692.09" stroke="#14148c" stroke-width="1" stroke-opacity="0.7"/>
<line x1="98.5" y1="686.2" x2="98.5" y2="697.71" stroke="#8a85d2" stroke-width="1" stroke-opacity="0.7"/>
<line x1="98.5" y1="686.2" x2="98.5" y2="691.96" stroke="#14148c" stroke-width="1" stroke-opacity="0.7"/>
<line x1="105.5" y1="686.2" x2="105.5" y2="698.43" stroke="#8a85d2" stroke-width="1" stroke-opacity="0.7"/>
<line x1="105.5" y1="686.2" x2="105.5" y2="692.31" stroke="#14148c" stroke-width="1" stroke-opacity="0.7"/>
<line x1="103.5" y1="686.2" x2="103.5" y2="695.04" stroke="#8a85d2" stroke-width="1" stroke-opacity="0.7"/>
<line x1="103.5" y1="686.2" x2="103.5" y2="690.62" stroke="#14148c" stroke-width="1" stroke-opacity="0.7"/>
<line x1="99.5" y1="686.2" x2="99.5" y2="698.2" stroke="#8a85d2" stroke-width="1" stroke-opacity="0.7"/>
<line x1="99.5" y1="686.2" x2="99.5" y2="692.2" stroke="#14148c" stroke-width="1" stroke-opacity="0.7"/>
<line x1="101.5" y1="686.2" x2="101.5" y2="696.65" stroke="#8a85d2" stroke-width="1" stroke-opacity="0.7"/>
<line x1="101.5" y1="686.2" x2="101.5" y2="691.43" stroke="#14148c" stroke-width="1" stroke-opacity="0.7"/>
<line x1="95.5" y1="686.2" x2="95.5" y2="689.11" stroke="#8a85d2" stroke-width="1" stroke-opacity="0.7"/>
<line x1="95.5" y1="686.2" x2="95.5" y2="687.65" stroke="#14148c" stroke-width="1" stroke-opacity="0.7"/>
<line x1="96.5" y1="686.2" x2="96.5" y2="695" stroke="#8a85d2" stroke-width="1" stroke-opacity="0.7"/>
<line x1="96.5" y1="686.2" x2="96.5" y2="690.6" stroke="#14148c" stroke-width="1" stroke-opacity="0.7"/>
<line x1="100.5" y1="686.2" x2="100.5" y2="690.38" stroke="#8a85d2" stroke-width="1" stroke-opacity="0.7"/>
<line x1="100.5" y1="686.2" x2="100.5" y2="688.29" stroke="#14148c" stroke-width="1" stroke-opacity="0.7"/>
<line x1="95.5" y1="686.2" x2="95.5" y2="699.4" stroke="#8a85d2" stroke-width="1" stroke-opacity="0.7"/>
<line x1="95.5" y1="686.2" x2="95.5" y2="692.8" stroke="#14148c" stroke-width="1" stroke-opacity="0.7"/>
<line x1="93.5" y1="686.2" x2="93.5" y2="699.12" stroke="#8a85d2" stroke-width="1" stroke-opacity="0.7"/>
<line x1="93.5" y1="686.2" x2="93.5" y2="692.66" stroke="#14148c" stroke-width="1" stroke-opacity="0.7"/>
<line x1="103.5" y1="686.2" x2="103.5" y2="694.88" stroke="#8a85d2" stroke-width="1" stroke-opacity="0.7"/>
<line x1="103.5" y1="686.2" x2="103.5" y2="690.54" stroke="#14148c" stroke-width="1" stroke-opacity="0.7"/>
<line x1="106.5" y1="686.2" x2="106.5" y2="696.16" stroke="#8a85d2" stroke-width="1" stroke-opacity="0.7"/>
<line x1="106.5" y1="686.2" x2="106.5" y2="691.18" stroke="#14148c" stroke-width="1" stroke-opacity="0.7"/>
<line x1="92.5" y1="686.2" x2="92.5" y2="699.27" stroke="#8a85d2" stroke-width="1" stroke-opacity="0.7"/>
<line x1="92.5" y1="686.2" x2="92.5" y2="692.73" stroke="#14148c" stroke-width="1" stroke-opacity="0.7"/>
<line x1="98.5" y1="686.2" x2="98.5" y2="699" stroke="#8a85d2" stroke-width="1" stroke-opacity="0.7"/>
<line x1="98.5" y1="686.2" x2="98.5" y2="692.6" stroke="#14148c" stroke-width="1" stroke-opacity="0.7"/>
<line x1="104.5" y1="686.2" x2="104.5" y2="689.66" stroke="#8a85d2" stroke-width="1" stroke-opacity="0.7"/>
<line x1="104.5" y1="686.2" x2="104.5" y2="687.93" stroke="#14148c" stroke-width="1" stroke-opacity="0.7"/>
<line x1="93.5" y1="686.2" x2="93.5" y2="688.25" stroke="#8a85d2" stroke-width="1" stroke-opacity="0.7"/>
<line x1="93.5" y1="686.2" x2="93.5" y2="687.22" stroke="#14148c" stroke-width="1" stroke-opacity="0.7"/>
<line x1="103.5" y1="686.2" x2="103.5" y2="697.5" stroke="#8a85d2" stroke-width="1" stroke-opacity="0.7"/>
<line x1="103.5" y1="686.2" x2="103.5" y2="691.85" stroke="#14148c" stroke-width="1" stroke-opacity="0.7"/>
<line x1="95.5" y1="686.2" x2="95.5" y2="689.35" stroke="#8a85d2" stroke-width="1" stroke-opacity="0.7"/>
<line x1="95.5" y1="686.2" x2="95.5" y2="687.78" stroke="#14148c" stroke-width="1" stroke-opacity="0.7"/>
<line x1="97.5" y1="686.2" x2="97.5" y2="697.59" stroke="#8a85d2" stroke-width="1" stroke-opacity="0.7"/>
<line x1="97.5" y1="686.2" x2="97.5" y2="691.9" stroke="#14148c" stroke-width="1" stroke-opacity="0.7"/>
<line x1="103.5" y1="686.2" x2="103.5" y2="698.4" stroke="#8a85d2" stroke-width="1" stroke-opacity="0.7"/>
<line x1="103.5" y1="686.2" x2="103.5" y2="692.3" stroke="#14148c" stroke-width="1" stroke-opacity="0.7"/>
<line x1="106.5" y1="686.2" x2="106.5" y2="697.06" stroke="#8a85d2" stroke-width="1" stroke-opacity="0.7"/>
<line x1="106.5" y1="686.2" x2="106.5" y2="691.63" stroke="#14148c" stroke-width="1" stroke-opacity="0.7"/>
<line x1="104.5" y1="686.2" x2="104.5" y2="688.2" stroke="#8a85d2" stroke-width="1" stroke-opacity="0.7"/>
<line x1="104.5" y1="686.2" x2="104.5" y2="687.2" stroke="#14148c" stroke-width="1" stroke-opacity="0.7"/>
<line x1="92.5" y1="686.2" x2="92.5" y2="698.35" stroke="#8a85d2" stroke-width="1" stroke-opacity="0.7"/>
<line x1="92.5" y1="686.2" x2="92.5" y2="692.27" stroke="#14148c" stroke-width="1" stroke-opacity="0.7"/>
<line x1="101.5" y1="686.2" x2="101.5" y2="691.92" stroke="#8a85d2" stroke-width="1" stroke-opacity="0.7"/>
<line x1="101.5" y1="686.2" x2="101.5" y2="689.06" stroke="#14148c" stroke-width="1" stroke-opacity="0.7"/>
<polyline points="64.5,686.22 66.02,686.25 67.54,686.41 69.05,686.44 70.57,686.43 72.09,686.12 73.61,686.47 75.12,686.15 76.64,686.08 78.16,685.96 79.68,686.21 81.2,685.99 82.71,686.06 84.23,686.27 85.75,686.37 87.27,686.35 88.79,685.95 90.3,685.94 91.82,686.05 93.34,686.23 94.86,686.4 96.38,686.38 97.89,686.46 99.41,686.25 100.93,686.28 102.45,686.08 103.96,686.09 105.48,686.02 107,686.2" fill="none" stroke="#14148c" stroke-width="1.2" stroke-linejoin="round"/>
<polyline points="107,686.35 108,687.75 109,688.95 110,690.27 111,690.89 112,692.77 113,692.71 114,693.23 115,693.57 116,694.09 117,693.77 118.08,694.27 119.17,695.02 120.25,695.29 121.33,695.85 122.42,695.86 123.5,696.86 124.58,696.44 125.67,697.69 126.75,697.87 127.83,698.06 128.92,699.24 130,699.15 131,700.31 132,701.38 133,702.2 134,703.18 135,704.07 136.6,708.15 138,706.58 139,706.26 140,705.78 141,706.93 142,706.89 143,707.48 144,707.95 145,707.8 146,708.26 147,708.82 148,709.5" fill="none" stroke="#14148c" stroke-width="0.95" stroke-linejoin="round"/>
<line x1="58.5" y1="683" x2="463.5" y2="683" stroke="#6a6a6a" stroke-width="1"/>
<line x1="58.5" y1="798.5" x2="463.5" y2="798.5" stroke="#6a6a6a" stroke-width="1"/>
<line x1="58.5" y1="682.5" x2="58.5" y2="799" stroke="#2b2ba0" stroke-width="1"/>
<line x1="463.5" y1="682.5" x2="463.5" y2="799" stroke="#f08a3c" stroke-width="1"/>
<line x1="66" y1="798.5" x2="66" y2="794.5" stroke="#6a6a6a" stroke-width="1"/>
<line x1="66" y1="683" x2="66" y2="687" stroke="#6a6a6a" stroke-width="1"/>
<text x="66" y="811" font-size="9" fill="#2b2b2b" stroke="#2b2b2b" stroke-width="0.3" text-anchor="middle">0</text>
<line x1="102.12" y1="798.5" x2="102.12" y2="794.5" stroke="#6a6a6a" stroke-width="1"/>
<line x1="102.12" y1="683" x2="102.12" y2="687" stroke="#6a6a6a" stroke-width="1"/>
<text x="102.12" y="811" font-size="9" fill="#2b2b2b" stroke="#2b2b2b" stroke-width="0.3" text-anchor="middle">500</text>
<line x1="138.23" y1="798.5" x2="138.23" y2="794.5" stroke="#6a6a6a" stroke-width="1"/>
<line x1="138.23" y1="683" x2="138.23" y2="687" stroke="#6a6a6a" stroke-width="1"/>
<text x="138.23" y="811" font-size="9" fill="#2b2b2b" stroke="#2b2b2b" stroke-width="0.3" text-anchor="middle">1000</text>
<line x1="174.34" y1="798.5" x2="174.34" y2="794.5" stroke="#6a6a6a" stroke-width="1"/>
<line x1="174.34" y1="683" x2="174.34" y2="687" stroke="#6a6a6a" stroke-width="1"/>
<text x="174.34" y="811" font-size="9" fill="#2b2b2b" stroke="#2b2b2b" stroke-width="0.3" text-anchor="middle">1500</text>
<line x1="210.46" y1="798.5" x2="210.46" y2="794.5" stroke="#6a6a6a" stroke-width="1"/>
<line x1="210.46" y1="683" x2="210.46" y2="687" stroke="#6a6a6a" stroke-width="1"/>
<text x="210.46" y="811" font-size="9" fill="#2b2b2b" stroke="#2b2b2b" stroke-width="0.3" text-anchor="middle">2000</text>
<line x1="246.58" y1="798.5" x2="246.58" y2="794.5" stroke="#6a6a6a" stroke-width="1"/>
<line x1="246.58" y1="683" x2="246.58" y2="687" stroke="#6a6a6a" stroke-width="1"/>
<text x="246.58" y="811" font-size="9" fill="#2b2b2b" stroke="#2b2b2b" stroke-width="0.3" text-anchor="middle">2500</text>
<line x1="282.69" y1="798.5" x2="282.69" y2="794.5" stroke="#6a6a6a" stroke-width="1"/>
<line x1="282.69" y1="683" x2="282.69" y2="687" stroke="#6a6a6a" stroke-width="1"/>
<text x="282.69" y="811" font-size="9" fill="#2b2b2b" stroke="#2b2b2b" stroke-width="0.3" text-anchor="middle">3000</text>
<line x1="318.81" y1="798.5" x2="318.81" y2="794.5" stroke="#6a6a6a" stroke-width="1"/>
<line x1="318.81" y1="683" x2="318.81" y2="687" stroke="#6a6a6a" stroke-width="1"/>
<text x="318.81" y="811" font-size="9" fill="#2b2b2b" stroke="#2b2b2b" stroke-width="0.3" text-anchor="middle">3500</text>
<line x1="354.92" y1="798.5" x2="354.92" y2="794.5" stroke="#6a6a6a" stroke-width="1"/>
<line x1="354.92" y1="683" x2="354.92" y2="687" stroke="#6a6a6a" stroke-width="1"/>
<text x="354.92" y="811" font-size="9" fill="#2b2b2b" stroke="#2b2b2b" stroke-width="0.3" text-anchor="middle">4000</text>
<line x1="391.04" y1="798.5" x2="391.04" y2="794.5" stroke="#6a6a6a" stroke-width="1"/>
<line x1="391.04" y1="683" x2="391.04" y2="687" stroke="#6a6a6a" stroke-width="1"/>
<text x="391.04" y="811" font-size="9" fill="#2b2b2b" stroke="#2b2b2b" stroke-width="0.3" text-anchor="middle">4500</text>
<line x1="427.15" y1="798.5" x2="427.15" y2="794.5" stroke="#6a6a6a" stroke-width="1"/>
<line x1="427.15" y1="683" x2="427.15" y2="687" stroke="#6a6a6a" stroke-width="1"/>
<text x="427.15" y="811" font-size="9" fill="#2b2b2b" stroke="#2b2b2b" stroke-width="0.3" text-anchor="middle">5000</text>
<line x1="463.26" y1="798.5" x2="463.26" y2="794.5" stroke="#6a6a6a" stroke-width="1"/>
<line x1="463.26" y1="683" x2="463.26" y2="687" stroke="#6a6a6a" stroke-width="1"/>
<text x="463.26" y="811" font-size="9" fill="#2b2b2b" stroke="#2b2b2b" stroke-width="0.3" text-anchor="middle">5500</text>
<line x1="58.5" y1="683" x2="62.5" y2="683" stroke="#2b2ba0" stroke-width="1"/>
<text x="55.5" y="686.3" font-size="9" fill="#2b2ba0" stroke="#2b2ba0" stroke-width="0.3" text-anchor="end">4.2</text>
<line x1="58.5" y1="712" x2="62.5" y2="712" stroke="#2b2ba0" stroke-width="1"/>
<text x="55.5" y="715.3" font-size="9" fill="#2b2ba0" stroke="#2b2ba0" stroke-width="0.3" text-anchor="end">3.9</text>
<line x1="58.5" y1="740.6" x2="62.5" y2="740.6" stroke="#2b2ba0" stroke-width="1"/>
<text x="55.5" y="743.9" font-size="9" fill="#2b2ba0" stroke="#2b2ba0" stroke-width="0.3" text-anchor="end">3.6</text>
<line x1="58.5" y1="769.6" x2="62.5" y2="769.6" stroke="#2b2ba0" stroke-width="1"/>
<text x="55.5" y="772.9" font-size="9" fill="#2b2ba0" stroke="#2b2ba0" stroke-width="0.3" text-anchor="end">3.3</text>
<line x1="58.5" y1="798.5" x2="62.5" y2="798.5" stroke="#2b2ba0" stroke-width="1"/>
<text x="55.5" y="801.8" font-size="9" fill="#2b2ba0" stroke="#2b2ba0" stroke-width="0.3" text-anchor="end">3.0</text>
<line x1="459.5" y1="683.5" x2="463.5" y2="683.5" stroke="#f08a3c" stroke-width="1"/>
<text x="466.5" y="686.8" font-size="9" fill="#f08a3c" stroke="#f08a3c" stroke-width="0.3" text-anchor="start">10</text>
<line x1="459.5" y1="716.3" x2="463.5" y2="716.3" stroke="#f08a3c" stroke-width="1"/>
<text x="466.5" y="719.6" font-size="9" fill="#f08a3c" stroke="#f08a3c" stroke-width="0.3" text-anchor="start">0</text>
<line x1="459.5" y1="749" x2="463.5" y2="749" stroke="#f08a3c" stroke-width="1"/>
<text x="466.5" y="752.3" font-size="9" fill="#f08a3c" stroke="#f08a3c" stroke-width="0.3" text-anchor="start">-10</text>
<line x1="459.5" y1="782" x2="463.5" y2="782" stroke="#f08a3c" stroke-width="1"/>
<text x="466.5" y="785.3" font-size="9" fill="#f08a3c" stroke="#f08a3c" stroke-width="0.3" text-anchor="start">-20</text>
<line x1="503.5" y1="683" x2="503.5" y2="799" stroke="#23995a" stroke-width="1"/>
<line x1="499.5" y1="683.3" x2="503.5" y2="683.3" stroke="#23995a" stroke-width="1"/>
<text x="506.5" y="686.6" font-size="9" fill="#23995a" stroke="#23995a" stroke-width="0.3" text-anchor="start">-350</text>
<line x1="499.5" y1="704.4" x2="503.5" y2="704.4" stroke="#23995a" stroke-width="1"/>
<text x="506.5" y="707.7" font-size="9" fill="#23995a" stroke="#23995a" stroke-width="0.3" text-anchor="start">-400</text>
<line x1="499.5" y1="725" x2="503.5" y2="725" stroke="#23995a" stroke-width="1"/>
<text x="506.5" y="728.3" font-size="9" fill="#23995a" stroke="#23995a" stroke-width="0.3" text-anchor="start">-450</text>
<line x1="499.5" y1="745.8" x2="503.5" y2="745.8" stroke="#23995a" stroke-width="1"/>
<text x="506.5" y="749.1" font-size="9" fill="#23995a" stroke="#23995a" stroke-width="0.3" text-anchor="start">-500</text>
<line x1="499.5" y1="767.4" x2="503.5" y2="767.4" stroke="#23995a" stroke-width="1"/>
<text x="506.5" y="770.7" font-size="9" fill="#23995a" stroke="#23995a" stroke-width="0.3" text-anchor="start">-550</text>
<line x1="499.5" y1="788.1" x2="503.5" y2="788.1" stroke="#23995a" stroke-width="1"/>
<text x="506.5" y="791.4" font-size="9" fill="#23995a" stroke="#23995a" stroke-width="0.3" text-anchor="start">-600</text>
<text x="33.5" y="740.5" font-size="11.5" fill="#2b2ba0" stroke="#2b2ba0" stroke-width="0.3" text-anchor="middle" transform="rotate(-90 33.5 740.5)"><tspan font-style="italic">U</tspan> / V</text>
<text x="492.5" y="741" font-size="11" fill="#f08a3c" stroke="#f08a3c" stroke-width="0.3" text-anchor="middle" transform="rotate(-90 492.5 741)">Δ<tspan font-style="italic">F</tspan> / N</text>
<text x="537" y="742.6" font-size="11" fill="#23995a" stroke="#23995a" stroke-width="0.3" text-anchor="middle" transform="rotate(-90 537 742.6)"><tspan font-style="italic">X</tspan> / <tspan font-style="italic">μ</tspan>m</text>
<rect x="303.5" y="692.5" width="124" height="34" fill="#fff" stroke="#444" stroke-width="1"/>
<line x1="305.8" y1="702.5" x2="316.4" y2="702.5" stroke="#8f86d6" stroke-width="1.3"/>
<text x="318.5" y="705.3" font-size="9.2" fill="#2b2b2b" stroke="#2b2b2b" stroke-width="0.3" text-anchor="start"><tspan font-style="italic">U</tspan></text>
<line x1="305.8" y1="717.5" x2="316.4" y2="717.5" stroke="#5ab4e4" stroke-width="1.3"/>
<text x="318.5" y="720.5" font-size="9.2" fill="#2b2b2b" stroke="#2b2b2b" stroke-width="0.3" text-anchor="start"><tspan font-style="italic">U</tspan><tspan font-size="7.3" dy="3.5">OCV</tspan></text>
<line x1="342.8" y1="702.5" x2="353.3" y2="702.5" stroke="#8fd4b8" stroke-width="1.3"/>
<text x="355.4" y="705.3" font-size="9.2" fill="#2b2b2b" stroke="#2b2b2b" stroke-width="0.3" text-anchor="start"><tspan font-style="italic">X</tspan><tspan font-size="7.3" dy="3.5">Setup</tspan></text>
<line x1="342.8" y1="717.5" x2="353.3" y2="717.5" stroke="#2ea777" stroke-width="1.3"/>
<text x="355.4" y="720.5" font-size="9.2" fill="#2b2b2b" stroke="#2b2b2b" stroke-width="0.3" text-anchor="start"><tspan font-style="italic">X</tspan><tspan font-size="7.3" dy="3.5">Measured</tspan></text>
<line x1="398" y1="702.5" x2="408" y2="702.5" stroke="#f4843a" stroke-width="1.3"/>
<text x="410" y="705.3" font-size="9.2" fill="#2b2b2b" stroke="#2b2b2b" stroke-width="0.3" text-anchor="start">Δ<tspan font-style="italic">F</tspan></text>
<line x1="67.5" y1="934" x2="67.5" y2="900" stroke="#b4b4b4" stroke-width="1"/>
<line x1="70.5" y1="934" x2="70.5" y2="871" stroke="#b4b4b4" stroke-width="1"/>
<line x1="77.5" y1="934" x2="77.5" y2="876" stroke="#b4b4b4" stroke-width="1"/>
<line x1="82.5" y1="934" x2="82.5" y2="857" stroke="#b4b4b4" stroke-width="1"/>
<line x1="84.5" y1="934" x2="84.5" y2="886" stroke="#b4b4b4" stroke-width="1"/>
<line x1="89.5" y1="934" x2="89.5" y2="831.7" stroke="#b4b4b4" stroke-width="1"/>
<line x1="92.5" y1="934" x2="92.5" y2="849.6" stroke="#b4b4b4" stroke-width="1"/>
<line x1="93.5" y1="934" x2="93.5" y2="874" stroke="#b4b4b4" stroke-width="1"/>
<line x1="96.5" y1="934" x2="96.5" y2="841" stroke="#b4b4b4" stroke-width="1"/>
<line x1="97.5" y1="934" x2="97.5" y2="845.7" stroke="#b4b4b4" stroke-width="1"/>
<line x1="102.5" y1="934" x2="102.5" y2="860.8" stroke="#b4b4b4" stroke-width="1"/>
<line x1="103.5" y1="934" x2="103.5" y2="866.4" stroke="#b4b4b4" stroke-width="1"/>
<line x1="106.5" y1="934" x2="106.5" y2="858" stroke="#b4b4b4" stroke-width="1"/>
<line x1="106.5" y1="934" x2="106.5" y2="874" stroke="#b4b4b4" stroke-width="1"/>
<line x1="109.5" y1="934" x2="109.5" y2="878.8" stroke="#b4b4b4" stroke-width="1"/>
<line x1="94.5" y1="934" x2="94.5" y2="891.54" stroke="#6a6a6a" stroke-width="1" stroke-opacity="0.5"/>
<line x1="93.5" y1="934" x2="93.5" y2="925.69" stroke="#6a6a6a" stroke-width="1" stroke-opacity="0.5"/>
<line x1="96.5" y1="934" x2="96.5" y2="914.51" stroke="#6a6a6a" stroke-width="1" stroke-opacity="0.5"/>
<line x1="96.5" y1="934" x2="96.5" y2="899.18" stroke="#6a6a6a" stroke-width="1" stroke-opacity="0.5"/>
<line x1="97.5" y1="934" x2="97.5" y2="908.82" stroke="#6a6a6a" stroke-width="1" stroke-opacity="0.5"/>
<line x1="97.5" y1="934" x2="97.5" y2="913.08" stroke="#6a6a6a" stroke-width="1" stroke-opacity="0.5"/>
<line x1="98.5" y1="934" x2="98.5" y2="901.97" stroke="#6a6a6a" stroke-width="1" stroke-opacity="0.5"/>
<line x1="93.5" y1="934" x2="93.5" y2="887.49" stroke="#6a6a6a" stroke-width="1" stroke-opacity="0.5"/>
<line x1="97.5" y1="934" x2="97.5" y2="888.38" stroke="#6a6a6a" stroke-width="1" stroke-opacity="0.5"/>
<line x1="96.5" y1="934" x2="96.5" y2="911.04" stroke="#6a6a6a" stroke-width="1" stroke-opacity="0.5"/>
<line x1="92.5" y1="934" x2="92.5" y2="919.22" stroke="#6a6a6a" stroke-width="1" stroke-opacity="0.5"/>
<line x1="92.5" y1="934" x2="92.5" y2="923.34" stroke="#6a6a6a" stroke-width="1" stroke-opacity="0.5"/>
<line x1="98.5" y1="934" x2="98.5" y2="890.79" stroke="#6a6a6a" stroke-width="1" stroke-opacity="0.5"/>
<line x1="97.5" y1="934" x2="97.5" y2="916.62" stroke="#6a6a6a" stroke-width="1" stroke-opacity="0.5"/>
<line x1="92.5" y1="934" x2="92.5" y2="913.5" stroke="#6a6a6a" stroke-width="1" stroke-opacity="0.5"/>
<line x1="92.5" y1="934" x2="92.5" y2="925.66" stroke="#6a6a6a" stroke-width="1" stroke-opacity="0.5"/>
<line x1="97.5" y1="934" x2="97.5" y2="929" stroke="#6a6a6a" stroke-width="1" stroke-opacity="0.5"/>
<line x1="92.5" y1="934" x2="92.5" y2="895.89" stroke="#6a6a6a" stroke-width="1" stroke-opacity="0.5"/>
<line x1="96.5" y1="934" x2="96.5" y2="910.41" stroke="#6a6a6a" stroke-width="1" stroke-opacity="0.5"/>
<line x1="93.5" y1="934" x2="93.5" y2="924.39" stroke="#6a6a6a" stroke-width="1" stroke-opacity="0.5"/>
<line x1="98.5" y1="934" x2="98.5" y2="895.07" stroke="#6a6a6a" stroke-width="1" stroke-opacity="0.5"/>
<line x1="93.5" y1="934" x2="93.5" y2="913.38" stroke="#6a6a6a" stroke-width="1" stroke-opacity="0.5"/>
<line x1="95.5" y1="934" x2="95.5" y2="913.17" stroke="#6a6a6a" stroke-width="1" stroke-opacity="0.5"/>
<line x1="95.5" y1="934" x2="95.5" y2="899.74" stroke="#6a6a6a" stroke-width="1" stroke-opacity="0.5"/>
<line x1="92.5" y1="934" x2="92.5" y2="886.75" stroke="#6a6a6a" stroke-width="1" stroke-opacity="0.5"/>
<line x1="95.5" y1="934" x2="95.5" y2="916.41" stroke="#6a6a6a" stroke-width="1" stroke-opacity="0.5"/>
<line x1="95.5" y1="934" x2="95.5" y2="917.22" stroke="#6a6a6a" stroke-width="1" stroke-opacity="0.5"/>
<line x1="96.5" y1="934" x2="96.5" y2="924.02" stroke="#6a6a6a" stroke-width="1" stroke-opacity="0.5"/>
<line x1="96.5" y1="934" x2="96.5" y2="896.09" stroke="#6a6a6a" stroke-width="1" stroke-opacity="0.5"/>
<line x1="93.5" y1="934" x2="93.5" y2="883.29" stroke="#6a6a6a" stroke-width="1" stroke-opacity="0.5"/>
<line x1="92.5" y1="934" x2="92.5" y2="923.12" stroke="#6a6a6a" stroke-width="1" stroke-opacity="0.5"/>
<line x1="98.5" y1="934" x2="98.5" y2="917.57" stroke="#6a6a6a" stroke-width="1" stroke-opacity="0.5"/>
<line x1="92.5" y1="934" x2="92.5" y2="913.03" stroke="#6a6a6a" stroke-width="1" stroke-opacity="0.5"/>
<line x1="92.5" y1="934" x2="92.5" y2="924.45" stroke="#6a6a6a" stroke-width="1" stroke-opacity="0.5"/>
<line x1="96.5" y1="934" x2="96.5" y2="917.48" stroke="#6a6a6a" stroke-width="1" stroke-opacity="0.5"/>
<line x1="96.5" y1="934" x2="96.5" y2="900.92" stroke="#6a6a6a" stroke-width="1" stroke-opacity="0.5"/>
<line x1="98.5" y1="934" x2="98.5" y2="928.08" stroke="#6a6a6a" stroke-width="1" stroke-opacity="0.5"/>
<line x1="93.5" y1="934" x2="93.5" y2="901.87" stroke="#6a6a6a" stroke-width="1" stroke-opacity="0.5"/>
<line x1="97.5" y1="934" x2="97.5" y2="914" stroke="#6a6a6a" stroke-width="1" stroke-opacity="0.5"/>
<line x1="95.5" y1="934" x2="95.5" y2="902.5" stroke="#6a6a6a" stroke-width="1" stroke-opacity="0.5"/>
<line x1="106.5" y1="934" x2="106.5" y2="893.8" stroke="#6a6a6a" stroke-width="1" stroke-opacity="0.5"/>
<line x1="101.5" y1="934" x2="101.5" y2="914.31" stroke="#6a6a6a" stroke-width="1" stroke-opacity="0.5"/>
<line x1="102.5" y1="934" x2="102.5" y2="924.87" stroke="#6a6a6a" stroke-width="1" stroke-opacity="0.5"/>
<line x1="102.5" y1="934" x2="102.5" y2="926.23" stroke="#6a6a6a" stroke-width="1" stroke-opacity="0.5"/>
<line x1="102.5" y1="934" x2="102.5" y2="924.26" stroke="#6a6a6a" stroke-width="1" stroke-opacity="0.5"/>
<line x1="105.5" y1="934" x2="105.5" y2="916.6" stroke="#6a6a6a" stroke-width="1" stroke-opacity="0.5"/>
<line x1="101.5" y1="934" x2="101.5" y2="888.21" stroke="#6a6a6a" stroke-width="1" stroke-opacity="0.5"/>
<line x1="100.5" y1="934" x2="100.5" y2="889.03" stroke="#6a6a6a" stroke-width="1" stroke-opacity="0.5"/>
<line x1="104.5" y1="934" x2="104.5" y2="883.22" stroke="#6a6a6a" stroke-width="1" stroke-opacity="0.5"/>
<line x1="102.5" y1="934" x2="102.5" y2="908.35" stroke="#6a6a6a" stroke-width="1" stroke-opacity="0.5"/>
<line x1="101.5" y1="934" x2="101.5" y2="896.45" stroke="#6a6a6a" stroke-width="1" stroke-opacity="0.5"/>
<line x1="102.5" y1="934" x2="102.5" y2="913.8" stroke="#6a6a6a" stroke-width="1" stroke-opacity="0.5"/>
<line x1="101.5" y1="934" x2="101.5" y2="929.88" stroke="#6a6a6a" stroke-width="1" stroke-opacity="0.5"/>
<line x1="104.5" y1="934" x2="104.5" y2="915.65" stroke="#6a6a6a" stroke-width="1" stroke-opacity="0.5"/>
<line x1="104.5" y1="934" x2="104.5" y2="904.89" stroke="#6a6a6a" stroke-width="1" stroke-opacity="0.5"/>
<line x1="106.5" y1="934" x2="106.5" y2="924.69" stroke="#6a6a6a" stroke-width="1" stroke-opacity="0.5"/>
<line x1="105.5" y1="934" x2="105.5" y2="881.49" stroke="#6a6a6a" stroke-width="1" stroke-opacity="0.5"/>
<line x1="104.5" y1="934" x2="104.5" y2="927.09" stroke="#6a6a6a" stroke-width="1" stroke-opacity="0.5"/>
<line x1="104.5" y1="934" x2="104.5" y2="905.65" stroke="#6a6a6a" stroke-width="1" stroke-opacity="0.5"/>
<line x1="104.5" y1="934" x2="104.5" y2="888.85" stroke="#6a6a6a" stroke-width="1" stroke-opacity="0.5"/>
<line x1="105.5" y1="934" x2="105.5" y2="919.19" stroke="#6a6a6a" stroke-width="1" stroke-opacity="0.5"/>
<line x1="101.5" y1="934" x2="101.5" y2="905.49" stroke="#6a6a6a" stroke-width="1" stroke-opacity="0.5"/>
<line x1="104.5" y1="934" x2="104.5" y2="897.6" stroke="#6a6a6a" stroke-width="1" stroke-opacity="0.5"/>
<line x1="104.5" y1="934" x2="104.5" y2="926.1" stroke="#6a6a6a" stroke-width="1" stroke-opacity="0.5"/>
<line x1="106.5" y1="934" x2="106.5" y2="895.39" stroke="#6a6a6a" stroke-width="1" stroke-opacity="0.5"/>
<line x1="101.5" y1="934" x2="101.5" y2="922.7" stroke="#6a6a6a" stroke-width="1" stroke-opacity="0.5"/>
<line x1="104.5" y1="934" x2="104.5" y2="921.48" stroke="#6a6a6a" stroke-width="1" stroke-opacity="0.5"/>
<line x1="105.5" y1="934" x2="105.5" y2="893.97" stroke="#6a6a6a" stroke-width="1" stroke-opacity="0.5"/>
<line x1="104.5" y1="934" x2="104.5" y2="895.16" stroke="#6a6a6a" stroke-width="1" stroke-opacity="0.5"/>
<line x1="105.5" y1="934" x2="105.5" y2="914.58" stroke="#6a6a6a" stroke-width="1" stroke-opacity="0.5"/>
<line x1="102.5" y1="934" x2="102.5" y2="905.01" stroke="#6a6a6a" stroke-width="1" stroke-opacity="0.5"/>
<line x1="104.5" y1="934" x2="104.5" y2="891.65" stroke="#6a6a6a" stroke-width="1" stroke-opacity="0.5"/>
<line x1="101.5" y1="934" x2="101.5" y2="903.71" stroke="#6a6a6a" stroke-width="1" stroke-opacity="0.5"/>
<line x1="101.5" y1="934" x2="101.5" y2="904.76" stroke="#6a6a6a" stroke-width="1" stroke-opacity="0.5"/>
<line x1="106.5" y1="934" x2="106.5" y2="921.3" stroke="#6a6a6a" stroke-width="1" stroke-opacity="0.5"/>
<line x1="100.5" y1="934" x2="100.5" y2="921.29" stroke="#6a6a6a" stroke-width="1" stroke-opacity="0.5"/>
<line x1="105.5" y1="934" x2="105.5" y2="915.41" stroke="#6a6a6a" stroke-width="1" stroke-opacity="0.5"/>
<line x1="100.5" y1="934" x2="100.5" y2="917.99" stroke="#6a6a6a" stroke-width="1" stroke-opacity="0.5"/>
<line x1="101.5" y1="934" x2="101.5" y2="920.15" stroke="#6a6a6a" stroke-width="1" stroke-opacity="0.5"/>
<line x1="102.5" y1="934" x2="102.5" y2="898.33" stroke="#6a6a6a" stroke-width="1" stroke-opacity="0.5"/>
<line x1="101.5" y1="934" x2="101.5" y2="923.38" stroke="#6a6a6a" stroke-width="1" stroke-opacity="0.5"/>
<line x1="101.5" y1="934" x2="101.5" y2="923.64" stroke="#6a6a6a" stroke-width="1" stroke-opacity="0.5"/>
<line x1="103.5" y1="934" x2="103.5" y2="887.42" stroke="#6a6a6a" stroke-width="1" stroke-opacity="0.5"/>
<line x1="104.5" y1="934" x2="104.5" y2="906.54" stroke="#6a6a6a" stroke-width="1" stroke-opacity="0.5"/>
<line x1="100.5" y1="934" x2="100.5" y2="921.18" stroke="#6a6a6a" stroke-width="1" stroke-opacity="0.5"/>
<line x1="68.67" y1="934" x2="68.67" y2="915.41" stroke="#909090" stroke-width="0.6" stroke-opacity="0.5"/>
<line x1="84.52" y1="934" x2="84.52" y2="927.36" stroke="#909090" stroke-width="0.6" stroke-opacity="0.5"/>
<line x1="72.34" y1="934" x2="72.34" y2="918.17" stroke="#909090" stroke-width="0.6" stroke-opacity="0.5"/>
<line x1="76.86" y1="934" x2="76.86" y2="924.97" stroke="#909090" stroke-width="0.6" stroke-opacity="0.5"/>
<line x1="82.06" y1="934" x2="82.06" y2="923.32" stroke="#909090" stroke-width="0.6" stroke-opacity="0.5"/>
<line x1="78.17" y1="934" x2="78.17" y2="927.25" stroke="#909090" stroke-width="0.6" stroke-opacity="0.5"/>
<line x1="66.07" y1="934" x2="66.07" y2="918.07" stroke="#909090" stroke-width="0.6" stroke-opacity="0.5"/>
<line x1="75.5" y1="934" x2="75.5" y2="927.82" stroke="#909090" stroke-width="0.6" stroke-opacity="0.5"/>
<line x1="85.69" y1="934" x2="85.69" y2="929.51" stroke="#909090" stroke-width="0.6" stroke-opacity="0.5"/>
<line x1="74.05" y1="934" x2="74.05" y2="927.13" stroke="#909090" stroke-width="0.6" stroke-opacity="0.5"/>
<line x1="63.4" y1="934" x2="63.4" y2="921.61" stroke="#909090" stroke-width="0.6" stroke-opacity="0.5"/>
<line x1="62.14" y1="934" x2="62.14" y2="929.2" stroke="#909090" stroke-width="0.6" stroke-opacity="0.5"/>
<line x1="91.99" y1="934" x2="91.99" y2="926.38" stroke="#909090" stroke-width="0.6" stroke-opacity="0.5"/>
<line x1="84.08" y1="934" x2="84.08" y2="921.33" stroke="#909090" stroke-width="0.6" stroke-opacity="0.5"/>
<line x1="85.44" y1="934" x2="85.44" y2="916.45" stroke="#909090" stroke-width="0.6" stroke-opacity="0.5"/>
<line x1="71.86" y1="934" x2="71.86" y2="920.96" stroke="#909090" stroke-width="0.6" stroke-opacity="0.5"/>
<line x1="87.65" y1="934" x2="87.65" y2="917.94" stroke="#909090" stroke-width="0.6" stroke-opacity="0.5"/>
<line x1="65.09" y1="934" x2="65.09" y2="916.52" stroke="#909090" stroke-width="0.6" stroke-opacity="0.5"/>
<line x1="86.97" y1="934" x2="86.97" y2="920.36" stroke="#909090" stroke-width="0.6" stroke-opacity="0.5"/>
<line x1="88.9" y1="934" x2="88.9" y2="920.32" stroke="#909090" stroke-width="0.6" stroke-opacity="0.5"/>
<polyline points="107,904.11 107.38,904.21 107.75,903.97 108.12,902.94 108.5,903.57 108.88,902.48 109.25,900 109.62,901.89 110,899.14 110.38,898.95 110.75,899.26 111.12,902.81 111.5,899.24 111.88,898.97 112.25,900.53 112.62,899.75 113,897.11 113.4,894.62 113.8,895.92 114.2,894.47 114.6,897.61 115,891.6 115.4,894.11 115.8,896.45 116.2,896.39 116.6,896.59 117,898.27 117.4,895.59 117.8,899.66 118.2,900.57 118.6,895.75 119,898 119.4,897.48 119.8,896.9 120.2,897.14 120.6,894.72 121,896.39 121.38,899.76 121.75,902.01 122.12,903.5 122.5,901.71 122.88,907.09 123.25,909.49 123.62,910.7 124,913.35 124.5,907.67 125,907.24 125.4,902.71 125.8,903.29 126.2,900.21 126.6,900.52 127,896.24 127.4,898.75 127.8,902.44 128.2,900.2 128.6,903.9 129,905.2 129.4,902.92 129.8,901.92 130.2,898.28 130.6,898.83 131,900.57 131.4,899.59 131.8,895.91 132.2,894.1 132.6,896.21 133,892.48 133.4,893.13 133.8,887.9 134.2,888.09 134.6,890.48 135,887.98 135.5,883.79 136,876.11 136.5,884.61 137,884.9 137.5,894.14 138,904.27 138.4,905.28 138.8,908 139.2,908.57 139.6,911.77 140,914.09 140.4,910.73 140.8,908.51 141.2,909.38 141.6,909.54 142,910" fill="none" stroke="#6e6e6e" stroke-width="0.8" stroke-linejoin="round"/>
<polyline points="142,910.1 143,908.2 144,906.91 145,905.41 146,905.33 147,904.84 148,904.55 149,903.55 150,903.35 151,902.61 152,902.28 153,902.02 154,901.23 155,900.89 156,901 157,900.73 158,900.3 159,900.36 160,900.32 161,899.55 162,899.91 163,899.64 164,899.09 165,898.66 166,902.87 167,906.09 168,906.77 169,907.64 170,909.02 171,909.71 172,910.71 173,911.29 174,911.78 175,912.71 176,912.91 177,913.66 178,914.48 179,914.96 180,915.75 181,915.55 182,915.64 183,915.18 184,915.31 185,915.35 186,915.09 187,915.07 188,914.86 189,914.86 190,914.99 191,914.69 192,914.57 193,914.34 194,914.26 195,914.61 196,914.21 197,913.99 198,913.49 199,913.69 200,913.1 201,913.06 202,913.29 203,912.85 204,912.6 205,912.5 206,912.41 207,912.17 208,911.6 209,911.27 210,911.27 211,911.08 212,910.88 213,911.23 214,911.02 215,910.47 216,910.55 217,910.21 218,910.41 219,909.93 220,909.64 221,909.46 222,909.52 223,909.15 224,909.22 225,909.28 226,908.79 227,908.52 228,908.93 229,908.45 230,908.01 231,907.84 232,907.75 233,907.97 234,907.94 235,907.55 236,907.2 237,907.34 238,907.68 239,907.26 240,907.48 241,907.31 242,906.63 243,907.03 244,906.92 245,906.73 246,906.49 247,906.7 248,906.28 249,906.45 250,906.42 251,906.72 252,906.61 253,906.13 254,906.25 255,905.98 256,906.43 257,906.34 258,905.88 259,906.06 260,905.98 261,905.6 262,905.96 263,905.75 264,905.86 265,905.62 266,905.16 267,905.3 268,904.99 269,905.54 270,905.42 271,905.29 272,904.84 273,904.57 274,905.05 275,905.01 276,904.59 277,905.05 278,904.94 279,905.6 280,905.79 281,906.47 282,907.85 283,909.03 284,909.94 285,911.46 286,912.25 287,913.2 288,914.01 289,914.72 290,914.93 291,915.59 292,916.65 293,916.77 294,916.98 295,917.4 296,917.48 297,917.92 298,918.36 299,918.9 300,919.01 301,919.3" fill="none" stroke="#858585" stroke-width="0.9" stroke-linejoin="round"/>
<polyline points="299,918.9 300,919.01 301,919.3 302,919.5 303,920.19 304,920.21 305,920.98 306,921.25 307,921 308,921.42 309,922.02 310,922 311,922.15 312,922.92 313,922.88 314,923.02 315,923.45 316,923.68 317,923.45 318,923.6 319,924.04 320,924.25 321,924.33 322,924.57 323,924.58 324,924.85 325,924.29 326,924.55 327,924.56 328,924.98 329,924.6 330,924.62 331,924.85 332,924.89 333,924.84 334,924.87 335,925.4 336,925.11 337,925.46 338,925.3 339,925 340,925.72 341,925.66 342,925.8 343,925.83 344,925.82 345,925.4 346,925.68 347,925.54 348,925.72 349,925.54 350,925.82 351,925.96 352,925.18 353,925.26 354,924.75 355,924.45 356,924.91 357,925.03 358,924.82 359,925.03 360,924.73 361,924.92 362,925.48 363,925.3 364,925.37 365,925.61 366,925.22 367,925.68 368,925.72 369,926.05 370,925.66 371,926.24 372,925.64 373,925.73 374,926.03 375,926.11 376,925.81 377,925.75 378,926.31 379,925.87 380,926.13 381,926.17 382,926.04 383,926.18 384,926.15 385,926.45 386,925.96 387,926.33 388,926.02 389,926.14 390,926.35 391,926.11 392,926.14 393,926.46 394,926 395,926.29 396,926.68 397,926.7 398,926.07 399,926.18 400,926.24 401,926.68 402,926.62 403,926.59 404,926.21 405,926.04 406,926.48 407,926.37 408,926.28 409,926.52 410,926.26 411,925.78 412,926.32 413,925.93 414,926.16 415,926.33 416,925.74 417,925.71 418,925.67 419,925.96 420,925.74 421,925.86 422,925.82 423,925.34 424,925.53 425,925.15 426,925.19 427,925.37 428,925.21 429,924.56 430,924.68 431,924.46 432,924.15 433,924.63 434,924.47 435,924.15 436,924.42 437,924.22 438,924.07 439,923.72 440,923.7 441,924.6 442,924.95 443,925.03 444,926.13 445,926.86 446,927.45 447,928.34 448,929.01 449,929.96 450,930.43 451,931.01 452,931.58 453,931.33 454,931.59 455,931.72 456,932.43 457,932.74 458,932.63 459,932.88 460,932.66 461,933.3 462,933.36 463,933.2" fill="none" stroke="#a3a3a3" stroke-width="0.9" stroke-linejoin="round"/>
<polyline points="59,933.41 60,933.5 61,933.33 62,933.44 63,933.33 64,933.3 65,933.41 66,933.35 67,933.42 68,933.6 69,933.31 70,933.55 71,933.35 72,933.62 73,933.59 74,933.38 75,933.64 76,933.59 77,933.33 78,933.46 79,933.58 80,933.67 81,933.37 82,933.4 83,933.61 84,933.69 85,933.34 86,933.34 87,933.6 88,933.43 89,933.45 90,933.65 91,933.6 92,933.56 93,933.65 94,933.59 95,933.62 96,933.56 97,933.54 98,933.32 99,933.66 100,933.66 101,933.44 102,933.55 103,933.31 104,933.5 105,933.55 106,933.42 107,933.47 108,932.99 109,932.08 110,931.56 111,930.77 112,930.25 113,930.24 114,929.93 115,929.48 116,929.61 117,929.32 118,929.05 119,928.75 120,928.55 121,928.29 122,928.26 123,927.82 124,927.43 125,926.34 126,927.55 127,928.53 128,927.34 129,926.21 130,927.13 131,927.93 132,928.11 133,927.89 134,927.76 135,927.73 136,927.58 137,927.36 138,927.51 139,928.09 140,928.24 141,928.14 142,928.54 143,928.81 144,929.06 145,928.93 146,928.96 147,929.08 148,929.17 149,928.98 150,929.23 151,929.27 152,929.16 153,929.33 154,929.16 155,929.34 156,929.18 157,929.19 158,929.2 159,929.34 160,929.42 161,929.11 162,929.32 163,929.43 164,929.39 165,929.22 166,929.28 167,929.5 168,929.24 169,929.55 170,929.33 171,929.4 172,929.48 173,929.48 174,929.44 175,929.56 176,929.47 177,929.59 178,929.48 179,929.46 180,929.25 181,929.6 182,929.33 183,929.33 184,929.27 185,929.5 186,929.4 187,929.52 188,929.59 189,929.64 190,929.59 191,929.61 192,929.43 193,929.3 194,929.59 195,929.69 196,929.48 197,929.66 198,929.53 199,929.46 200,929.64 201,929.34 202,929.46 203,929.6 204,929.36 205,929.55 206,929.49 207,929.43 208,929.5 209,929.64 210,929.62 211,929.59 212,929.67 213,929.52 214,929.6 215,929.41 216,929.64 217,929.64 218,929.63 219,929.7 220,929.78 221,929.68 222,929.79 223,929.66 224,929.52 225,929.75 226,929.68 227,929.67 228,929.48 229,929.65 230,929.56 231,929.66 232,929.8 233,929.59 234,929.45 235,929.5 236,929.67 237,929.79 238,929.48 239,929.63 240,929.6 241,929.65 242,929.73 243,929.68 244,929.59 245,929.83 246,929.81 247,929.85 248,929.55 249,929.72 250,929.6 251,929.55 252,929.88 253,929.78 254,929.7 255,929.83 256,929.87 257,929.72 258,929.58 259,929.9 260,929.75 261,929.72 262,929.63 263,929.76 264,929.91 265,929.94 266,929.63 267,929.62 268,929.97 269,929.79 270,929.84 271,929.87 272,929.76 273,929.75 274,929.95 275,929.85 276,929.62 277,929.63 278,929.95 279,929.86 280,929.92 281,929.83 282,929.92 283,929.77 284,929.79 285,929.78 286,929.76 287,930.03 288,930.01 289,929.88 290,929.68 291,930.04 292,929.99 293,929.93 294,930.06 295,929.98 296,929.93 297,929.83 298,929.94 299,929.87 300,929.77 301,929.77 302,929.75 303,929.99 304,929.87 305,930.12 306,930.09 307,929.84 308,929.77 309,930.07 310,930.08 311,929.89 312,930.05 313,930.13 314,929.94 315,929.94 316,930.01 317,930.11 318,930.05 319,930.17 320,929.84 321,929.82 322,929.84 323,930.17 324,929.92 325,929.83 326,929.87 327,929.83 328,930.04 329,930.09 330,929.96 331,929.86 332,929.88 333,930.15 334,929.89 335,929.99 336,930.08 337,930.08 338,930.3 339,930.3 340,930.14 341,930.2 342,930.1 343,930.23 344,930 345,930.06 346,930.33 347,930.19 348,930.21 349,930.36 350,930.3 351,930.11 352,930.24 353,930.41 354,930.21 355,930.46 356,930.17 357,930.26 358,930.19 359,930.23 360,930.22 361,930.4 362,930.45 363,930.51 364,930.22 365,930.58 366,930.46 367,930.3 368,930.47 369,930.46 370,930.37 371,930.34 372,930.28 373,930.34 374,930.6 375,930.42 376,930.54 377,930.47 378,930.39 379,930.48 380,930.41 381,930.5 382,930.41 383,930.4 384,930.67 385,930.49 386,930.65 387,930.75 388,930.76 389,930.74 390,930.61 391,930.63 392,930.44 393,930.71 394,930.65 395,930.6 396,930.81 397,930.78 398,930.8 399,930.63 400,930.71 401,930.83 402,930.89 403,930.73 404,930.83 405,930.78 406,930.65 407,930.92 408,930.8 409,930.66 410,930.83 411,930.95 412,930.68 413,930.7 414,930.89 415,930.7 416,930.96 417,930.91 418,930.87 419,930.87 420,931.08 421,930.83 422,930.94 423,930.9 424,931.12 425,930.89 426,930.75 427,930.94 428,930.99 429,931.08 430,931.04 431,931.15 432,930.91 433,931.07 434,931.16 435,931.19 436,931.17 437,931.12 438,931.03 439,931.24 440,931.18 441,931.07 442,931.28 443,931.26 444,931.31 445,931.31 446,931.32 447,931.12 448,931.12 449,931.36 450,930.99 451,931.37 452,931.33 453,931.08 454,931.27 455,931.18 456,931.33 457,931.41 458,931.35 459,931.4 460,931.19 461,931.28 462,931.28 463,931.3" fill="none" stroke="#2a9c9e" stroke-width="1.2" stroke-linejoin="round"/>
<polyline points="59,933.5 107,933.5 108,931.4 112,928.5 118,927.5 125,926.3 140,926.3 150,926.9 165,926.3 172,927 325,928.8 463,929" fill="none" stroke="#d6ef45" stroke-width="1.2" stroke-linejoin="round"/>
<polyline points="83,932.32 84,932.71 85,932.37 86,932.55 87,932.67 88,932.73 89,932.52 90,932.54 91,932.24 92,932.48 93,932.44 94,932.72 95,932.53 96,932.64 97,932.44 98,932.28 99,932.68 100,932.65 101,932.38 102,932.2 103,932.44 104,932.42 105,932.58 106,932.47 107,932.4 107.5,930.35 108.75,926.83 110,923.23 111,922.5 112,922.3 113,921.5 114,920.84 115,920.85 116,920.29 117,919.7 118,919.81 119,919.18 120,918.91 121,918.28 122,917.46 123.5,922.47 124,925.97 125,918.24 126,923.4 127,921.27 128,919.12 129,921.65 130,924.91 131.5,916.97 133,914.33 134,914.1 135,913.42 136,913.86 137,914.66 138,920.48 139,921.33 140,922.17 141,921.83 142,921.43 143,920.97 144,920.67 145,920.11 146,920.51 147,920.13 148,919.66 149,919.53 150,919.35 151,919.54 152,919.07 153,919.3 154,918.73 155,918.82 156,918.61 157,918.2 158,918.02 159,918.4 160,918.29 161,917.47 162,917.54 163,917.39 164,917.04 165,916.73 166,917.95 167,919.73 168,920.1 169,920.46 170,920.42 171,920.61 172,920.71 173,920.53 174,920.83 175,920.56 176,920.72 177,921.26 178,921.04 179,921.31 180,921.35 181,921.16 182,921.35 183,921.55 184,921.2 185,921.21 186,921.11 187,921.11 188,921.5 189,921.42 190,921.58 191,921.4 192,921.58 193,921.13 194,921.11 195,921.13 196,921.23 197,921.59 198,921.13 199,921.27 200,921.04 201,921.02 202,921.33 203,921.37 204,921.31 205,921.55 206,921.52 207,921.57 208,921.35 209,921.16 210,921.08 211,921.46 212,921.09 213,921 214,921.42 215,921.07 216,921.37 217,921.12 218,921.26 219,921.01 220,921.23 221,921.22 222,921.2 223,921.15 224,921.44 225,921.53 226,921.25 227,921.18 228,921.34 229,921.62 230,921.39 231,921.64 232,921.31 233,921.71 234,921.4 235,921.47 236,921.8 237,921.67 238,921.79 239,921.6 240,921.85 241,921.65 242,921.78 243,921.78 244,922.09 245,922.01 246,921.91 247,922.11 248,922 249,922.09 250,921.99 251,922.04 252,921.85 253,922.3 254,922.15 255,922.28 256,922.17 257,921.85 258,921.92 259,922.41 260,922.32 261,922.47 262,922.49 263,922.12 264,922.6 265,922.4 266,922.5 267,922.4 268,922.27 269,922.43 270,922.44 271,922.37 272,922.43 273,922.51 274,922.43 275,922.38 276,922.81 277,922.57 278,922.6 279,922.88 280,922.85 281,922.73 282,922.67 283,922.99 284,922.68 285,922.84 286,922.82 287,923.22 288,922.79 289,923.03 290,923.02 291,922.81 292,922.98 293,923.49 294,923.52 295,923.26 296,923.32 297,923.86 298,923.74 299,923.9 300,924.1 301,923.8 302,924.03 303,924.36 304,924.01 305,924.14 306,924.6 307,924.66 308,924.55 309,924.41 310,924.91 311,924.69 312,925.04 313,924.82 314,924.85 315,925.26 316,925.16 317,925.24 318,925.36 319,925.46 320,925.55 321,925.75 322,925.51 323,925.93 324,925.91 325,926.19 326,925.88 327,926.12 328,925.85 329,926.15 330,926.15 331,926.08 332,926.05 333,926.34 334,925.99 335,925.84 336,925.99 337,925.83 338,926.35 339,926.32 340,925.94 341,926.22 342,925.97 343,926.37 344,926.11 345,925.91 346,926.26 347,925.94 348,926.44 349,926.47 350,926.29 351,926.07 352,926.4 353,925.97 354,926.02 355,926.14 356,926.01 357,926.5 358,926.39 359,926.48 360,926.4 361,926.15 362,926.19 363,926.4 364,926.51 365,926.42 366,926.25 367,926.55 368,926.32 369,926.46 370,926.6 371,926.5 372,926.38 373,926.47 374,926.25 375,926.4 376,926.64 377,926.44 378,926.17 379,926.66 380,926.27 381,926.21 382,926.54 383,926.67 384,926.28 385,926.49 386,926.51 387,926.31 388,926.63 389,926.41 390,926.68 391,926.58 392,926.6 393,926.43 394,926.76 395,926.32 396,926.51 397,926.39 398,926.39 399,926.35 400,926.67 401,926.4 402,926.44 403,926.64 404,926.79 405,926.52 406,926.8 407,926.75 408,926.98 409,926.92 410,927.03 411,926.66 412,926.99 413,926.66 414,926.64 415,926.74 416,926.51 417,926.93 418,926.56 419,926.88 420,926.56 421,926.79 422,926.7 423,927.12 424,926.74 425,926.78 426,926.76 427,926.66 428,926.98 429,926.79 430,926.78 431,926.81 432,926.84 433,927.12 434,926.78 435,926.73 436,926.86 437,927.02 438,926.85 439,926.76 440,926.91 441,927.29 442,927.25 443,926.99 444,926.99 445,926.85 446,927.15 447,927.19 448,926.92 449,927.15 450,926.85 451,926.98 452,926.98 453,927.29 454,927.19 455,927.14 456,927.1 457,927.18 458,927.15 459,927.02 460,927.37 461,927.36 462,927.12 463,927.2" fill="none" stroke="#f3dc2a" stroke-width="1.2" stroke-linejoin="round"/>
<polyline points="59,933.5 165,933 325,932.3 463,932.7" fill="none" stroke="#4fa6dc" stroke-width="1.2" stroke-linejoin="round"/>
<polyline points="83,931.6 93,931.4 106.7,931.2" fill="none" stroke="#ee3f55" stroke-width="1.2" stroke-linejoin="round"/>
<polyline points="106.52,932.13 107.45,930.22 106.21,928.96 106.02,928.08 106.13,928.78 107.83,928.51 106.63,926.83 107.29,925.77 106.08,926.51 107.2,923.5 106.14,922.64 107.94,921.86 107.31,923.63 106.16,921.07 107.07,921.84 106.52,919.05 106.67,917.61 107.55,919.1 107.11,915.95 107.69,917.23 107.6,915.19 107.98,915.28 107.53,914.2 106.85,913.13 108,913 107.13,912.59 108.15,909.45 106.81,909.17 106.72,909.94 108.17,908.48 109.05,907.1 107.65,905.53 108.12,906.89 108.84,903.73 108.68,902.87 109.25,902.27 108.64,903.03 110.24,902.16 109.44,901.44 109.69,898.72 109.98,899.96 110.97,897.68 111.68,898.79 110.73,898.34 110.86,894.81 111.52,896.37 111.87,894.57 111.81,892.94 111.6,892.46 112.26,893.24 111.48,890.32 113.39,890.7 111.82,889.21 113.14,889.78 112.17,888.91 113.74,886.14 113.47,886.88 113.09,885.6 113.92,882.82 113.54,882.94 113.37,883.72 113.68,880.78 114.47,880.86 114,879.44 114.45,880.38 113.7,879.58 115.51,878.09 115.33,876.37 115.74,876.65 115.28,874.96 114.44,874.87 115.54,872.01 114.77,872.79 114.64,870.77 114.66,869.62 114.6,869.94 115.43,869.87 115.12,867.53 116.41,868.24 116,867.6 115.36,866.51 115.42,865.88 116.49,863.16 116.52,862.66 115.03,861.73 116.2,863.22 117,860.27 116.09,861.76 117.08,860.56 115.88,858.05 115.76,857.17 116.35,857.91 116.94,855.19 116.05,855.17 117.55,854.38 117.42,854.17 117.68,852.74 116.76,851.77 117.73,850.37 116.64,851.19 117.34,849.74 116.85,847.07 117.08,847.38 116.82,846.04 118.76,845.67 117.01,845.91 117.7,843.16 118.48,843.77 117.95,843.05 119.15,841.08 118.49,839.22 119.5,839.6" fill="none" stroke="#e8305f" stroke-width="0.9" stroke-linejoin="round"/>
<polyline points="106.8,930.9 107.15,930.59 107.64,929.45 107.31,928.55 107.75,929.86 106.06,928.37 106.31,927.15 107.61,925.26 106.37,924.2 106.09,924.66 106.32,922.74 107.42,922.41 106.73,921.74 107.77,920.72 107.41,921.9 107.29,919.13 106.45,919.42 106.55,917.85 107.86,918.18 106.82,916.12 106.87,915.08 107.32,913.74 106.58,913.01 107.04,913.36 107.05,912.24 107.99,912.47 107.31,911.97 106.5,910.25 108.05,908.89 107.73,907.63 108.59,906.6 108.38,907.35 109.1,907.16 107.95,904.02 108.37,905.21 109.16,904.1 109.16,902.68 110.53,901.48 109.72,901.47 110.87,901.41 110.49,898.02 109.9,897.18 110.01,898.23 110.9,895.73 111.95,896.42 111.52,896.3 110.86,894.28 112,893.54 111.43,893.58 112.88,893.39 112.54,890.16 111.99,888.82 113.64,889.16 112.38,887.1 112.63,889.12 113.53,885.56 112.86,887.22 113.24,885.81 114.1,882.81 114.75,884.22 114.95,881.21 113.66,881.05 114.91,880.97 115.3,880.79 113.6,879.43 113.72,879.31 113.66,876.87 114.96,877.72 114.06,876.89 114.1,874.75 115.55,874.17 115.43,873.39 115.46,873.56 115.17,870.95 114.32,870.94 114.8,869.69 114.83,868.51 116.46,868.16 116.4,866.46 115.71,868.2 115.95,865.38 116.12,865.57 115.91,864.78 116.3,864.67 115.09,864.41 116.31,861.77 115.36,860.47 115.36,861.26 115.75,858.38 116.28,859.38 115.8,858.88 117.47,857.55 115.77,856.96 117.43,855.07 117.53,854 115.99,854.63 116.44,853.91 117.43,851.64 117.31,851.16 116.92,851.07 118.04,848.44 117.73,849.25 117.63,848.48 118.64,847.47 117.23,847.22 118.78,844.43 118.73,842.87 118.77,843.47 119.07,842.2 118.81,842.49 119.11,839.97 119.5,839.6" fill="none" stroke="#e8305f" stroke-width="0.9" stroke-linejoin="round"/>
<polyline points="105.83,931.74 105.95,931.94 106.78,929.02 105.88,930.26 106.13,929.44 107.11,927.94 107.59,927.42 107.05,926 106.43,924.4 106.81,924.29 107.54,923.16 106.82,924.38 107.3,922.71 107.46,922.64 106.53,921.4 106.28,919.04 107.37,918.42 107.18,917.31 106.74,917.14 107.49,917.1 107.29,915.34 108.25,915.72 107.45,914.2 106.68,912.36 106.58,913.77 108.1,910.32 107.86,910.44 107.83,909.81 107.34,907.9 107.26,908.13 108.5,906.5 108.13,908.1 107.64,905.6 109.33,905.5 109.71,904.54 109.29,902.59 109.1,902.67 110.31,902.31 109.6,902.14 110.37,900.87 109.78,898.69 110.91,898.39 110.51,899.06 112.09,897.49 112.28,896.78 111.41,894.14 111.8,895.65 111.98,894.31 111.75,891.33 112.19,891.44 112.47,892.49 113.4,891.47 112.96,889.46 112.91,889.8 112.02,886.3 112.36,886.65 114.38,887.1 113.72,886.36 114.25,885.05 113.52,882.05 113.53,883.46 114.94,881.86 113.58,880.47 113.9,880.21 114.98,880.23 114.75,877.78 114.35,876.68 113.96,875.35 114.07,877.17 114.92,876.51 115.02,873.63 114.63,873.4 115.42,872.07 115.66,870.42 115.63,870.17 114.61,871.24 115.94,868.64 114.57,869.33 116.4,866.63 116.55,867.85 115.18,864.87 116.19,864.99 115.41,866.04 115.19,863.32 116.12,864.31 115.2,860.85 115.32,860.53 115.9,860.34 116.03,858.68 116.49,857.77 116.05,856.64 115.67,856.89 116.45,856.6 117.52,856.05 116.04,855.11 117.1,854.43 115.95,852.1 117.85,853.11 116.37,850.09 116.59,849.67 118.23,848.94 117.47,849.68 118.2,846.77 118.02,846.13 117.26,845.78 118.79,844.95 118.89,844.12 117.41,844.68 117.4,843.64 118.23,842.45 119.47,839.74 119.5,839.6" fill="none" stroke="#e8305f" stroke-width="0.9" stroke-linejoin="round"/>
<line x1="58.5" y1="826.5" x2="463.5" y2="826.5" stroke="#6a6a6a" stroke-width="1"/>
<line x1="58.5" y1="935.5" x2="463.5" y2="935.5" stroke="#6a6a6a" stroke-width="1"/>
<line x1="58.5" y1="826" x2="58.5" y2="936" stroke="#6a6a6a" stroke-width="1"/>
<line x1="463.5" y1="826" x2="463.5" y2="936" stroke="#999999" stroke-width="1"/>
<line x1="66" y1="935.5" x2="66" y2="931.5" stroke="#6a6a6a" stroke-width="1"/>
<line x1="66" y1="826.5" x2="66" y2="830.5" stroke="#6a6a6a" stroke-width="1"/>
<text x="66" y="947.9" font-size="9" fill="#2b2b2b" stroke="#2b2b2b" stroke-width="0.3" text-anchor="middle">0</text>
<line x1="102.12" y1="935.5" x2="102.12" y2="931.5" stroke="#6a6a6a" stroke-width="1"/>
<line x1="102.12" y1="826.5" x2="102.12" y2="830.5" stroke="#6a6a6a" stroke-width="1"/>
<text x="102.12" y="947.9" font-size="9" fill="#2b2b2b" stroke="#2b2b2b" stroke-width="0.3" text-anchor="middle">500</text>
<line x1="138.23" y1="935.5" x2="138.23" y2="931.5" stroke="#6a6a6a" stroke-width="1"/>
<line x1="138.23" y1="826.5" x2="138.23" y2="830.5" stroke="#6a6a6a" stroke-width="1"/>
<text x="138.23" y="947.9" font-size="9" fill="#2b2b2b" stroke="#2b2b2b" stroke-width="0.3" text-anchor="middle">1000</text>
<line x1="174.34" y1="935.5" x2="174.34" y2="931.5" stroke="#6a6a6a" stroke-width="1"/>
<line x1="174.34" y1="826.5" x2="174.34" y2="830.5" stroke="#6a6a6a" stroke-width="1"/>
<text x="174.34" y="947.9" font-size="9" fill="#2b2b2b" stroke="#2b2b2b" stroke-width="0.3" text-anchor="middle">1500</text>
<line x1="210.46" y1="935.5" x2="210.46" y2="931.5" stroke="#6a6a6a" stroke-width="1"/>
<line x1="210.46" y1="826.5" x2="210.46" y2="830.5" stroke="#6a6a6a" stroke-width="1"/>
<text x="210.46" y="947.9" font-size="9" fill="#2b2b2b" stroke="#2b2b2b" stroke-width="0.3" text-anchor="middle">2000</text>
<line x1="246.58" y1="935.5" x2="246.58" y2="931.5" stroke="#6a6a6a" stroke-width="1"/>
<line x1="246.58" y1="826.5" x2="246.58" y2="830.5" stroke="#6a6a6a" stroke-width="1"/>
<text x="246.58" y="947.9" font-size="9" fill="#2b2b2b" stroke="#2b2b2b" stroke-width="0.3" text-anchor="middle">2500</text>
<line x1="282.69" y1="935.5" x2="282.69" y2="931.5" stroke="#6a6a6a" stroke-width="1"/>
<line x1="282.69" y1="826.5" x2="282.69" y2="830.5" stroke="#6a6a6a" stroke-width="1"/>
<text x="282.69" y="947.9" font-size="9" fill="#2b2b2b" stroke="#2b2b2b" stroke-width="0.3" text-anchor="middle">3000</text>
<line x1="318.81" y1="935.5" x2="318.81" y2="931.5" stroke="#6a6a6a" stroke-width="1"/>
<line x1="318.81" y1="826.5" x2="318.81" y2="830.5" stroke="#6a6a6a" stroke-width="1"/>
<text x="318.81" y="947.9" font-size="9" fill="#2b2b2b" stroke="#2b2b2b" stroke-width="0.3" text-anchor="middle">3500</text>
<line x1="354.92" y1="935.5" x2="354.92" y2="931.5" stroke="#6a6a6a" stroke-width="1"/>
<line x1="354.92" y1="826.5" x2="354.92" y2="830.5" stroke="#6a6a6a" stroke-width="1"/>
<text x="354.92" y="947.9" font-size="9" fill="#2b2b2b" stroke="#2b2b2b" stroke-width="0.3" text-anchor="middle">4000</text>
<line x1="391.04" y1="935.5" x2="391.04" y2="931.5" stroke="#6a6a6a" stroke-width="1"/>
<line x1="391.04" y1="826.5" x2="391.04" y2="830.5" stroke="#6a6a6a" stroke-width="1"/>
<text x="391.04" y="947.9" font-size="9" fill="#2b2b2b" stroke="#2b2b2b" stroke-width="0.3" text-anchor="middle">4500</text>
<line x1="427.15" y1="935.5" x2="427.15" y2="931.5" stroke="#6a6a6a" stroke-width="1"/>
<line x1="427.15" y1="826.5" x2="427.15" y2="830.5" stroke="#6a6a6a" stroke-width="1"/>
<text x="427.15" y="947.9" font-size="9" fill="#2b2b2b" stroke="#2b2b2b" stroke-width="0.3" text-anchor="middle">5000</text>
<line x1="463.26" y1="935.5" x2="463.26" y2="931.5" stroke="#6a6a6a" stroke-width="1"/>
<line x1="463.26" y1="826.5" x2="463.26" y2="830.5" stroke="#6a6a6a" stroke-width="1"/>
<text x="463.26" y="947.9" font-size="9" fill="#2b2b2b" stroke="#2b2b2b" stroke-width="0.3" text-anchor="middle">5500</text>
<line x1="58.5" y1="935.5" x2="62.5" y2="935.5" stroke="#6a6a6a" stroke-width="1"/>
<text x="55.5" y="938.8" font-size="9" fill="#2b2b2b" stroke="#2b2b2b" stroke-width="0.3" text-anchor="end">0</text>
<line x1="58.5" y1="917.3" x2="62.5" y2="917.3" stroke="#6a6a6a" stroke-width="1"/>
<text x="55.5" y="920.6" font-size="9" fill="#2b2b2b" stroke="#2b2b2b" stroke-width="0.3" text-anchor="end">250</text>
<line x1="58.5" y1="899.1" x2="62.5" y2="899.1" stroke="#6a6a6a" stroke-width="1"/>
<text x="55.5" y="902.4" font-size="9" fill="#2b2b2b" stroke="#2b2b2b" stroke-width="0.3" text-anchor="end">500</text>
<line x1="58.5" y1="880.8" x2="62.5" y2="880.8" stroke="#6a6a6a" stroke-width="1"/>
<text x="55.5" y="884.1" font-size="9" fill="#2b2b2b" stroke="#2b2b2b" stroke-width="0.3" text-anchor="end">750</text>
<line x1="58.5" y1="862.6" x2="62.5" y2="862.6" stroke="#6a6a6a" stroke-width="1"/>
<text x="55.5" y="865.9" font-size="9" fill="#2b2b2b" stroke="#2b2b2b" stroke-width="0.3" text-anchor="end">1000</text>
<line x1="58.5" y1="844.4" x2="62.5" y2="844.4" stroke="#6a6a6a" stroke-width="1"/>
<text x="55.5" y="847.7" font-size="9" fill="#2b2b2b" stroke="#2b2b2b" stroke-width="0.3" text-anchor="end">1250</text>
<line x1="58.5" y1="826.5" x2="62.5" y2="826.5" stroke="#6a6a6a" stroke-width="1"/>
<text x="55.5" y="829.8" font-size="9" fill="#2b2b2b" stroke="#2b2b2b" stroke-width="0.3" text-anchor="end">1500</text>
<line x1="459.5" y1="935.5" x2="463.5" y2="935.5" stroke="#999999" stroke-width="1"/>
<text x="466.5" y="938.8" font-size="9" fill="#999999" stroke="#999999" stroke-width="0.3" text-anchor="start">0</text>
<line x1="459.5" y1="899.5" x2="463.5" y2="899.5" stroke="#999999" stroke-width="1"/>
<text x="466.5" y="902.8" font-size="9" fill="#999999" stroke="#999999" stroke-width="0.3" text-anchor="start">50</text>
<line x1="459.5" y1="862.8" x2="463.5" y2="862.8" stroke="#999999" stroke-width="1"/>
<text x="466.5" y="866.1" font-size="9" fill="#999999" stroke="#999999" stroke-width="0.3" text-anchor="start">100</text>
<line x1="459.5" y1="826.5" x2="463.5" y2="826.5" stroke="#999999" stroke-width="1"/>
<text x="466.5" y="829.8" font-size="9" fill="#999999" stroke="#999999" stroke-width="0.3" text-anchor="start">150</text>
<text x="34" y="880.5" font-size="11.5" fill="#2b2b2b" stroke="#2b2b2b" stroke-width="0.3" text-anchor="middle" transform="rotate(-90 34 880.5)"><tspan font-style="italic">T</tspan> / °C</text>
<text x="494.4" y="881" font-size="11" fill="#999999" stroke="#999999" stroke-width="0.3" text-anchor="middle" transform="rotate(-90 494.4 881)"><tspan font-style="italic">P</tspan><tspan font-size="8.5" dy="6">ISC</tspan><tspan dy="-6"> / W</tspan></text>
<text x="261" y="961.4" font-size="11.5" fill="#2b2b2b" stroke="#2b2b2b" stroke-width="0.3" text-anchor="middle"><tspan font-style="italic">t</tspan> / s</text>
<rect x="319.5" y="848.5" width="119" height="42" fill="#fff" stroke="#444" stroke-width="1"/>
<line x1="329.6" y1="855.5" x2="340" y2="855.5" stroke="#ea5a84" stroke-width="1.3"/>
<text x="342" y="858.6" font-size="9.2" fill="#2b2b2b" stroke="#2b2b2b" stroke-width="0.3" text-anchor="start"><tspan font-style="italic">T</tspan>-Needle</text>
<line x1="329.6" y1="868.5" x2="340" y2="868.5" stroke="#f3dc2a" stroke-width="1.3"/>
<text x="342" y="871" font-size="9.2" fill="#2b2b2b" stroke="#2b2b2b" stroke-width="0.3" text-anchor="start"><tspan font-style="italic">T</tspan>-9*</text>
<line x1="329.6" y1="882.5" x2="340" y2="882.5" stroke="#d6ef45" stroke-width="1.3"/>
<text x="342" y="885" font-size="9.2" fill="#2b2b2b" stroke="#2b2b2b" stroke-width="0.3" text-anchor="start"><tspan font-style="italic">T</tspan>-9**</text>
<line x1="383" y1="855.5" x2="393.6" y2="855.5" stroke="#2a9c9e" stroke-width="1.3"/>
<text x="395.6" y="858.6" font-size="9.2" fill="#2b2b2b" stroke="#2b2b2b" stroke-width="0.3" text-anchor="start"><tspan font-style="italic">T</tspan>-9***</text>
<line x1="383" y1="868.5" x2="393.6" y2="868.5" stroke="#4fa6dc" stroke-width="1.3"/>
<text x="395.6" y="871" font-size="9.2" fill="#2b2b2b" stroke="#2b2b2b" stroke-width="0.3" text-anchor="start"><tspan font-style="italic">T</tspan>-Mean</text>
<line x1="383" y1="882.5" x2="393.6" y2="882.5" stroke="#cccccc" stroke-width="1.3"/>
<text x="395.6" y="885" font-size="9.2" fill="#2b2b2b" stroke="#2b2b2b" stroke-width="0.3" text-anchor="start"><tspan font-style="italic">P</tspan><tspan font-size="7.3" dy="3.5">ISC</tspan></text>
<text x="4.8" y="990" font-size="13" fill="#111" stroke="#111" stroke-width="0.3" text-anchor="start" style="font-family:'Liberation Serif',serif;font-weight:bold;stroke-width:0"><tspan style="font-weight:normal">(</tspan>c<tspan style="font-weight:normal">)</tspan></text>
</svg>
</body></html>
